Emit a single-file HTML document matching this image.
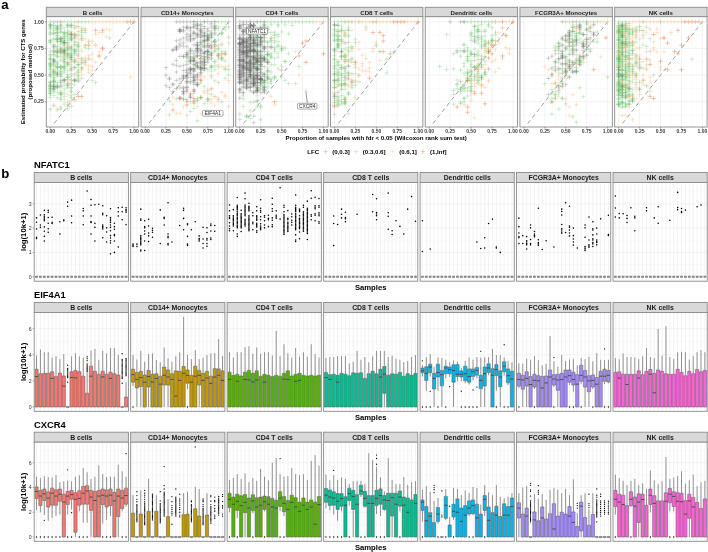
<!DOCTYPE html>
<html><head><meta charset="utf-8"><title>Figure</title>
<style>html,body{margin:0;padding:0;background:#fff}svg{display:block}text{font-family:"Liberation Sans", Arial, Helvetica, sans-serif}</style>
</head><body>
<svg width="708" height="552" viewBox="0 0 708 552">
<rect width="708" height="552" fill="#fff"/>
<rect x="46.30" y="7.3" width="92.4" height="9.40" fill="#d9d9d9" stroke="#8a8a8a" stroke-width="0.9"/>
<rect x="46.30" y="16.7" width="92.4" height="110.30" fill="#fff"/>
<path d="M60.76 16.7V127.0M46.30 114.99H138.70M81.69 16.7V127.0M46.30 88.36H138.70M102.61 16.7V127.0M46.30 61.74H138.70M123.54 16.7V127.0M46.30 35.11H138.70" stroke="#f4f4f4" stroke-width="0.4" fill="none"/>
<path d="M50.30 16.7V127.0M71.22 16.7V127.0M46.30 101.68H138.70M92.15 16.7V127.0M46.30 75.05H138.70M113.08 16.7V127.0M46.30 48.43H138.70M134.00 16.7V127.0M46.30 21.80H138.70" stroke="#ebebeb" stroke-width="0.6" fill="none"/>
<clipPath id="ca0"><rect x="46.30" y="16.7" width="92.4" height="110.30"/></clipPath>
<g clip-path="url(#ca0)">
<path d="M54.07 123.51L134.00 21.80" stroke="#8c8c8c" stroke-width="0.85" stroke-dasharray="4.2 3.2" fill="none"/>
<path d="M48.0 21.8h4.6M50.3 19.5v4.6M62.0 21.8h4.6M64.2 19.5v4.6M65.4 21.8h4.6M67.7 19.5v4.6M68.9 21.8h4.6M71.2 19.5v4.6M72.4 21.8h4.6M74.7 19.5v4.6M75.9 21.8h4.6M78.2 19.5v4.6M79.4 21.8h4.6M81.7 19.5v4.6M82.9 21.8h4.6M85.2 19.5v4.6M86.4 21.8h4.6M88.7 19.5v4.6M48.0 65.0h4.6M50.3 62.7v4.6M48.0 85.5h4.6M50.3 83.2v4.6M48.0 88.6h4.6M50.3 86.3v4.6M48.0 59.7h4.6M50.3 57.4v4.6M48.0 40.6h4.6M50.3 38.3v4.6M48.0 74.3h4.6M50.3 72.0v4.6M48.0 55.9h4.6M50.3 53.6v4.6M48.0 75.8h4.6M50.3 73.5v4.6M48.0 90.6h4.6M50.3 88.3v4.6M48.0 51.1h4.6M50.3 48.8v4.6M48.0 68.6h4.6M50.3 66.3v4.6M48.0 42.1h4.6M50.3 39.8v4.6M48.0 92.8h4.6M50.3 90.5v4.6M48.0 27.7h4.6M50.3 25.4v4.6M48.0 63.8h4.6M50.3 61.5v4.6M48.0 76.1h4.6M50.3 73.8v4.6M48.0 32.1h4.6M50.3 29.8v4.6M48.0 33.2h4.6M50.3 30.9v4.6M48.0 66.3h4.6M50.3 64.0v4.6M48.0 85.3h4.6M50.3 83.0v4.6M48.0 63.1h4.6M50.3 60.8v4.6M48.0 42.0h4.6M50.3 39.7v4.6M48.0 66.8h4.6M50.3 64.5v4.6M48.0 24.7h4.6M50.3 22.4v4.6M48.0 64.7h4.6M50.3 62.4v4.6M48.0 91.6h4.6M50.3 89.3v4.6M48.0 86.9h4.6M50.3 84.6v4.6M48.0 29.0h4.6M50.3 26.7v4.6M48.0 82.8h4.6M50.3 80.5v4.6M48.0 34.4h4.6M50.3 32.1v4.6M48.0 24.9h4.6M50.3 22.6v4.6M48.0 54.5h4.6M50.3 52.2v4.6M48.0 89.1h4.6M50.3 86.8v4.6M48.0 58.9h4.6M50.3 56.6v4.6M48.0 25.0h4.6M50.3 22.7v4.6M48.0 88.9h4.6M50.3 86.6v4.6M48.0 40.1h4.6M50.3 37.8v4.6M48.0 69.7h4.6M50.3 67.4v4.6M48.0 63.6h4.6M50.3 61.3v4.6M48.0 58.5h4.6M50.3 56.2v4.6M48.0 74.5h4.6M50.3 72.2v4.6M48.0 84.3h4.6M50.3 82.0v4.6M48.0 72.0h4.6M50.3 69.7v4.6M51.5 73.4h4.6M53.8 71.1v4.6M51.5 46.3h4.6M53.8 44.0v4.6M51.5 81.9h4.6M53.8 79.6v4.6M51.5 38.9h4.6M53.8 36.6v4.6M51.5 81.9h4.6M53.8 79.6v4.6M51.5 33.9h4.6M53.8 31.6v4.6M51.5 55.1h4.6M53.8 52.8v4.6M51.5 51.6h4.6M53.8 49.3v4.6M51.5 70.5h4.6M53.8 68.2v4.6M51.5 77.6h4.6M53.8 75.3v4.6M51.5 52.2h4.6M53.8 49.9v4.6M51.5 65.7h4.6M53.8 63.4v4.6M51.5 81.4h4.6M53.8 79.1v4.6M51.5 47.6h4.6M53.8 45.3v4.6M51.5 91.7h4.6M53.8 89.4v4.6M51.5 59.3h4.6M53.8 57.0v4.6M51.5 69.1h4.6M53.8 66.8v4.6M51.5 71.5h4.6M53.8 69.2v4.6M51.5 87.8h4.6M53.8 85.5v4.6M51.5 64.8h4.6M53.8 62.5v4.6M51.5 81.0h4.6M53.8 78.7v4.6M51.5 89.8h4.6M53.8 87.5v4.6M51.5 80.2h4.6M53.8 77.9v4.6M51.5 39.4h4.6M53.8 37.1v4.6M51.5 86.1h4.6M53.8 83.8v4.6M51.5 89.3h4.6M53.8 87.0v4.6M51.5 75.4h4.6M53.8 73.1v4.6M51.5 78.1h4.6M53.8 75.8v4.6M51.5 81.3h4.6M53.8 79.0v4.6M51.5 28.4h4.6M53.8 26.1v4.6M51.5 54.5h4.6M53.8 52.2v4.6M51.5 71.3h4.6M53.8 69.0v4.6M51.5 25.2h4.6M53.8 22.9v4.6M51.5 44.4h4.6M53.8 42.1v4.6M51.5 25.8h4.6M53.8 23.5v4.6M51.5 30.3h4.6M53.8 28.0v4.6M55.0 67.0h4.6M57.3 64.7v4.6M55.0 87.6h4.6M57.3 85.3v4.6M55.0 35.6h4.6M57.3 33.3v4.6M55.0 52.7h4.6M57.3 50.4v4.6M55.0 66.9h4.6M57.3 64.6v4.6M55.0 73.8h4.6M57.3 71.5v4.6M55.0 29.2h4.6M57.3 26.9v4.6M55.0 40.0h4.6M57.3 37.7v4.6M55.0 76.3h4.6M57.3 74.0v4.6M55.0 52.2h4.6M57.3 49.9v4.6M55.0 92.4h4.6M57.3 90.1v4.6M55.0 49.3h4.6M57.3 47.0v4.6M55.0 61.7h4.6M57.3 59.4v4.6M55.0 39.2h4.6M57.3 36.9v4.6M55.0 46.6h4.6M57.3 44.3v4.6M55.0 30.7h4.6M57.3 28.4v4.6M55.0 33.3h4.6M57.3 31.0v4.6M55.0 32.5h4.6M57.3 30.2v4.6M55.0 27.2h4.6M57.3 24.9v4.6M55.0 87.0h4.6M57.3 84.7v4.6M55.0 66.9h4.6M57.3 64.6v4.6M55.0 25.7h4.6M57.3 23.4v4.6M55.0 32.7h4.6M57.3 30.4v4.6M55.0 74.5h4.6M57.3 72.2v4.6M55.0 36.0h4.6M57.3 33.7v4.6M55.0 85.1h4.6M57.3 82.8v4.6M55.0 50.9h4.6M57.3 48.6v4.6M55.0 56.7h4.6M57.3 54.4v4.6M55.0 38.8h4.6M57.3 36.5v4.6M55.0 38.1h4.6M57.3 35.8v4.6M55.0 67.0h4.6M57.3 64.7v4.6M55.0 69.3h4.6M57.3 67.0v4.6M55.0 28.6h4.6M57.3 26.3v4.6M55.0 55.9h4.6M57.3 53.6v4.6M55.0 28.7h4.6M57.3 26.4v4.6M55.0 39.5h4.6M57.3 37.2v4.6M55.0 63.3h4.6M57.3 61.0v4.6M55.0 46.1h4.6M57.3 43.8v4.6M55.0 64.4h4.6M57.3 62.1v4.6M55.0 86.8h4.6M57.3 84.5v4.6M55.0 56.1h4.6M57.3 53.8v4.6M55.0 82.5h4.6M57.3 80.2v4.6M55.0 51.5h4.6M57.3 49.2v4.6M58.5 56.8h4.6M60.8 54.5v4.6M58.5 71.1h4.6M60.8 68.8v4.6M58.5 86.8h4.6M60.8 84.5v4.6M58.5 93.2h4.6M60.8 90.9v4.6M58.5 44.3h4.6M60.8 42.0v4.6M58.5 82.7h4.6M60.8 80.4v4.6M58.5 41.5h4.6M60.8 39.2v4.6M58.5 51.0h4.6M60.8 48.7v4.6M58.5 74.0h4.6M60.8 71.7v4.6M58.5 66.5h4.6M60.8 64.2v4.6M58.5 26.0h4.6M60.8 23.7v4.6M58.5 81.8h4.6M60.8 79.5v4.6M58.5 41.3h4.6M60.8 39.0v4.6M58.5 92.8h4.6M60.8 90.5v4.6M58.5 94.2h4.6M60.8 91.9v4.6M58.5 24.6h4.6M60.8 22.3v4.6M58.5 38.6h4.6M60.8 36.3v4.6M58.5 94.4h4.6M60.8 92.1v4.6M58.5 52.5h4.6M60.8 50.2v4.6M58.5 25.8h4.6M60.8 23.5v4.6M58.5 67.0h4.6M60.8 64.7v4.6M58.5 50.7h4.6M60.8 48.4v4.6M58.5 73.6h4.6M60.8 71.3v4.6M58.5 31.8h4.6M60.8 29.5v4.6M58.5 40.8h4.6M60.8 38.5v4.6M58.5 67.7h4.6M60.8 65.4v4.6M58.5 49.5h4.6M60.8 47.2v4.6M58.5 76.1h4.6M60.8 73.8v4.6M58.5 38.1h4.6M60.8 35.8v4.6M58.5 67.5h4.6M60.8 65.2v4.6M58.5 39.1h4.6M60.8 36.8v4.6M58.5 32.0h4.6M60.8 29.7v4.6M58.5 60.3h4.6M60.8 58.0v4.6M58.5 71.7h4.6M60.8 69.4v4.6M58.5 53.7h4.6M60.8 51.4v4.6M58.5 41.6h4.6M60.8 39.3v4.6M58.5 94.1h4.6M60.8 91.8v4.6M58.5 76.3h4.6M60.8 74.0v4.6M58.5 38.4h4.6M60.8 36.1v4.6M58.5 52.0h4.6M60.8 49.7v4.6M58.5 50.0h4.6M60.8 47.7v4.6M58.5 67.1h4.6M60.8 64.8v4.6M62.0 43.8h4.6M64.2 41.5v4.6M62.0 42.5h4.6M64.2 40.2v4.6M62.0 50.0h4.6M64.2 47.7v4.6M62.0 56.0h4.6M64.2 53.7v4.6M62.0 42.4h4.6M64.2 40.1v4.6M62.0 36.2h4.6M64.2 33.9v4.6M62.0 68.6h4.6M64.2 66.3v4.6M62.0 47.0h4.6M64.2 44.7v4.6M62.0 62.9h4.6M64.2 60.6v4.6M62.0 33.9h4.6M64.2 31.6v4.6M62.0 67.8h4.6M64.2 65.5v4.6M62.0 33.0h4.6M64.2 30.7v4.6M62.0 66.6h4.6M64.2 64.3v4.6M62.0 59.8h4.6M64.2 57.5v4.6M62.0 59.3h4.6M64.2 57.0v4.6M62.0 89.0h4.6M64.2 86.7v4.6M62.0 42.8h4.6M64.2 40.5v4.6M62.0 53.5h4.6M64.2 51.2v4.6M62.0 38.8h4.6M64.2 36.5v4.6M62.0 38.2h4.6M64.2 35.9v4.6M62.0 66.2h4.6M64.2 63.9v4.6M62.0 32.6h4.6M64.2 30.3v4.6M62.0 84.8h4.6M64.2 82.5v4.6M62.0 72.3h4.6M64.2 70.0v4.6M62.0 70.0h4.6M64.2 67.7v4.6M62.0 80.2h4.6M64.2 77.9v4.6M62.0 45.5h4.6M64.2 43.2v4.6M62.0 42.5h4.6M64.2 40.2v4.6M62.0 36.8h4.6M64.2 34.5v4.6M62.0 32.8h4.6M64.2 30.5v4.6M62.0 57.3h4.6M64.2 55.0v4.6M62.0 27.9h4.6M64.2 25.6v4.6M62.0 50.8h4.6M64.2 48.5v4.6M62.0 93.1h4.6M64.2 90.8v4.6M62.0 54.7h4.6M64.2 52.4v4.6M62.0 79.7h4.6M64.2 77.4v4.6M62.0 49.3h4.6M64.2 47.0v4.6M62.0 66.1h4.6M64.2 63.8v4.6M62.0 52.1h4.6M64.2 49.8v4.6M65.4 48.0h4.6M67.7 45.7v4.6M65.4 64.7h4.6M67.7 62.4v4.6M65.4 49.6h4.6M67.7 47.3v4.6M65.4 42.5h4.6M67.7 40.2v4.6M65.4 54.1h4.6M67.7 51.8v4.6M65.4 38.0h4.6M67.7 35.7v4.6M65.4 54.1h4.6M67.7 51.8v4.6M65.4 63.1h4.6M67.7 60.8v4.6M65.4 25.6h4.6M67.7 23.3v4.6M65.4 34.6h4.6M67.7 32.3v4.6M65.4 64.8h4.6M67.7 62.5v4.6M65.4 87.9h4.6M67.7 85.6v4.6M65.4 58.7h4.6M67.7 56.4v4.6M65.4 45.0h4.6M67.7 42.7v4.6M65.4 53.5h4.6M67.7 51.2v4.6M65.4 33.6h4.6M67.7 31.3v4.6M65.4 40.1h4.6M67.7 37.8v4.6M65.4 24.9h4.6M67.7 22.6v4.6M65.4 48.2h4.6M67.7 45.9v4.6M65.4 56.7h4.6M67.7 54.4v4.6M65.4 27.0h4.6M67.7 24.7v4.6M65.4 55.8h4.6M67.7 53.5v4.6M65.4 77.5h4.6M67.7 75.2v4.6M65.4 85.4h4.6M67.7 83.1v4.6M65.4 47.7h4.6M67.7 45.4v4.6M65.4 86.0h4.6M67.7 83.7v4.6M65.4 35.9h4.6M67.7 33.6v4.6M65.4 84.8h4.6M67.7 82.5v4.6M65.4 32.3h4.6M67.7 30.0v4.6M65.4 25.2h4.6M67.7 22.9v4.6M65.4 77.0h4.6M67.7 74.7v4.6M65.4 30.9h4.6M67.7 28.6v4.6M65.4 50.0h4.6M67.7 47.7v4.6M65.4 74.6h4.6M67.7 72.3v4.6M65.4 77.5h4.6M67.7 75.2v4.6M65.4 79.5h4.6M67.7 77.2v4.6M65.4 43.0h4.6M67.7 40.7v4.6M65.4 70.3h4.6M67.7 68.0v4.6M65.4 55.0h4.6M67.7 52.7v4.6M68.9 31.8h4.6M71.2 29.5v4.6M68.9 74.2h4.6M71.2 71.9v4.6M68.9 50.3h4.6M71.2 48.0v4.6M68.9 68.5h4.6M71.2 66.2v4.6M68.9 34.1h4.6M71.2 31.8v4.6M68.9 36.9h4.6M71.2 34.6v4.6M68.9 47.8h4.6M71.2 45.5v4.6M68.9 40.6h4.6M71.2 38.3v4.6M68.9 34.3h4.6M71.2 32.0v4.6M68.9 53.0h4.6M71.2 50.7v4.6M68.9 25.5h4.6M71.2 23.2v4.6M68.9 57.3h4.6M71.2 55.0v4.6M68.9 49.0h4.6M71.2 46.7v4.6M68.9 61.9h4.6M71.2 59.6v4.6M68.9 91.8h4.6M71.2 89.5v4.6M68.9 87.5h4.6M71.2 85.2v4.6M68.9 53.6h4.6M71.2 51.3v4.6M68.9 57.1h4.6M71.2 54.8v4.6M68.9 59.5h4.6M71.2 57.2v4.6M68.9 38.1h4.6M71.2 35.8v4.6M68.9 55.3h4.6M71.2 53.0v4.6M68.9 91.2h4.6M71.2 88.9v4.6M68.9 59.3h4.6M71.2 57.0v4.6M68.9 38.7h4.6M71.2 36.4v4.6M68.9 26.8h4.6M71.2 24.5v4.6M68.9 66.3h4.6M71.2 64.0v4.6M68.9 54.9h4.6M71.2 52.6v4.6M68.9 76.4h4.6M71.2 74.1v4.6M68.9 88.1h4.6M71.2 85.8v4.6M72.4 84.8h4.6M74.7 82.5v4.6M72.4 73.9h4.6M74.7 71.6v4.6M72.4 25.6h4.6M74.7 23.3v4.6M72.4 50.0h4.6M74.7 47.7v4.6M72.4 44.8h4.6M74.7 42.5v4.6M72.4 42.1h4.6M74.7 39.8v4.6M72.4 35.9h4.6M74.7 33.6v4.6M72.4 34.8h4.6M74.7 32.5v4.6M72.4 67.6h4.6M74.7 65.3v4.6M72.4 59.8h4.6M74.7 57.5v4.6M72.4 80.9h4.6M74.7 78.6v4.6M72.4 36.1h4.6M74.7 33.8v4.6M72.4 55.2h4.6M74.7 52.9v4.6M72.4 34.5h4.6M74.7 32.2v4.6M72.4 80.6h4.6M74.7 78.3v4.6M72.4 53.4h4.6M74.7 51.1v4.6M72.4 60.7h4.6M74.7 58.4v4.6M72.4 51.7h4.6M74.7 49.4v4.6M72.4 51.8h4.6M74.7 49.5v4.6M72.4 79.8h4.6M74.7 77.5v4.6M72.4 44.8h4.6M74.7 42.5v4.6M72.4 49.8h4.6M74.7 47.5v4.6M72.4 62.0h4.6M74.7 59.7v4.6M72.4 49.8h4.6M74.7 47.5v4.6M72.4 80.6h4.6M74.7 78.3v4.6M72.4 27.9h4.6M74.7 25.6v4.6M72.4 62.0h4.6M74.7 59.7v4.6M75.9 50.1h4.6M78.2 47.8v4.6M75.9 44.2h4.6M78.2 41.9v4.6M75.9 64.7h4.6M78.2 62.4v4.6M75.9 26.5h4.6M78.2 24.2v4.6M75.9 76.3h4.6M78.2 74.0v4.6M75.9 31.5h4.6M78.2 29.2v4.6M75.9 65.0h4.6M78.2 62.7v4.6M75.9 80.1h4.6M78.2 77.8v4.6M75.9 35.7h4.6M78.2 33.4v4.6M75.9 51.8h4.6M78.2 49.5v4.6M75.9 72.0h4.6M78.2 69.7v4.6M75.9 47.0h4.6M78.2 44.7v4.6M75.9 45.8h4.6M78.2 43.5v4.6M75.9 46.2h4.6M78.2 43.9v4.6M75.9 69.4h4.6M78.2 67.1v4.6M75.9 78.3h4.6M78.2 76.0v4.6M75.9 42.5h4.6M78.2 40.2v4.6M75.9 64.5h4.6M78.2 62.2v4.6M75.9 72.4h4.6M78.2 70.1v4.6M75.9 75.4h4.6M78.2 73.1v4.6M79.4 35.9h4.6M81.7 33.6v4.6M79.4 59.2h4.6M81.7 56.9v4.6M79.4 58.3h4.6M81.7 56.0v4.6M79.4 38.9h4.6M81.7 36.6v4.6M79.4 32.4h4.6M81.7 30.1v4.6M79.4 38.5h4.6M81.7 36.2v4.6M79.4 30.0h4.6M81.7 27.7v4.6M79.4 78.5h4.6M81.7 76.2v4.6M79.4 28.1h4.6M81.7 25.8v4.6M79.4 63.3h4.6M81.7 61.0v4.6M79.4 62.5h4.6M81.7 60.2v4.6M79.4 67.9h4.6M81.7 65.6v4.6M79.4 68.2h4.6M81.7 65.9v4.6M82.9 32.6h4.6M85.2 30.3v4.6M82.9 60.2h4.6M85.2 57.9v4.6M82.9 30.5h4.6M85.2 28.2v4.6M82.9 45.0h4.6M85.2 42.7v4.6M82.9 47.3h4.6M85.2 45.0v4.6M86.4 59.3h4.6M88.7 57.0v4.6M86.4 48.6h4.6M88.7 46.3v4.6M86.4 41.4h4.6M88.7 39.1v4.6M48.0 97.3h4.6M50.3 95.0v4.6M48.0 93.7h4.6M50.3 91.4v4.6M48.0 93.7h4.6M50.3 91.4v4.6M51.5 95.5h4.6M53.8 93.2v4.6M51.5 105.7h4.6M53.8 103.4v4.6M55.0 110.1h4.6M57.3 107.8v4.6M55.0 97.9h4.6M57.3 95.6v4.6M58.5 107.0h4.6M60.8 104.7v4.6M58.5 98.1h4.6M60.8 95.8v4.6M58.5 99.7h4.6M60.8 97.4v4.6M62.0 96.4h4.6M64.2 94.1v4.6M62.0 104.2h4.6M64.2 101.9v4.6M65.4 108.8h4.6M67.7 106.5v4.6M65.4 102.3h4.6M67.7 100.0v4.6M65.4 106.2h4.6M67.7 103.9v4.6M68.9 106.3h4.6M71.2 104.0v4.6M68.9 97.5h4.6M71.2 95.2v4.6M68.9 95.7h4.6M71.2 93.4v4.6M72.4 94.5h4.6M74.7 92.2v4.6M72.4 99.8h4.6M74.7 97.5v4.6M89.9 80.4h4.6M92.2 78.1v4.6M93.3 82.5h4.6M95.6 80.2v4.6M48.0 109.1h4.6M50.3 106.8v4.6M58.5 109.1h4.6M60.8 106.8v4.6M107.3 37.8h4.6M109.6 35.5v4.6" stroke="#68c468" stroke-opacity="0.5" stroke-width="0.55" fill="none"/>
<path d="M51.5 21.8h4.6M53.8 19.5v4.6M55.0 21.8h4.6M57.3 19.5v4.6M58.5 21.8h4.6M60.8 19.5v4.6M48.0 26.1h4.6M50.3 23.8v4.6M48.0 82.1h4.6M50.3 79.8v4.6M48.0 86.7h4.6M50.3 84.4v4.6M51.5 86.6h4.6M53.8 84.3v4.6M51.5 72.8h4.6M53.8 70.5v4.6M51.5 88.8h4.6M53.8 86.5v4.6M51.5 86.7h4.6M53.8 84.4v4.6M51.5 62.7h4.6M53.8 60.4v4.6M51.5 46.1h4.6M53.8 43.8v4.6M51.5 60.2h4.6M53.8 57.9v4.6M51.5 84.9h4.6M53.8 82.6v4.6M51.5 33.0h4.6M53.8 30.7v4.6M51.5 61.4h4.6M53.8 59.1v4.6M51.5 50.7h4.6M53.8 48.4v4.6M51.5 60.3h4.6M53.8 58.0v4.6M55.0 74.2h4.6M57.3 71.9v4.6M55.0 51.8h4.6M57.3 49.5v4.6M55.0 72.3h4.6M57.3 70.0v4.6M55.0 41.8h4.6M57.3 39.5v4.6M55.0 27.0h4.6M57.3 24.7v4.6M55.0 86.6h4.6M57.3 84.3v4.6M58.5 38.9h4.6M60.8 36.6v4.6M58.5 51.5h4.6M60.8 49.2v4.6M58.5 48.1h4.6M60.8 45.8v4.6M58.5 85.7h4.6M60.8 83.4v4.6M58.5 80.2h4.6M60.8 77.9v4.6M58.5 28.9h4.6M60.8 26.6v4.6M62.0 41.0h4.6M64.2 38.7v4.6M62.0 61.7h4.6M64.2 59.4v4.6M62.0 80.9h4.6M64.2 78.6v4.6M62.0 51.3h4.6M64.2 49.0v4.6M62.0 52.6h4.6M64.2 50.3v4.6M62.0 43.0h4.6M64.2 40.7v4.6M62.0 79.8h4.6M64.2 77.5v4.6M62.0 50.4h4.6M64.2 48.1v4.6M65.4 83.2h4.6M67.7 80.9v4.6M65.4 62.9h4.6M67.7 60.6v4.6M68.9 39.3h4.6M71.2 37.0v4.6M68.9 57.4h4.6M71.2 55.1v4.6M68.9 34.1h4.6M71.2 31.8v4.6M68.9 25.2h4.6M71.2 22.9v4.6M68.9 80.0h4.6M71.2 77.7v4.6M68.9 69.5h4.6M71.2 67.2v4.6M68.9 83.8h4.6M71.2 81.5v4.6M68.9 34.7h4.6M71.2 32.4v4.6M68.9 46.7h4.6M71.2 44.4v4.6M72.4 38.1h4.6M74.7 35.8v4.6M72.4 80.0h4.6M74.7 77.7v4.6M72.4 67.4h4.6M74.7 65.1v4.6M75.9 54.9h4.6M78.2 52.6v4.6M75.9 81.2h4.6M78.2 78.9v4.6M82.9 62.3h4.6M85.2 60.0v4.6" stroke="#6e6e6e" stroke-opacity="0.5" stroke-width="0.55" fill="none"/>
<path d="M89.9 21.8h4.6M92.2 19.5v4.6M93.3 21.8h4.6M95.6 19.5v4.6M96.8 21.8h4.6M99.1 19.5v4.6M100.3 21.8h4.6M102.6 19.5v4.6M103.8 21.8h4.6M106.1 19.5v4.6M107.3 21.8h4.6M109.6 19.5v4.6M110.8 21.8h4.6M113.1 19.5v4.6M114.3 21.8h4.6M116.6 19.5v4.6M117.8 21.8h4.6M120.0 19.5v4.6M121.2 21.8h4.6M123.5 19.5v4.6M58.5 21.8h4.6M60.8 19.5v4.6M75.9 21.8h4.6M78.2 19.5v4.6M51.5 71.7h4.6M53.8 69.4v4.6M51.5 65.5h4.6M53.8 63.2v4.6M55.0 49.6h4.6M57.3 47.3v4.6M58.5 51.2h4.6M60.8 48.9v4.6M58.5 91.2h4.6M60.8 88.9v4.6M62.0 58.0h4.6M64.2 55.7v4.6M65.4 80.9h4.6M67.7 78.6v4.6M65.4 94.5h4.6M67.7 92.2v4.6M65.4 54.8h4.6M67.7 52.5v4.6M65.4 46.1h4.6M67.7 43.8v4.6M65.4 51.1h4.6M67.7 48.8v4.6M68.9 80.1h4.6M71.2 77.8v4.6M68.9 70.9h4.6M71.2 68.6v4.6M72.4 74.6h4.6M74.7 72.3v4.6M72.4 28.1h4.6M74.7 25.8v4.6M72.4 59.6h4.6M74.7 57.3v4.6M72.4 41.6h4.6M74.7 39.3v4.6M75.9 34.5h4.6M78.2 32.2v4.6M75.9 26.8h4.6M78.2 24.5v4.6M79.4 74.3h4.6M81.7 72.0v4.6M82.9 29.0h4.6M85.2 26.7v4.6M68.9 60.8h4.6M71.2 58.5v4.6M68.9 64.2h4.6M71.2 61.9v4.6M72.4 34.3h4.6M74.7 32.0v4.6M72.4 35.2h4.6M74.7 32.9v4.6M72.4 33.8h4.6M74.7 31.5v4.6M75.9 39.1h4.6M78.2 36.8v4.6M75.9 56.2h4.6M78.2 53.9v4.6M75.9 58.5h4.6M78.2 56.2v4.6M75.9 61.8h4.6M78.2 59.5v4.6M75.9 71.0h4.6M78.2 68.7v4.6M79.4 70.3h4.6M81.7 68.0v4.6M79.4 61.1h4.6M81.7 58.8v4.6M79.4 40.5h4.6M81.7 38.2v4.6M79.4 51.0h4.6M81.7 48.7v4.6M79.4 30.7h4.6M81.7 28.4v4.6M79.4 67.9h4.6M81.7 65.6v4.6M82.9 57.6h4.6M85.2 55.3v4.6M82.9 28.5h4.6M85.2 26.2v4.6M82.9 60.7h4.6M85.2 58.4v4.6M82.9 64.8h4.6M85.2 62.5v4.6M82.9 45.3h4.6M85.2 43.0v4.6M82.9 38.9h4.6M85.2 36.6v4.6M86.4 65.6h4.6M88.7 63.3v4.6M86.4 69.1h4.6M88.7 66.8v4.6M86.4 72.4h4.6M88.7 70.1v4.6M86.4 55.4h4.6M88.7 53.1v4.6M86.4 41.5h4.6M88.7 39.2v4.6M86.4 58.5h4.6M88.7 56.2v4.6M89.9 66.4h4.6M92.2 64.1v4.6M89.9 59.6h4.6M92.2 57.3v4.6M89.9 70.2h4.6M92.2 67.9v4.6M89.9 54.1h4.6M92.2 51.8v4.6M89.9 41.6h4.6M92.2 39.3v4.6M93.3 45.6h4.6M95.6 43.3v4.6M93.3 62.3h4.6M95.6 60.0v4.6M93.3 44.5h4.6M95.6 42.2v4.6M93.3 34.3h4.6M95.6 32.0v4.6M96.8 51.6h4.6M99.1 49.3v4.6M96.8 32.6h4.6M99.1 30.3v4.6M96.8 56.2h4.6M99.1 53.9v4.6M100.3 32.7h4.6M102.6 30.4v4.6M100.3 47.6h4.6M102.6 45.3v4.6M100.3 49.7h4.6M102.6 47.4v4.6M103.8 37.0h4.6M106.1 34.7v4.6M103.8 28.7h4.6M106.1 26.4v4.6M107.3 30.0h4.6M109.6 27.7v4.6M51.5 105.3h4.6M53.8 103.0v4.6M55.0 109.1h4.6M57.3 106.8v4.6M62.0 99.8h4.6M64.2 97.5v4.6M72.4 99.8h4.6M74.7 97.5v4.6M128.2 77.2h4.6M130.5 74.9v4.6M65.4 104.9h4.6M67.7 102.6v4.6M68.9 100.6h4.6M71.2 98.3v4.6" stroke="#fdb77a" stroke-opacity="0.6" stroke-width="0.55" fill="none"/>
<path d="M124.7 21.8h4.6M127.0 19.5v4.6M128.2 21.8h4.6M130.5 19.5v4.6M131.7 21.8h4.6M134.0 19.5v4.6M93.3 30.3h4.6M95.6 28.0v4.6M100.3 30.3h4.6M102.6 28.0v4.6M100.3 48.4h4.6M102.6 46.1v4.6M96.8 55.9h4.6M99.1 53.6v4.6M75.9 96.4h4.6M78.2 94.1v4.6M79.4 96.4h4.6M81.7 94.1v4.6M86.4 45.2h4.6M88.7 42.9v4.6" stroke="#e8702a" stroke-opacity="0.7" stroke-width="0.55" fill="none"/>
</g>
<rect x="46.30" y="16.7" width="92.4" height="110.30" fill="none" stroke="#8a8a8a" stroke-width="0.9"/>
<text x="92.50" y="14.5" font-size="6.1" font-weight="bold" text-anchor="middle" fill="#1a1a1a">B cells</text>
<text x="50.30" y="133.1" font-size="5" font-weight="bold" text-anchor="middle" fill="#3a3a3a">0.00</text>
<text x="71.22" y="133.1" font-size="5" font-weight="bold" text-anchor="middle" fill="#3a3a3a">0.25</text>
<text x="92.15" y="133.1" font-size="5" font-weight="bold" text-anchor="middle" fill="#3a3a3a">0.50</text>
<text x="113.08" y="133.1" font-size="5" font-weight="bold" text-anchor="middle" fill="#3a3a3a">0.75</text>
<text x="134.00" y="133.1" font-size="5" font-weight="bold" text-anchor="middle" fill="#3a3a3a">1.00</text>
<path d="M50.30 127.0v1.6M71.22 127.0v1.6M92.15 127.0v1.6M113.08 127.0v1.6M134.00 127.0v1.6" stroke="#555" stroke-width="0.5" fill="none"/>
<rect x="141.03" y="7.3" width="92.4" height="9.40" fill="#d9d9d9" stroke="#8a8a8a" stroke-width="0.9"/>
<rect x="141.03" y="16.7" width="92.4" height="110.30" fill="#fff"/>
<path d="M155.49 16.7V127.0M141.03 114.99H233.43M176.42 16.7V127.0M141.03 88.36H233.43M197.34 16.7V127.0M141.03 61.74H233.43M218.27 16.7V127.0M141.03 35.11H233.43" stroke="#f4f4f4" stroke-width="0.4" fill="none"/>
<path d="M145.03 16.7V127.0M165.96 16.7V127.0M141.03 101.68H233.43M186.88 16.7V127.0M141.03 75.05H233.43M207.81 16.7V127.0M141.03 48.43H233.43M228.73 16.7V127.0M141.03 21.80H233.43" stroke="#ebebeb" stroke-width="0.6" fill="none"/>
<clipPath id="ca1"><rect x="141.03" y="16.7" width="92.4" height="110.30"/></clipPath>
<g clip-path="url(#ca1)">
<path d="M148.80 123.51L228.73 21.80" stroke="#8c8c8c" stroke-width="0.85" stroke-dasharray="4.2 3.2" fill="none"/>
<path d="M212.5 21.8h4.6M214.8 19.5v4.6M216.0 21.8h4.6M218.3 19.5v4.6M219.5 21.8h4.6M221.8 19.5v4.6M222.9 21.8h4.6M225.2 19.5v4.6M226.4 21.8h4.6M228.7 19.5v4.6M191.6 21.8h4.6M193.9 19.5v4.6M202.0 21.8h4.6M204.3 19.5v4.6M184.6 99.5h4.6M186.9 97.2v4.6M184.6 61.2h4.6M186.9 58.9v4.6M188.1 56.6h4.6M190.4 54.3v4.6M188.1 82.7h4.6M190.4 80.4v4.6M188.1 111.4h4.6M190.4 109.1v4.6M188.1 56.6h4.6M190.4 54.3v4.6M191.6 58.5h4.6M193.9 56.2v4.6M191.6 56.8h4.6M193.9 54.5v4.6M191.6 68.6h4.6M193.9 66.3v4.6M191.6 65.0h4.6M193.9 62.7v4.6M191.6 103.5h4.6M193.9 101.2v4.6M191.6 108.5h4.6M193.9 106.2v4.6M195.0 48.3h4.6M197.3 46.0v4.6M195.0 66.4h4.6M197.3 64.1v4.6M195.0 68.1h4.6M197.3 65.8v4.6M195.0 62.9h4.6M197.3 60.6v4.6M195.0 98.5h4.6M197.3 96.2v4.6M195.0 56.2h4.6M197.3 53.9v4.6M195.0 46.1h4.6M197.3 43.8v4.6M195.0 48.3h4.6M197.3 46.0v4.6M198.5 83.2h4.6M200.8 80.9v4.6M198.5 97.4h4.6M200.8 95.1v4.6M198.5 68.0h4.6M200.8 65.7v4.6M198.5 98.0h4.6M200.8 95.7v4.6M198.5 47.1h4.6M200.8 44.8v4.6M198.5 36.2h4.6M200.8 33.9v4.6M198.5 79.8h4.6M200.8 77.5v4.6M198.5 64.7h4.6M200.8 62.4v4.6M198.5 40.0h4.6M200.8 37.7v4.6M202.0 65.1h4.6M204.3 62.8v4.6M202.0 58.4h4.6M204.3 56.1v4.6M202.0 40.4h4.6M204.3 38.1v4.6M202.0 68.4h4.6M204.3 66.1v4.6M202.0 41.0h4.6M204.3 38.7v4.6M202.0 103.6h4.6M204.3 101.3v4.6M202.0 56.5h4.6M204.3 54.2v4.6M202.0 44.1h4.6M204.3 41.8v4.6M202.0 70.4h4.6M204.3 68.1v4.6M202.0 86.3h4.6M204.3 84.0v4.6M205.5 35.8h4.6M207.8 33.5v4.6M205.5 50.1h4.6M207.8 47.8v4.6M205.5 99.8h4.6M207.8 97.5v4.6M205.5 98.6h4.6M207.8 96.3v4.6M205.5 37.8h4.6M207.8 35.5v4.6M205.5 99.8h4.6M207.8 97.5v4.6M205.5 52.1h4.6M207.8 49.8v4.6M205.5 69.3h4.6M207.8 67.0v4.6M205.5 36.0h4.6M207.8 33.7v4.6M205.5 90.4h4.6M207.8 88.1v4.6M209.0 35.4h4.6M211.3 33.1v4.6M209.0 59.0h4.6M211.3 56.7v4.6M209.0 53.0h4.6M211.3 50.7v4.6M209.0 71.2h4.6M211.3 68.9v4.6M209.0 75.8h4.6M211.3 73.5v4.6M209.0 67.0h4.6M211.3 64.7v4.6M209.0 94.3h4.6M211.3 92.0v4.6M209.0 66.7h4.6M211.3 64.4v4.6M209.0 67.5h4.6M211.3 65.2v4.6M212.5 62.0h4.6M214.8 59.7v4.6M212.5 30.1h4.6M214.8 27.8v4.6M212.5 34.6h4.6M214.8 32.3v4.6M212.5 80.9h4.6M214.8 78.6v4.6M212.5 50.6h4.6M214.8 48.3v4.6M212.5 61.4h4.6M214.8 59.1v4.6M212.5 41.5h4.6M214.8 39.2v4.6M212.5 69.6h4.6M214.8 67.3v4.6M216.0 67.1h4.6M218.3 64.8v4.6M216.0 55.2h4.6M218.3 52.9v4.6M216.0 54.9h4.6M218.3 52.6v4.6M216.0 82.5h4.6M218.3 80.2v4.6M216.0 53.6h4.6M218.3 51.3v4.6M216.0 39.9h4.6M218.3 37.6v4.6M216.0 48.2h4.6M218.3 45.9v4.6M219.5 44.1h4.6M221.8 41.8v4.6M219.5 59.9h4.6M221.8 57.6v4.6M219.5 57.2h4.6M221.8 54.9v4.6M219.5 58.7h4.6M221.8 56.4v4.6M219.5 32.6h4.6M221.8 30.3v4.6M222.9 51.9h4.6M225.2 49.6v4.6M222.9 29.3h4.6M225.2 27.0v4.6M222.9 69.3h4.6M225.2 67.0v4.6M222.9 26.6h4.6M225.2 24.3v4.6M226.4 75.0h4.6M228.7 72.7v4.6M226.4 69.7h4.6M228.7 67.4v4.6M202.0 58.0h4.6M204.3 55.7v4.6M202.0 46.5h4.6M204.3 44.2v4.6M205.5 45.9h4.6M207.8 43.6v4.6M205.5 37.0h4.6M207.8 34.7v4.6M205.5 35.1h4.6M207.8 32.8v4.6M209.0 42.0h4.6M211.3 39.7v4.6M209.0 65.6h4.6M211.3 63.3v4.6M209.0 30.9h4.6M211.3 28.6v4.6M209.0 58.0h4.6M211.3 55.7v4.6M212.5 27.8h4.6M214.8 25.5v4.6M212.5 40.8h4.6M214.8 38.5v4.6M212.5 65.8h4.6M214.8 63.5v4.6M212.5 51.4h4.6M214.8 49.1v4.6M212.5 28.2h4.6M214.8 25.9v4.6M216.0 45.4h4.6M218.3 43.1v4.6M216.0 49.1h4.6M218.3 46.8v4.6M216.0 26.9h4.6M218.3 24.6v4.6M216.0 28.8h4.6M218.3 26.5v4.6M216.0 59.0h4.6M218.3 56.7v4.6M219.5 58.0h4.6M221.8 55.7v4.6M219.5 33.4h4.6M221.8 31.1v4.6M219.5 51.4h4.6M221.8 49.1v4.6M219.5 33.7h4.6M221.8 31.4v4.6M222.9 69.0h4.6M225.2 66.7v4.6M222.9 60.8h4.6M225.2 58.5v4.6M222.9 54.1h4.6M225.2 51.8v4.6M226.4 37.3h4.6M228.7 35.0v4.6M226.4 27.2h4.6M228.7 24.9v4.6M167.1 114.7h4.6M169.4 112.4v4.6M167.1 101.1h4.6M169.4 98.8v4.6M174.1 98.9h4.6M176.4 96.6v4.6M181.1 98.8h4.6M183.4 96.5v4.6M188.1 101.7h4.6M190.4 99.4v4.6M191.6 100.9h4.6M193.9 98.6v4.6M195.0 100.2h4.6M197.3 97.9v4.6M195.0 100.3h4.6M197.3 98.0v4.6M195.0 120.8h4.6M197.3 118.5v4.6M216.0 99.5h4.6M218.3 97.2v4.6M219.5 101.7h4.6M221.8 99.4v4.6M222.9 78.2h4.6M225.2 75.9v4.6" stroke="#68c468" stroke-opacity="0.5" stroke-width="0.55" fill="none"/>
<path d="M191.6 93.6h4.6M193.9 91.3v4.6M195.0 106.4h4.6M197.3 104.1v4.6M195.0 56.2h4.6M197.3 53.9v4.6M198.5 77.0h4.6M200.8 74.7v4.6M198.5 63.6h4.6M200.8 61.3v4.6M198.5 75.5h4.6M200.8 73.2v4.6M202.0 91.0h4.6M204.3 88.7v4.6M202.0 76.9h4.6M204.3 74.6v4.6M202.0 92.7h4.6M204.3 90.4v4.6M202.0 59.1h4.6M204.3 56.8v4.6M205.5 93.3h4.6M207.8 91.0v4.6M205.5 101.2h4.6M207.8 98.9v4.6M205.5 47.5h4.6M207.8 45.2v4.6M205.5 46.4h4.6M207.8 44.1v4.6M209.0 103.1h4.6M211.3 100.8v4.6M209.0 58.3h4.6M211.3 56.0v4.6M209.0 77.9h4.6M211.3 75.6v4.6M209.0 99.4h4.6M211.3 97.1v4.6M212.5 49.1h4.6M214.8 46.8v4.6M212.5 105.0h4.6M214.8 102.7v4.6M212.5 96.5h4.6M214.8 94.2v4.6M212.5 96.6h4.6M214.8 94.3v4.6M216.0 97.7h4.6M218.3 95.4v4.6M216.0 101.8h4.6M218.3 99.5v4.6M216.0 64.8h4.6M218.3 62.5v4.6M216.0 73.3h4.6M218.3 71.0v4.6M219.5 66.7h4.6M221.8 64.4v4.6M219.5 92.4h4.6M221.8 90.1v4.6M219.5 44.8h4.6M221.8 42.5v4.6M222.9 95.2h4.6M225.2 92.9v4.6M222.9 66.9h4.6M225.2 64.6v4.6M222.9 96.5h4.6M225.2 94.2v4.6M226.4 106.6h4.6M228.7 104.3v4.6M226.4 65.8h4.6M228.7 63.5v4.6M170.6 97.0h4.6M172.9 94.7v4.6M170.6 104.6h4.6M172.9 102.3v4.6M174.1 113.2h4.6M176.4 110.9v4.6M177.6 113.3h4.6M179.9 111.0v4.6M181.1 106.7h4.6M183.4 104.4v4.6M184.6 115.4h4.6M186.9 113.1v4.6M198.5 113.7h4.6M200.8 111.4v4.6M226.4 80.4h4.6M228.7 78.1v4.6M226.4 43.1h4.6M228.7 40.8v4.6" stroke="#fdb77a" stroke-opacity="0.6" stroke-width="0.55" fill="none"/>
<path d="M174.1 21.8h4.6M176.4 19.5v4.6M177.6 21.8h4.6M179.9 19.5v4.6M181.1 21.8h4.6M183.4 19.5v4.6M184.6 21.8h4.6M186.9 19.5v4.6M188.1 21.8h4.6M190.4 19.5v4.6M191.6 21.8h4.6M193.9 19.5v4.6M195.0 21.8h4.6M197.3 19.5v4.6M198.5 21.8h4.6M200.8 19.5v4.6M202.0 21.8h4.6M204.3 19.5v4.6M205.5 21.8h4.6M207.8 19.5v4.6M209.0 21.8h4.6M211.3 19.5v4.6M212.5 21.8h4.6M214.8 19.5v4.6M163.7 85.7h4.6M166.0 83.4v4.6M163.7 75.1h4.6M166.0 72.8v4.6M167.1 78.0h4.6M169.4 75.7v4.6M167.1 79.2h4.6M169.4 76.9v4.6M167.1 87.6h4.6M169.4 85.3v4.6M170.6 64.3h4.6M172.9 62.0v4.6M170.6 84.1h4.6M172.9 81.8v4.6M170.6 49.8h4.6M172.9 47.5v4.6M170.6 84.7h4.6M172.9 82.4v4.6M170.6 50.3h4.6M172.9 48.0v4.6M170.6 91.8h4.6M172.9 89.5v4.6M174.1 72.0h4.6M176.4 69.7v4.6M174.1 65.4h4.6M176.4 63.1v4.6M174.1 40.8h4.6M176.4 38.5v4.6M174.1 47.4h4.6M176.4 45.1v4.6M174.1 80.4h4.6M176.4 78.1v4.6M174.1 60.4h4.6M176.4 58.1v4.6M174.1 46.6h4.6M176.4 44.3v4.6M174.1 88.7h4.6M176.4 86.4v4.6M174.1 49.0h4.6M176.4 46.7v4.6M174.1 49.4h4.6M176.4 47.1v4.6M177.6 29.7h4.6M179.9 27.4v4.6M177.6 83.6h4.6M179.9 81.3v4.6M177.6 46.1h4.6M179.9 43.8v4.6M177.6 66.4h4.6M179.9 64.1v4.6M177.6 30.3h4.6M179.9 28.0v4.6M177.6 43.8h4.6M179.9 41.5v4.6M177.6 98.3h4.6M179.9 96.0v4.6M177.6 31.3h4.6M179.9 29.0v4.6M177.6 39.9h4.6M179.9 37.6v4.6M177.6 79.0h4.6M179.9 76.7v4.6M177.6 29.7h4.6M179.9 27.4v4.6M177.6 87.7h4.6M179.9 85.4v4.6M177.6 31.4h4.6M179.9 29.1v4.6M177.6 56.4h4.6M179.9 54.1v4.6M177.6 97.8h4.6M179.9 95.5v4.6M181.1 38.2h4.6M183.4 35.9v4.6M181.1 75.6h4.6M183.4 73.3v4.6M181.1 94.1h4.6M183.4 91.8v4.6M181.1 87.1h4.6M183.4 84.8v4.6M181.1 93.0h4.6M183.4 90.7v4.6M181.1 65.4h4.6M183.4 63.1v4.6M181.1 77.8h4.6M183.4 75.5v4.6M181.1 30.1h4.6M183.4 27.8v4.6M181.1 70.5h4.6M183.4 68.2v4.6M181.1 91.5h4.6M183.4 89.2v4.6M181.1 99.3h4.6M183.4 97.0v4.6M181.1 46.1h4.6M183.4 43.8v4.6M181.1 91.4h4.6M183.4 89.1v4.6M181.1 27.1h4.6M183.4 24.8v4.6M181.1 42.8h4.6M183.4 40.5v4.6M181.1 56.6h4.6M183.4 54.3v4.6M181.1 56.3h4.6M183.4 54.0v4.6M181.1 78.4h4.6M183.4 76.1v4.6M181.1 31.2h4.6M183.4 28.9v4.6M181.1 76.1h4.6M183.4 73.8v4.6M181.1 88.6h4.6M183.4 86.3v4.6M184.6 55.8h4.6M186.9 53.5v4.6M184.6 34.1h4.6M186.9 31.8v4.6M184.6 26.2h4.6M186.9 23.9v4.6M184.6 70.9h4.6M186.9 68.6v4.6M184.6 81.5h4.6M186.9 79.2v4.6M184.6 64.5h4.6M186.9 62.2v4.6M184.6 91.4h4.6M186.9 89.1v4.6M184.6 54.2h4.6M186.9 51.9v4.6M184.6 83.0h4.6M186.9 80.7v4.6M184.6 77.1h4.6M186.9 74.8v4.6M184.6 40.0h4.6M186.9 37.7v4.6M184.6 28.1h4.6M186.9 25.8v4.6M184.6 52.6h4.6M186.9 50.3v4.6M184.6 78.2h4.6M186.9 75.9v4.6M184.6 27.9h4.6M186.9 25.6v4.6M184.6 54.5h4.6M186.9 52.2v4.6M184.6 57.7h4.6M186.9 55.4v4.6M184.6 69.0h4.6M186.9 66.7v4.6M184.6 37.1h4.6M186.9 34.8v4.6M184.6 75.1h4.6M186.9 72.8v4.6M184.6 87.4h4.6M186.9 85.1v4.6M184.6 72.5h4.6M186.9 70.2v4.6M184.6 75.6h4.6M186.9 73.3v4.6M184.6 87.1h4.6M186.9 84.8v4.6M184.6 89.9h4.6M186.9 87.6v4.6M184.6 46.9h4.6M186.9 44.6v4.6M184.6 81.2h4.6M186.9 78.9v4.6M188.1 34.2h4.6M190.4 31.9v4.6M188.1 50.4h4.6M190.4 48.1v4.6M188.1 36.0h4.6M190.4 33.7v4.6M188.1 48.9h4.6M190.4 46.6v4.6M188.1 95.1h4.6M190.4 92.8v4.6M188.1 38.6h4.6M190.4 36.3v4.6M188.1 97.5h4.6M190.4 95.2v4.6M188.1 68.2h4.6M190.4 65.9v4.6M188.1 36.2h4.6M190.4 33.9v4.6M188.1 58.0h4.6M190.4 55.7v4.6M188.1 30.8h4.6M190.4 28.5v4.6M188.1 61.0h4.6M190.4 58.7v4.6M188.1 41.1h4.6M190.4 38.8v4.6M188.1 69.5h4.6M190.4 67.2v4.6M188.1 73.7h4.6M190.4 71.4v4.6M188.1 51.3h4.6M190.4 49.0v4.6M188.1 63.2h4.6M190.4 60.9v4.6M188.1 72.9h4.6M190.4 70.6v4.6M188.1 39.8h4.6M190.4 37.5v4.6M188.1 69.8h4.6M190.4 67.5v4.6M188.1 28.3h4.6M190.4 26.0v4.6M188.1 60.7h4.6M190.4 58.4v4.6M188.1 68.2h4.6M190.4 65.9v4.6M188.1 27.4h4.6M190.4 25.1v4.6M188.1 59.2h4.6M190.4 56.9v4.6M188.1 70.2h4.6M190.4 67.9v4.6M188.1 53.4h4.6M190.4 51.1v4.6M188.1 61.4h4.6M190.4 59.1v4.6M188.1 96.8h4.6M190.4 94.5v4.6M188.1 81.8h4.6M190.4 79.5v4.6M188.1 77.4h4.6M190.4 75.1v4.6M191.6 50.9h4.6M193.9 48.6v4.6M191.6 61.6h4.6M193.9 59.3v4.6M191.6 64.6h4.6M193.9 62.3v4.6M191.6 69.6h4.6M193.9 67.3v4.6M191.6 38.8h4.6M193.9 36.5v4.6M191.6 68.7h4.6M193.9 66.4v4.6M191.6 80.5h4.6M193.9 78.2v4.6M191.6 79.3h4.6M193.9 77.0v4.6M191.6 38.6h4.6M193.9 36.3v4.6M191.6 71.5h4.6M193.9 69.2v4.6M191.6 70.2h4.6M193.9 67.9v4.6M191.6 84.2h4.6M193.9 81.9v4.6M191.6 90.8h4.6M193.9 88.5v4.6M191.6 26.9h4.6M193.9 24.6v4.6M191.6 91.5h4.6M193.9 89.2v4.6M191.6 76.1h4.6M193.9 73.8v4.6M191.6 77.2h4.6M193.9 74.9v4.6M191.6 74.9h4.6M193.9 72.6v4.6M191.6 33.7h4.6M193.9 31.4v4.6M191.6 89.5h4.6M193.9 87.2v4.6M191.6 27.1h4.6M193.9 24.8v4.6M191.6 60.2h4.6M193.9 57.9v4.6M191.6 60.3h4.6M193.9 58.0v4.6M191.6 57.7h4.6M193.9 55.4v4.6M191.6 32.1h4.6M193.9 29.8v4.6M191.6 82.1h4.6M193.9 79.8v4.6M191.6 60.3h4.6M193.9 58.0v4.6M191.6 80.4h4.6M193.9 78.1v4.6M191.6 44.8h4.6M193.9 42.5v4.6M191.6 77.8h4.6M193.9 75.5v4.6M191.6 33.0h4.6M193.9 30.7v4.6M191.6 54.0h4.6M193.9 51.7v4.6M191.6 24.7h4.6M193.9 22.4v4.6M195.0 29.0h4.6M197.3 26.7v4.6M195.0 45.2h4.6M197.3 42.9v4.6M195.0 84.9h4.6M197.3 82.6v4.6M195.0 62.8h4.6M197.3 60.5v4.6M195.0 44.2h4.6M197.3 41.9v4.6M195.0 52.6h4.6M197.3 50.3v4.6M195.0 48.5h4.6M197.3 46.2v4.6M195.0 77.0h4.6M197.3 74.7v4.6M195.0 79.1h4.6M197.3 76.8v4.6M195.0 55.9h4.6M197.3 53.6v4.6M195.0 42.4h4.6M197.3 40.1v4.6M195.0 84.5h4.6M197.3 82.2v4.6M195.0 37.0h4.6M197.3 34.7v4.6M195.0 67.1h4.6M197.3 64.8v4.6M195.0 65.7h4.6M197.3 63.4v4.6M195.0 50.5h4.6M197.3 48.2v4.6M195.0 48.5h4.6M197.3 46.2v4.6M195.0 74.8h4.6M197.3 72.5v4.6M195.0 45.4h4.6M197.3 43.1v4.6M195.0 34.2h4.6M197.3 31.9v4.6M195.0 65.9h4.6M197.3 63.6v4.6M195.0 28.4h4.6M197.3 26.1v4.6M195.0 35.7h4.6M197.3 33.4v4.6M195.0 34.0h4.6M197.3 31.7v4.6M195.0 51.6h4.6M197.3 49.3v4.6M195.0 49.4h4.6M197.3 47.1v4.6M195.0 85.0h4.6M197.3 82.7v4.6M195.0 55.8h4.6M197.3 53.5v4.6M195.0 24.0h4.6M197.3 21.7v4.6M195.0 25.7h4.6M197.3 23.4v4.6M195.0 82.8h4.6M197.3 80.5v4.6M195.0 25.3h4.6M197.3 23.0v4.6M195.0 75.1h4.6M197.3 72.8v4.6M198.5 55.3h4.6M200.8 53.0v4.6M198.5 69.1h4.6M200.8 66.8v4.6M198.5 67.1h4.6M200.8 64.8v4.6M198.5 44.7h4.6M200.8 42.4v4.6M198.5 32.8h4.6M200.8 30.5v4.6M198.5 58.6h4.6M200.8 56.3v4.6M198.5 37.5h4.6M200.8 35.2v4.6M198.5 50.5h4.6M200.8 48.2v4.6M198.5 68.8h4.6M200.8 66.5v4.6M198.5 72.8h4.6M200.8 70.5v4.6M198.5 34.3h4.6M200.8 32.0v4.6M198.5 53.6h4.6M200.8 51.3v4.6M198.5 26.0h4.6M200.8 23.7v4.6M198.5 61.9h4.6M200.8 59.6v4.6M198.5 73.0h4.6M200.8 70.7v4.6M198.5 30.3h4.6M200.8 28.0v4.6M198.5 35.9h4.6M200.8 33.6v4.6M198.5 24.6h4.6M200.8 22.3v4.6M198.5 61.1h4.6M200.8 58.8v4.6M198.5 31.0h4.6M200.8 28.7v4.6M198.5 67.7h4.6M200.8 65.4v4.6M198.5 31.2h4.6M200.8 28.9v4.6M198.5 42.9h4.6M200.8 40.6v4.6M198.5 63.2h4.6M200.8 60.9v4.6M198.5 69.8h4.6M200.8 67.5v4.6M198.5 49.2h4.6M200.8 46.9v4.6M198.5 42.1h4.6M200.8 39.8v4.6M198.5 51.2h4.6M200.8 48.9v4.6M198.5 28.7h4.6M200.8 26.4v4.6M198.5 67.3h4.6M200.8 65.0v4.6M202.0 53.2h4.6M204.3 50.9v4.6M202.0 68.0h4.6M204.3 65.7v4.6M202.0 65.1h4.6M204.3 62.8v4.6M202.0 32.5h4.6M204.3 30.2v4.6M202.0 33.6h4.6M204.3 31.3v4.6M202.0 36.1h4.6M204.3 33.8v4.6M202.0 52.0h4.6M204.3 49.7v4.6M202.0 45.8h4.6M204.3 43.5v4.6M202.0 62.3h4.6M204.3 60.0v4.6M202.0 68.2h4.6M204.3 65.9v4.6M202.0 36.3h4.6M204.3 34.0v4.6M202.0 62.9h4.6M204.3 60.6v4.6M202.0 35.6h4.6M204.3 33.3v4.6M202.0 28.6h4.6M204.3 26.3v4.6M202.0 68.5h4.6M204.3 66.2v4.6M202.0 56.7h4.6M204.3 54.4v4.6M202.0 64.9h4.6M204.3 62.6v4.6M202.0 62.2h4.6M204.3 59.9v4.6M202.0 26.5h4.6M204.3 24.2v4.6M202.0 40.1h4.6M204.3 37.8v4.6M202.0 40.8h4.6M204.3 38.5v4.6M202.0 53.0h4.6M204.3 50.7v4.6M202.0 41.6h4.6M204.3 39.3v4.6M202.0 47.2h4.6M204.3 44.9v4.6M202.0 61.1h4.6M204.3 58.8v4.6M202.0 59.7h4.6M204.3 57.4v4.6M205.5 54.5h4.6M207.8 52.2v4.6M205.5 51.3h4.6M207.8 49.0v4.6M205.5 43.6h4.6M207.8 41.3v4.6M205.5 39.6h4.6M207.8 37.3v4.6M205.5 57.4h4.6M207.8 55.1v4.6M205.5 51.8h4.6M207.8 49.5v4.6M205.5 35.0h4.6M207.8 32.7v4.6M205.5 40.3h4.6M207.8 38.0v4.6M205.5 59.8h4.6M207.8 57.5v4.6M205.5 45.9h4.6M207.8 43.6v4.6M205.5 38.7h4.6M207.8 36.4v4.6M205.5 28.9h4.6M207.8 26.6v4.6M205.5 55.0h4.6M207.8 52.7v4.6M205.5 57.3h4.6M207.8 55.0v4.6M205.5 40.0h4.6M207.8 37.7v4.6M205.5 31.2h4.6M207.8 28.9v4.6M205.5 62.1h4.6M207.8 59.8v4.6M205.5 51.5h4.6M207.8 49.2v4.6M205.5 37.8h4.6M207.8 35.5v4.6M209.0 45.1h4.6M211.3 42.8v4.6M209.0 54.3h4.6M211.3 52.0v4.6M209.0 27.2h4.6M211.3 24.9v4.6M209.0 34.1h4.6M211.3 31.8v4.6M209.0 48.3h4.6M211.3 46.0v4.6M209.0 53.1h4.6M211.3 50.8v4.6M209.0 47.2h4.6M211.3 44.9v4.6M209.0 37.1h4.6M211.3 34.8v4.6M209.0 33.1h4.6M211.3 30.8v4.6M209.0 24.0h4.6M211.3 21.7v4.6M209.0 55.4h4.6M211.3 53.1v4.6M209.0 37.2h4.6M211.3 34.9v4.6M212.5 28.5h4.6M214.8 26.2v4.6M212.5 44.9h4.6M214.8 42.6v4.6M212.5 42.1h4.6M214.8 39.8v4.6M212.5 25.8h4.6M214.8 23.5v4.6M212.5 33.0h4.6M214.8 30.7v4.6M212.5 26.3h4.6M214.8 24.0v4.6M163.7 67.6h4.6M166.0 65.3v4.6" stroke="#6e6e6e" stroke-opacity="0.5" stroke-width="0.55" fill="none"/>
<path d="M177.6 98.2h4.6M179.9 95.9v4.6M184.6 101.2h4.6M186.9 98.9v4.6M188.1 93.8h4.6M190.4 91.5v4.6M191.6 102.1h4.6M193.9 99.8v4.6M198.5 97.6h4.6M200.8 95.3v4.6M219.5 53.8h4.6M221.8 51.5v4.6M222.9 53.8h4.6M225.2 51.5v4.6M216.0 55.9h4.6M218.3 53.6v4.6M209.0 88.9h4.6M211.3 86.6v4.6M212.5 46.3h4.6M214.8 44.0v4.6M191.6 98.5h4.6M193.9 96.2v4.6M170.6 110.2h4.6M172.9 107.9v4.6M184.6 104.9h4.6M186.9 102.6v4.6M198.5 80.4h4.6M200.8 78.1v4.6" stroke="#e8702a" stroke-opacity="0.7" stroke-width="0.55" fill="none"/>
</g>
<rect x="141.03" y="16.7" width="92.4" height="110.30" fill="none" stroke="#8a8a8a" stroke-width="0.9"/>
<text x="187.23" y="14.5" font-size="6.1" font-weight="bold" text-anchor="middle" fill="#1a1a1a">CD14+ Monocytes</text>
<text x="145.03" y="133.1" font-size="5" font-weight="bold" text-anchor="middle" fill="#3a3a3a">0.00</text>
<text x="165.96" y="133.1" font-size="5" font-weight="bold" text-anchor="middle" fill="#3a3a3a">0.25</text>
<text x="186.88" y="133.1" font-size="5" font-weight="bold" text-anchor="middle" fill="#3a3a3a">0.50</text>
<text x="207.81" y="133.1" font-size="5" font-weight="bold" text-anchor="middle" fill="#3a3a3a">0.75</text>
<text x="228.73" y="133.1" font-size="5" font-weight="bold" text-anchor="middle" fill="#3a3a3a">1.00</text>
<path d="M145.03 127.0v1.6M165.96 127.0v1.6M186.88 127.0v1.6M207.81 127.0v1.6M228.73 127.0v1.6" stroke="#555" stroke-width="0.5" fill="none"/>
<rect x="235.76" y="7.3" width="92.4" height="9.40" fill="#d9d9d9" stroke="#8a8a8a" stroke-width="0.9"/>
<rect x="235.76" y="16.7" width="92.4" height="110.30" fill="#fff"/>
<path d="M250.22 16.7V127.0M235.76 114.99H328.16M271.15 16.7V127.0M235.76 88.36H328.16M292.07 16.7V127.0M235.76 61.74H328.16M313.00 16.7V127.0M235.76 35.11H328.16" stroke="#f4f4f4" stroke-width="0.4" fill="none"/>
<path d="M239.76 16.7V127.0M260.69 16.7V127.0M235.76 101.68H328.16M281.61 16.7V127.0M235.76 75.05H328.16M302.53 16.7V127.0M235.76 48.43H328.16M323.46 16.7V127.0M235.76 21.80H328.16" stroke="#ebebeb" stroke-width="0.6" fill="none"/>
<clipPath id="ca2"><rect x="235.76" y="16.7" width="92.4" height="110.30"/></clipPath>
<g clip-path="url(#ca2)">
<path d="M243.53 123.51L323.46 21.80" stroke="#8c8c8c" stroke-width="0.85" stroke-dasharray="4.2 3.2" fill="none"/>
<path d="M261.9 21.8h4.6M264.2 19.5v4.6M265.4 21.8h4.6M267.7 19.5v4.6M268.8 21.8h4.6M271.1 19.5v4.6M272.3 21.8h4.6M274.6 19.5v4.6M275.8 21.8h4.6M278.1 19.5v4.6M279.3 21.8h4.6M281.6 19.5v4.6M282.8 21.8h4.6M285.1 19.5v4.6M286.3 21.8h4.6M288.6 19.5v4.6M289.8 21.8h4.6M292.1 19.5v4.6M293.3 21.8h4.6M295.6 19.5v4.6M296.7 21.8h4.6M299.0 19.5v4.6M300.2 21.8h4.6M302.5 19.5v4.6M303.7 21.8h4.6M306.0 19.5v4.6M307.2 21.8h4.6M309.5 19.5v4.6M310.7 21.8h4.6M313.0 19.5v4.6M247.9 21.8h4.6M250.2 19.5v4.6M254.9 21.8h4.6M257.2 19.5v4.6M244.4 84.3h4.6M246.7 82.0v4.6M244.4 86.9h4.6M246.7 84.6v4.6M244.4 41.4h4.6M246.7 39.1v4.6M244.4 39.7h4.6M246.7 37.4v4.6M244.4 87.8h4.6M246.7 85.5v4.6M247.9 74.8h4.6M250.2 72.5v4.6M247.9 46.7h4.6M250.2 44.4v4.6M247.9 61.0h4.6M250.2 58.7v4.6M247.9 44.7h4.6M250.2 42.4v4.6M247.9 39.1h4.6M250.2 36.8v4.6M247.9 68.2h4.6M250.2 65.9v4.6M247.9 38.7h4.6M250.2 36.4v4.6M247.9 30.8h4.6M250.2 28.5v4.6M247.9 56.3h4.6M250.2 54.0v4.6M251.4 66.3h4.6M253.7 64.0v4.6M251.4 63.8h4.6M253.7 61.5v4.6M251.4 47.2h4.6M253.7 44.9v4.6M251.4 26.1h4.6M253.7 23.8v4.6M251.4 75.5h4.6M253.7 73.2v4.6M251.4 64.0h4.6M253.7 61.7v4.6M251.4 40.1h4.6M253.7 37.8v4.6M251.4 77.9h4.6M253.7 75.6v4.6M251.4 80.1h4.6M253.7 77.8v4.6M251.4 49.7h4.6M253.7 47.4v4.6M251.4 42.0h4.6M253.7 39.7v4.6M251.4 91.4h4.6M253.7 89.1v4.6M251.4 30.0h4.6M253.7 27.7v4.6M251.4 31.2h4.6M253.7 28.9v4.6M251.4 66.9h4.6M253.7 64.6v4.6M251.4 40.1h4.6M253.7 37.8v4.6M254.9 74.7h4.6M257.2 72.4v4.6M254.9 47.6h4.6M257.2 45.3v4.6M254.9 37.3h4.6M257.2 35.0v4.6M254.9 95.8h4.6M257.2 93.5v4.6M254.9 40.0h4.6M257.2 37.7v4.6M254.9 65.0h4.6M257.2 62.7v4.6M254.9 36.5h4.6M257.2 34.2v4.6M254.9 85.6h4.6M257.2 83.3v4.6M254.9 59.7h4.6M257.2 57.4v4.6M254.9 62.5h4.6M257.2 60.2v4.6M254.9 70.7h4.6M257.2 68.4v4.6M254.9 63.8h4.6M257.2 61.5v4.6M254.9 91.4h4.6M257.2 89.1v4.6M254.9 33.3h4.6M257.2 31.0v4.6M254.9 49.2h4.6M257.2 46.9v4.6M254.9 52.0h4.6M257.2 49.7v4.6M254.9 67.5h4.6M257.2 65.2v4.6M254.9 45.4h4.6M257.2 43.1v4.6M254.9 44.3h4.6M257.2 42.0v4.6M254.9 27.2h4.6M257.2 24.9v4.6M254.9 69.4h4.6M257.2 67.1v4.6M254.9 53.8h4.6M257.2 51.5v4.6M258.4 40.2h4.6M260.7 37.9v4.6M258.4 64.5h4.6M260.7 62.2v4.6M258.4 57.5h4.6M260.7 55.2v4.6M258.4 43.8h4.6M260.7 41.5v4.6M258.4 31.3h4.6M260.7 29.0v4.6M258.4 52.9h4.6M260.7 50.6v4.6M258.4 32.0h4.6M260.7 29.7v4.6M258.4 86.3h4.6M260.7 84.0v4.6M258.4 30.9h4.6M260.7 28.6v4.6M258.4 82.4h4.6M260.7 80.1v4.6M258.4 47.0h4.6M260.7 44.7v4.6M258.4 39.3h4.6M260.7 37.0v4.6M258.4 60.3h4.6M260.7 58.0v4.6M258.4 85.0h4.6M260.7 82.7v4.6M258.4 38.3h4.6M260.7 36.0v4.6M258.4 71.2h4.6M260.7 68.9v4.6M258.4 64.4h4.6M260.7 62.1v4.6M258.4 55.1h4.6M260.7 52.8v4.6M258.4 29.8h4.6M260.7 27.5v4.6M258.4 38.0h4.6M260.7 35.7v4.6M258.4 51.6h4.6M260.7 49.3v4.6M258.4 63.8h4.6M260.7 61.5v4.6M258.4 62.0h4.6M260.7 59.7v4.6M258.4 83.9h4.6M260.7 81.6v4.6M261.9 25.8h4.6M264.2 23.5v4.6M261.9 80.0h4.6M264.2 77.7v4.6M261.9 82.4h4.6M264.2 80.1v4.6M261.9 83.9h4.6M264.2 81.6v4.6M261.9 82.8h4.6M264.2 80.5v4.6M261.9 34.6h4.6M264.2 32.3v4.6M261.9 73.6h4.6M264.2 71.3v4.6M261.9 91.0h4.6M264.2 88.7v4.6M261.9 46.3h4.6M264.2 44.0v4.6M261.9 24.5h4.6M264.2 22.2v4.6M261.9 90.0h4.6M264.2 87.7v4.6M261.9 56.6h4.6M264.2 54.3v4.6M261.9 38.3h4.6M264.2 36.0v4.6M261.9 55.0h4.6M264.2 52.7v4.6M261.9 34.3h4.6M264.2 32.0v4.6M261.9 85.7h4.6M264.2 83.4v4.6M261.9 28.2h4.6M264.2 25.9v4.6M261.9 76.1h4.6M264.2 73.8v4.6M261.9 81.4h4.6M264.2 79.1v4.6M261.9 73.8h4.6M264.2 71.5v4.6M261.9 87.8h4.6M264.2 85.5v4.6M261.9 34.4h4.6M264.2 32.1v4.6M265.4 62.1h4.6M267.7 59.8v4.6M265.4 86.9h4.6M267.7 84.6v4.6M265.4 74.7h4.6M267.7 72.4v4.6M265.4 67.9h4.6M267.7 65.6v4.6M265.4 29.7h4.6M267.7 27.4v4.6M265.4 55.3h4.6M267.7 53.0v4.6M265.4 54.2h4.6M267.7 51.9v4.6M265.4 41.8h4.6M267.7 39.5v4.6M265.4 51.3h4.6M267.7 49.0v4.6M265.4 77.0h4.6M267.7 74.7v4.6M265.4 32.1h4.6M267.7 29.8v4.6M265.4 42.4h4.6M267.7 40.1v4.6M265.4 79.2h4.6M267.7 76.9v4.6M265.4 82.8h4.6M267.7 80.5v4.6M265.4 59.0h4.6M267.7 56.7v4.6M265.4 26.7h4.6M267.7 24.4v4.6M265.4 54.6h4.6M267.7 52.3v4.6M265.4 61.5h4.6M267.7 59.2v4.6M265.4 60.1h4.6M267.7 57.8v4.6M268.8 81.5h4.6M271.1 79.2v4.6M268.8 56.8h4.6M271.1 54.5v4.6M268.8 24.7h4.6M271.1 22.4v4.6M268.8 72.0h4.6M271.1 69.7v4.6M268.8 79.0h4.6M271.1 76.7v4.6M268.8 40.5h4.6M271.1 38.2v4.6M268.8 32.5h4.6M271.1 30.2v4.6M268.8 80.0h4.6M271.1 77.7v4.6M268.8 53.4h4.6M271.1 51.1v4.6M268.8 83.6h4.6M271.1 81.3v4.6M268.8 41.8h4.6M271.1 39.5v4.6M268.8 38.4h4.6M271.1 36.1v4.6M268.8 55.0h4.6M271.1 52.7v4.6M268.8 64.6h4.6M271.1 62.3v4.6M268.8 38.2h4.6M271.1 35.9v4.6M268.8 57.4h4.6M271.1 55.1v4.6M272.3 49.4h4.6M274.6 47.1v4.6M272.3 35.5h4.6M274.6 33.2v4.6M272.3 40.4h4.6M274.6 38.1v4.6M272.3 58.7h4.6M274.6 56.4v4.6M272.3 77.9h4.6M274.6 75.6v4.6M272.3 34.2h4.6M274.6 31.9v4.6M272.3 42.8h4.6M274.6 40.5v4.6M272.3 64.8h4.6M274.6 62.5v4.6M272.3 32.0h4.6M274.6 29.7v4.6M272.3 76.5h4.6M274.6 74.2v4.6M272.3 51.7h4.6M274.6 49.4v4.6M272.3 47.6h4.6M274.6 45.3v4.6M272.3 78.1h4.6M274.6 75.8v4.6M275.8 34.4h4.6M278.1 32.1v4.6M275.8 41.4h4.6M278.1 39.1v4.6M275.8 36.7h4.6M278.1 34.4v4.6M275.8 26.0h4.6M278.1 23.7v4.6M275.8 24.5h4.6M278.1 22.2v4.6M275.8 46.3h4.6M278.1 44.0v4.6M275.8 57.2h4.6M278.1 54.9v4.6M275.8 45.6h4.6M278.1 43.3v4.6M275.8 53.1h4.6M278.1 50.8v4.6M275.8 68.8h4.6M278.1 66.5v4.6M279.3 49.3h4.6M281.6 47.0v4.6M279.3 46.9h4.6M281.6 44.6v4.6M279.3 31.8h4.6M281.6 29.5v4.6M279.3 48.6h4.6M281.6 46.3v4.6M279.3 66.2h4.6M281.6 63.9v4.6M279.3 50.6h4.6M281.6 48.3v4.6M279.3 70.4h4.6M281.6 68.1v4.6M282.8 47.9h4.6M285.1 45.6v4.6M282.8 61.4h4.6M285.1 59.1v4.6M282.8 61.5h4.6M285.1 59.2v4.6M282.8 24.8h4.6M285.1 22.5v4.6M286.3 53.6h4.6M288.6 51.3v4.6M286.3 33.6h4.6M288.6 31.3v4.6M289.8 25.5h4.6M292.1 23.2v4.6M237.5 114.1h4.6M239.8 111.8v4.6M237.5 119.5h4.6M239.8 117.2v4.6M240.9 95.9h4.6M243.2 93.6v4.6M240.9 99.1h4.6M243.2 96.8v4.6M240.9 106.4h4.6M243.2 104.1v4.6M244.4 115.8h4.6M246.7 113.5v4.6M244.4 116.6h4.6M246.7 114.3v4.6M244.4 116.4h4.6M246.7 114.1v4.6M247.9 118.4h4.6M250.2 116.1v4.6M247.9 102.3h4.6M250.2 100.0v4.6M247.9 110.8h4.6M250.2 108.5v4.6M251.4 102.1h4.6M253.7 99.8v4.6M254.9 106.7h4.6M257.2 104.4v4.6M254.9 101.9h4.6M257.2 99.6v4.6M258.4 107.3h4.6M260.7 105.0v4.6M258.4 119.8h4.6M260.7 117.5v4.6M258.4 105.9h4.6M260.7 103.6v4.6M303.7 91.0h4.6M306.0 88.7v4.6M282.8 80.4h4.6M285.1 78.1v4.6M286.3 83.6h4.6M288.6 81.3v4.6M296.7 66.5h4.6M299.0 64.2v4.6M279.3 77.2h4.6M281.6 74.9v4.6M293.3 83.6h4.6M295.6 81.3v4.6" stroke="#68c468" stroke-opacity="0.5" stroke-width="0.55" fill="none"/>
<path d="M314.2 21.8h4.6M316.5 19.5v4.6M317.7 21.8h4.6M320.0 19.5v4.6M321.2 21.8h4.6M323.5 19.5v4.6M272.3 37.8h4.6M274.6 35.5v4.6M279.3 69.7h4.6M281.6 67.4v4.6M272.3 104.9h4.6M274.6 102.6v4.6M293.3 51.6h4.6M295.6 49.3v4.6M296.7 75.1h4.6M299.0 72.8v4.6M261.9 32.5h4.6M264.2 30.2v4.6M265.4 62.3h4.6M267.7 60.0v4.6M268.8 96.4h4.6M271.1 94.1v4.6" stroke="#fdb77a" stroke-opacity="0.6" stroke-width="0.55" fill="none"/>
<path d="M237.5 21.8h4.6M239.8 19.5v4.6M240.9 21.8h4.6M243.2 19.5v4.6M244.4 21.8h4.6M246.7 19.5v4.6M247.9 21.8h4.6M250.2 19.5v4.6M251.4 21.8h4.6M253.7 19.5v4.6M254.9 21.8h4.6M257.2 19.5v4.6M258.4 21.8h4.6M260.7 19.5v4.6M261.9 21.8h4.6M264.2 19.5v4.6M237.5 74.7h4.6M239.8 72.4v4.6M237.5 81.8h4.6M239.8 79.5v4.6M237.5 64.9h4.6M239.8 62.6v4.6M237.5 60.0h4.6M239.8 57.7v4.6M237.5 47.2h4.6M239.8 44.9v4.6M237.5 67.7h4.6M239.8 65.4v4.6M237.5 38.1h4.6M239.8 35.8v4.6M237.5 78.3h4.6M239.8 76.0v4.6M237.5 52.8h4.6M239.8 50.5v4.6M237.5 82.2h4.6M239.8 79.9v4.6M237.5 73.3h4.6M239.8 71.0v4.6M237.5 77.6h4.6M239.8 75.3v4.6M237.5 37.7h4.6M239.8 35.4v4.6M237.5 51.8h4.6M239.8 49.5v4.6M237.5 57.6h4.6M239.8 55.3v4.6M237.5 43.2h4.6M239.8 40.9v4.6M237.5 38.9h4.6M239.8 36.6v4.6M237.5 65.9h4.6M239.8 63.6v4.6M237.5 43.2h4.6M239.8 40.9v4.6M237.5 70.0h4.6M239.8 67.7v4.6M237.5 50.6h4.6M239.8 48.3v4.6M237.5 44.8h4.6M239.8 42.5v4.6M237.5 65.9h4.6M239.8 63.6v4.6M237.5 52.8h4.6M239.8 50.5v4.6M237.5 49.4h4.6M239.8 47.1v4.6M237.5 79.4h4.6M239.8 77.1v4.6M237.5 47.9h4.6M239.8 45.6v4.6M237.5 74.4h4.6M239.8 72.1v4.6M237.5 70.0h4.6M239.8 67.7v4.6M237.5 72.3h4.6M239.8 70.0v4.6M237.5 70.2h4.6M239.8 67.9v4.6M237.5 39.4h4.6M239.8 37.1v4.6M237.5 63.3h4.6M239.8 61.0v4.6M237.5 43.4h4.6M239.8 41.1v4.6M237.5 77.2h4.6M239.8 74.9v4.6M237.5 71.9h4.6M239.8 69.6v4.6M237.5 92.3h4.6M239.8 90.0v4.6M237.5 60.1h4.6M239.8 57.8v4.6M237.5 26.9h4.6M239.8 24.6v4.6M237.5 56.9h4.6M239.8 54.6v4.6M237.5 43.0h4.6M239.8 40.7v4.6M237.5 81.7h4.6M239.8 79.4v4.6M237.5 89.0h4.6M239.8 86.7v4.6M237.5 77.6h4.6M239.8 75.3v4.6M237.5 26.7h4.6M239.8 24.4v4.6M237.5 44.5h4.6M239.8 42.2v4.6M237.5 28.3h4.6M239.8 26.0v4.6M237.5 39.1h4.6M239.8 36.8v4.6M237.5 75.0h4.6M239.8 72.7v4.6M237.5 79.8h4.6M239.8 77.5v4.6M237.5 50.4h4.6M239.8 48.1v4.6M237.5 83.3h4.6M239.8 81.0v4.6M237.5 59.4h4.6M239.8 57.1v4.6M237.5 55.6h4.6M239.8 53.3v4.6M237.5 75.5h4.6M239.8 73.2v4.6M237.5 25.4h4.6M239.8 23.1v4.6M237.5 89.1h4.6M239.8 86.8v4.6M237.5 28.7h4.6M239.8 26.4v4.6M237.5 90.3h4.6M239.8 88.0v4.6M237.5 25.6h4.6M239.8 23.3v4.6M237.5 64.5h4.6M239.8 62.2v4.6M237.5 82.6h4.6M239.8 80.3v4.6M237.5 49.6h4.6M239.8 47.3v4.6M237.5 43.8h4.6M239.8 41.5v4.6M237.5 65.5h4.6M239.8 63.2v4.6M237.5 59.9h4.6M239.8 57.6v4.6M237.5 46.6h4.6M239.8 44.3v4.6M237.5 74.1h4.6M239.8 71.8v4.6M237.5 71.4h4.6M239.8 69.1v4.6M237.5 44.4h4.6M239.8 42.1v4.6M237.5 61.4h4.6M239.8 59.1v4.6M237.5 34.9h4.6M239.8 32.6v4.6M237.5 62.1h4.6M239.8 59.8v4.6M237.5 42.5h4.6M239.8 40.2v4.6M237.5 55.1h4.6M239.8 52.8v4.6M237.5 76.5h4.6M239.8 74.2v4.6M237.5 67.7h4.6M239.8 65.4v4.6M237.5 54.2h4.6M239.8 51.9v4.6M237.5 60.2h4.6M239.8 57.9v4.6M237.5 44.0h4.6M239.8 41.7v4.6M240.9 52.0h4.6M243.2 49.7v4.6M240.9 51.0h4.6M243.2 48.7v4.6M240.9 72.1h4.6M243.2 69.8v4.6M240.9 42.9h4.6M243.2 40.6v4.6M240.9 40.7h4.6M243.2 38.4v4.6M240.9 66.8h4.6M243.2 64.5v4.6M240.9 41.3h4.6M243.2 39.0v4.6M240.9 61.2h4.6M243.2 58.9v4.6M240.9 70.8h4.6M243.2 68.5v4.6M240.9 80.6h4.6M243.2 78.3v4.6M240.9 51.4h4.6M243.2 49.1v4.6M240.9 51.3h4.6M243.2 49.0v4.6M240.9 52.7h4.6M243.2 50.4v4.6M240.9 63.7h4.6M243.2 61.4v4.6M240.9 79.1h4.6M243.2 76.8v4.6M240.9 83.4h4.6M243.2 81.1v4.6M240.9 54.6h4.6M243.2 52.3v4.6M240.9 52.9h4.6M243.2 50.6v4.6M240.9 38.9h4.6M243.2 36.6v4.6M240.9 45.8h4.6M243.2 43.5v4.6M240.9 57.9h4.6M243.2 55.6v4.6M240.9 37.7h4.6M243.2 35.4v4.6M240.9 82.9h4.6M243.2 80.6v4.6M240.9 39.7h4.6M243.2 37.4v4.6M240.9 59.5h4.6M243.2 57.2v4.6M240.9 61.7h4.6M243.2 59.4v4.6M240.9 54.7h4.6M243.2 52.4v4.6M240.9 67.0h4.6M243.2 64.7v4.6M240.9 60.0h4.6M243.2 57.7v4.6M240.9 42.3h4.6M243.2 40.0v4.6M240.9 51.2h4.6M243.2 48.9v4.6M240.9 40.8h4.6M243.2 38.5v4.6M240.9 60.5h4.6M243.2 58.2v4.6M240.9 74.9h4.6M243.2 72.6v4.6M240.9 60.7h4.6M243.2 58.4v4.6M240.9 48.4h4.6M243.2 46.1v4.6M240.9 68.9h4.6M243.2 66.6v4.6M240.9 54.4h4.6M243.2 52.1v4.6M240.9 52.1h4.6M243.2 49.8v4.6M240.9 67.8h4.6M243.2 65.5v4.6M240.9 93.1h4.6M243.2 90.8v4.6M240.9 43.7h4.6M243.2 41.4v4.6M240.9 72.2h4.6M243.2 69.9v4.6M240.9 24.3h4.6M243.2 22.0v4.6M240.9 92.3h4.6M243.2 90.0v4.6M240.9 44.1h4.6M243.2 41.8v4.6M240.9 52.3h4.6M243.2 50.0v4.6M240.9 31.4h4.6M243.2 29.1v4.6M240.9 34.3h4.6M243.2 32.0v4.6M240.9 32.1h4.6M243.2 29.8v4.6M240.9 42.5h4.6M243.2 40.2v4.6M240.9 47.3h4.6M243.2 45.0v4.6M240.9 42.0h4.6M243.2 39.7v4.6M240.9 42.0h4.6M243.2 39.7v4.6M240.9 59.6h4.6M243.2 57.3v4.6M240.9 67.0h4.6M243.2 64.7v4.6M240.9 81.3h4.6M243.2 79.0v4.6M240.9 65.7h4.6M243.2 63.4v4.6M240.9 56.8h4.6M243.2 54.5v4.6M240.9 30.3h4.6M243.2 28.0v4.6M240.9 76.4h4.6M243.2 74.1v4.6M240.9 31.2h4.6M243.2 28.9v4.6M240.9 38.7h4.6M243.2 36.4v4.6M240.9 68.6h4.6M243.2 66.3v4.6M240.9 46.2h4.6M243.2 43.9v4.6M240.9 24.9h4.6M243.2 22.6v4.6M240.9 31.4h4.6M243.2 29.1v4.6M240.9 40.3h4.6M243.2 38.0v4.6M240.9 69.7h4.6M243.2 67.4v4.6M240.9 66.4h4.6M243.2 64.1v4.6M240.9 65.8h4.6M243.2 63.5v4.6M240.9 73.6h4.6M243.2 71.3v4.6M240.9 61.5h4.6M243.2 59.2v4.6M240.9 35.0h4.6M243.2 32.7v4.6M240.9 41.9h4.6M243.2 39.6v4.6M240.9 73.5h4.6M243.2 71.2v4.6M240.9 47.2h4.6M243.2 44.9v4.6M240.9 52.5h4.6M243.2 50.2v4.6M240.9 86.3h4.6M243.2 84.0v4.6M240.9 76.8h4.6M243.2 74.5v4.6M240.9 75.3h4.6M243.2 73.0v4.6M240.9 87.6h4.6M243.2 85.3v4.6M240.9 45.2h4.6M243.2 42.9v4.6M240.9 48.8h4.6M243.2 46.5v4.6M240.9 67.7h4.6M243.2 65.4v4.6M240.9 28.0h4.6M243.2 25.7v4.6M240.9 64.7h4.6M243.2 62.4v4.6M244.4 74.6h4.6M246.7 72.3v4.6M244.4 63.5h4.6M246.7 61.2v4.6M244.4 64.0h4.6M246.7 61.7v4.6M244.4 75.2h4.6M246.7 72.9v4.6M244.4 67.1h4.6M246.7 64.8v4.6M244.4 50.6h4.6M246.7 48.3v4.6M244.4 54.2h4.6M246.7 51.9v4.6M244.4 79.2h4.6M246.7 76.9v4.6M244.4 52.6h4.6M246.7 50.3v4.6M244.4 55.7h4.6M246.7 53.4v4.6M244.4 79.0h4.6M246.7 76.7v4.6M244.4 70.2h4.6M246.7 67.9v4.6M244.4 50.2h4.6M246.7 47.9v4.6M244.4 46.5h4.6M246.7 44.2v4.6M244.4 46.8h4.6M246.7 44.5v4.6M244.4 67.9h4.6M246.7 65.6v4.6M244.4 42.2h4.6M246.7 39.9v4.6M244.4 58.5h4.6M246.7 56.2v4.6M244.4 52.9h4.6M246.7 50.6v4.6M244.4 69.9h4.6M246.7 67.6v4.6M244.4 68.5h4.6M246.7 66.2v4.6M244.4 77.0h4.6M246.7 74.7v4.6M244.4 77.5h4.6M246.7 75.2v4.6M244.4 50.5h4.6M246.7 48.2v4.6M244.4 79.4h4.6M246.7 77.1v4.6M244.4 52.6h4.6M246.7 50.3v4.6M244.4 63.9h4.6M246.7 61.6v4.6M244.4 68.6h4.6M246.7 66.3v4.6M244.4 62.4h4.6M246.7 60.1v4.6M244.4 43.7h4.6M246.7 41.4v4.6M244.4 55.2h4.6M246.7 52.9v4.6M244.4 63.0h4.6M246.7 60.7v4.6M244.4 56.2h4.6M246.7 53.9v4.6M244.4 56.6h4.6M246.7 54.3v4.6M244.4 82.1h4.6M246.7 79.8v4.6M244.4 73.0h4.6M246.7 70.7v4.6M244.4 42.1h4.6M246.7 39.8v4.6M244.4 45.7h4.6M246.7 43.4v4.6M244.4 51.1h4.6M246.7 48.8v4.6M244.4 38.5h4.6M246.7 36.2v4.6M244.4 45.0h4.6M246.7 42.7v4.6M244.4 47.9h4.6M246.7 45.6v4.6M244.4 32.5h4.6M246.7 30.2v4.6M244.4 81.1h4.6M246.7 78.8v4.6M244.4 62.4h4.6M246.7 60.1v4.6M244.4 39.5h4.6M246.7 37.2v4.6M244.4 81.0h4.6M246.7 78.7v4.6M244.4 47.6h4.6M246.7 45.3v4.6M244.4 88.0h4.6M246.7 85.7v4.6M244.4 88.2h4.6M246.7 85.9v4.6M244.4 69.1h4.6M246.7 66.8v4.6M244.4 43.7h4.6M246.7 41.4v4.6M244.4 38.1h4.6M246.7 35.8v4.6M244.4 61.9h4.6M246.7 59.6v4.6M244.4 46.3h4.6M246.7 44.0v4.6M244.4 66.0h4.6M246.7 63.7v4.6M244.4 70.0h4.6M246.7 67.7v4.6M244.4 80.2h4.6M246.7 77.9v4.6M244.4 65.5h4.6M246.7 63.2v4.6M244.4 27.4h4.6M246.7 25.1v4.6M244.4 49.6h4.6M246.7 47.3v4.6M244.4 62.1h4.6M246.7 59.8v4.6M244.4 53.6h4.6M246.7 51.3v4.6M244.4 50.8h4.6M246.7 48.5v4.6M244.4 41.6h4.6M246.7 39.3v4.6M244.4 57.1h4.6M246.7 54.8v4.6M244.4 55.4h4.6M246.7 53.1v4.6M244.4 72.6h4.6M246.7 70.3v4.6M244.4 41.0h4.6M246.7 38.7v4.6M244.4 29.1h4.6M246.7 26.8v4.6M244.4 51.7h4.6M246.7 49.4v4.6M244.4 86.3h4.6M246.7 84.0v4.6M244.4 67.4h4.6M246.7 65.1v4.6M244.4 47.5h4.6M246.7 45.2v4.6M244.4 80.4h4.6M246.7 78.1v4.6M244.4 31.9h4.6M246.7 29.6v4.6M244.4 84.1h4.6M246.7 81.8v4.6M244.4 29.5h4.6M246.7 27.2v4.6M244.4 41.3h4.6M246.7 39.0v4.6M244.4 52.6h4.6M246.7 50.3v4.6M244.4 53.5h4.6M246.7 51.2v4.6M244.4 30.7h4.6M246.7 28.4v4.6M244.4 59.1h4.6M246.7 56.8v4.6M244.4 29.6h4.6M246.7 27.3v4.6M244.4 24.5h4.6M246.7 22.2v4.6M244.4 85.1h4.6M246.7 82.8v4.6M244.4 29.2h4.6M246.7 26.9v4.6M244.4 57.1h4.6M246.7 54.8v4.6M244.4 34.0h4.6M246.7 31.7v4.6M247.9 76.6h4.6M250.2 74.3v4.6M247.9 45.2h4.6M250.2 42.9v4.6M247.9 60.9h4.6M250.2 58.6v4.6M247.9 50.8h4.6M250.2 48.5v4.6M247.9 65.3h4.6M250.2 63.0v4.6M247.9 78.8h4.6M250.2 76.5v4.6M247.9 56.9h4.6M250.2 54.6v4.6M247.9 40.4h4.6M250.2 38.1v4.6M247.9 66.2h4.6M250.2 63.9v4.6M247.9 67.9h4.6M250.2 65.6v4.6M247.9 50.1h4.6M250.2 47.8v4.6M247.9 62.5h4.6M250.2 60.2v4.6M247.9 82.9h4.6M250.2 80.6v4.6M247.9 64.8h4.6M250.2 62.5v4.6M247.9 74.1h4.6M250.2 71.8v4.6M247.9 43.5h4.6M250.2 41.2v4.6M247.9 51.5h4.6M250.2 49.2v4.6M247.9 54.2h4.6M250.2 51.9v4.6M247.9 61.8h4.6M250.2 59.5v4.6M247.9 70.6h4.6M250.2 68.3v4.6M247.9 63.4h4.6M250.2 61.1v4.6M247.9 47.3h4.6M250.2 45.0v4.6M247.9 67.8h4.6M250.2 65.5v4.6M247.9 51.6h4.6M250.2 49.3v4.6M247.9 72.8h4.6M250.2 70.5v4.6M247.9 69.1h4.6M250.2 66.8v4.6M247.9 37.5h4.6M250.2 35.2v4.6M247.9 70.2h4.6M250.2 67.9v4.6M247.9 69.6h4.6M250.2 67.3v4.6M247.9 59.8h4.6M250.2 57.5v4.6M247.9 46.4h4.6M250.2 44.1v4.6M247.9 39.8h4.6M250.2 37.5v4.6M247.9 71.0h4.6M250.2 68.7v4.6M247.9 37.7h4.6M250.2 35.4v4.6M247.9 60.2h4.6M250.2 57.9v4.6M247.9 74.5h4.6M250.2 72.2v4.6M247.9 81.4h4.6M250.2 79.1v4.6M247.9 76.4h4.6M250.2 74.1v4.6M247.9 67.3h4.6M250.2 65.0v4.6M247.9 65.7h4.6M250.2 63.4v4.6M247.9 49.7h4.6M250.2 47.4v4.6M247.9 34.7h4.6M250.2 32.4v4.6M247.9 25.3h4.6M250.2 23.0v4.6M247.9 24.8h4.6M250.2 22.5v4.6M247.9 43.1h4.6M250.2 40.8v4.6M247.9 48.4h4.6M250.2 46.1v4.6M247.9 37.3h4.6M250.2 35.0v4.6M247.9 28.7h4.6M250.2 26.4v4.6M247.9 70.8h4.6M250.2 68.5v4.6M247.9 56.1h4.6M250.2 53.8v4.6M247.9 87.2h4.6M250.2 84.9v4.6M247.9 43.1h4.6M250.2 40.8v4.6M247.9 25.6h4.6M250.2 23.3v4.6M247.9 26.5h4.6M250.2 24.2v4.6M247.9 56.4h4.6M250.2 54.1v4.6M247.9 52.0h4.6M250.2 49.7v4.6M247.9 37.1h4.6M250.2 34.8v4.6M247.9 75.1h4.6M250.2 72.8v4.6M247.9 31.6h4.6M250.2 29.3v4.6M247.9 69.3h4.6M250.2 67.0v4.6M247.9 35.7h4.6M250.2 33.4v4.6M247.9 63.5h4.6M250.2 61.2v4.6M247.9 51.2h4.6M250.2 48.9v4.6M247.9 29.2h4.6M250.2 26.9v4.6M247.9 87.3h4.6M250.2 85.0v4.6M247.9 40.3h4.6M250.2 38.0v4.6M247.9 76.2h4.6M250.2 73.9v4.6M247.9 50.7h4.6M250.2 48.4v4.6M247.9 70.1h4.6M250.2 67.8v4.6M247.9 57.9h4.6M250.2 55.6v4.6M247.9 83.6h4.6M250.2 81.3v4.6M247.9 44.4h4.6M250.2 42.1v4.6M247.9 37.9h4.6M250.2 35.6v4.6M247.9 77.7h4.6M250.2 75.4v4.6M247.9 49.7h4.6M250.2 47.4v4.6M247.9 27.8h4.6M250.2 25.5v4.6M247.9 62.7h4.6M250.2 60.4v4.6M247.9 74.7h4.6M250.2 72.4v4.6M247.9 87.2h4.6M250.2 84.9v4.6M247.9 61.1h4.6M250.2 58.8v4.6M247.9 30.3h4.6M250.2 28.0v4.6M247.9 26.7h4.6M250.2 24.4v4.6M247.9 64.7h4.6M250.2 62.4v4.6M247.9 45.0h4.6M250.2 42.7v4.6M247.9 90.8h4.6M250.2 88.5v4.6M247.9 71.8h4.6M250.2 69.5v4.6M247.9 35.4h4.6M250.2 33.1v4.6M247.9 31.2h4.6M250.2 28.9v4.6M247.9 47.7h4.6M250.2 45.4v4.6M251.4 71.2h4.6M253.7 68.9v4.6M251.4 62.6h4.6M253.7 60.3v4.6M251.4 74.0h4.6M253.7 71.7v4.6M251.4 81.1h4.6M253.7 78.8v4.6M251.4 57.6h4.6M253.7 55.3v4.6M251.4 50.3h4.6M253.7 48.0v4.6M251.4 63.7h4.6M253.7 61.4v4.6M251.4 78.4h4.6M253.7 76.1v4.6M251.4 43.7h4.6M253.7 41.4v4.6M251.4 43.3h4.6M253.7 41.0v4.6M251.4 64.3h4.6M253.7 62.0v4.6M251.4 81.1h4.6M253.7 78.8v4.6M251.4 68.3h4.6M253.7 66.0v4.6M251.4 59.8h4.6M253.7 57.5v4.6M251.4 79.1h4.6M253.7 76.8v4.6M251.4 45.8h4.6M253.7 43.5v4.6M251.4 83.5h4.6M253.7 81.2v4.6M251.4 38.8h4.6M253.7 36.5v4.6M251.4 50.9h4.6M253.7 48.6v4.6M251.4 79.0h4.6M253.7 76.7v4.6M251.4 40.7h4.6M253.7 38.4v4.6M251.4 66.6h4.6M253.7 64.3v4.6M251.4 72.4h4.6M253.7 70.1v4.6M251.4 38.7h4.6M253.7 36.4v4.6M251.4 79.7h4.6M253.7 77.4v4.6M251.4 57.5h4.6M253.7 55.2v4.6M251.4 64.9h4.6M253.7 62.6v4.6M251.4 62.5h4.6M253.7 60.2v4.6M251.4 59.4h4.6M253.7 57.1v4.6M251.4 68.3h4.6M253.7 66.0v4.6M251.4 67.1h4.6M253.7 64.8v4.6M251.4 46.4h4.6M253.7 44.1v4.6M251.4 75.1h4.6M253.7 72.8v4.6M251.4 45.7h4.6M253.7 43.4v4.6M251.4 63.8h4.6M253.7 61.5v4.6M251.4 42.6h4.6M253.7 40.3v4.6M251.4 43.5h4.6M253.7 41.2v4.6M251.4 76.6h4.6M253.7 74.3v4.6M251.4 43.2h4.6M253.7 40.9v4.6M251.4 83.3h4.6M253.7 81.0v4.6M251.4 42.8h4.6M253.7 40.5v4.6M251.4 49.3h4.6M253.7 47.0v4.6M251.4 41.1h4.6M253.7 38.8v4.6M251.4 92.1h4.6M253.7 89.8v4.6M251.4 82.4h4.6M253.7 80.1v4.6M251.4 36.2h4.6M253.7 33.9v4.6M251.4 85.1h4.6M253.7 82.8v4.6M251.4 55.7h4.6M253.7 53.4v4.6M251.4 85.9h4.6M253.7 83.6v4.6M251.4 83.8h4.6M253.7 81.5v4.6M251.4 25.4h4.6M253.7 23.1v4.6M251.4 51.9h4.6M253.7 49.6v4.6M251.4 57.8h4.6M253.7 55.5v4.6M251.4 39.8h4.6M253.7 37.5v4.6M251.4 83.4h4.6M253.7 81.1v4.6M251.4 77.4h4.6M253.7 75.1v4.6M251.4 51.2h4.6M253.7 48.9v4.6M251.4 29.3h4.6M253.7 27.0v4.6M251.4 56.2h4.6M253.7 53.9v4.6M251.4 25.5h4.6M253.7 23.2v4.6M251.4 84.7h4.6M253.7 82.4v4.6M251.4 50.3h4.6M253.7 48.0v4.6M251.4 53.1h4.6M253.7 50.8v4.6M251.4 56.6h4.6M253.7 54.3v4.6M251.4 37.2h4.6M253.7 34.9v4.6M251.4 58.2h4.6M253.7 55.9v4.6M251.4 24.7h4.6M253.7 22.4v4.6M251.4 86.3h4.6M253.7 84.0v4.6M251.4 92.8h4.6M253.7 90.5v4.6M251.4 83.1h4.6M253.7 80.8v4.6M251.4 60.2h4.6M253.7 57.9v4.6M251.4 50.7h4.6M253.7 48.4v4.6M251.4 83.2h4.6M253.7 80.9v4.6M251.4 50.5h4.6M253.7 48.2v4.6M251.4 75.1h4.6M253.7 72.8v4.6M251.4 84.1h4.6M253.7 81.8v4.6M251.4 51.5h4.6M253.7 49.2v4.6M251.4 50.8h4.6M253.7 48.5v4.6M251.4 58.3h4.6M253.7 56.0v4.6M251.4 78.4h4.6M253.7 76.1v4.6M251.4 80.9h4.6M253.7 78.6v4.6M251.4 41.8h4.6M253.7 39.5v4.6M251.4 33.6h4.6M253.7 31.3v4.6M251.4 48.9h4.6M253.7 46.6v4.6M251.4 25.7h4.6M253.7 23.4v4.6M254.9 77.2h4.6M257.2 74.9v4.6M254.9 50.9h4.6M257.2 48.6v4.6M254.9 43.7h4.6M257.2 41.4v4.6M254.9 68.9h4.6M257.2 66.6v4.6M254.9 82.2h4.6M257.2 79.9v4.6M254.9 74.1h4.6M257.2 71.8v4.6M254.9 58.5h4.6M257.2 56.2v4.6M254.9 82.8h4.6M257.2 80.5v4.6M254.9 37.6h4.6M257.2 35.3v4.6M254.9 42.6h4.6M257.2 40.3v4.6M254.9 70.6h4.6M257.2 68.3v4.6M254.9 44.7h4.6M257.2 42.4v4.6M254.9 59.8h4.6M257.2 57.5v4.6M254.9 68.7h4.6M257.2 66.4v4.6M254.9 62.2h4.6M257.2 59.9v4.6M254.9 68.7h4.6M257.2 66.4v4.6M254.9 61.6h4.6M257.2 59.3v4.6M254.9 55.3h4.6M257.2 53.0v4.6M254.9 61.8h4.6M257.2 59.5v4.6M254.9 81.9h4.6M257.2 79.6v4.6M254.9 75.4h4.6M257.2 73.1v4.6M254.9 37.3h4.6M257.2 35.0v4.6M254.9 57.8h4.6M257.2 55.5v4.6M254.9 62.2h4.6M257.2 59.9v4.6M254.9 75.8h4.6M257.2 73.5v4.6M254.9 75.4h4.6M257.2 73.1v4.6M254.9 40.6h4.6M257.2 38.3v4.6M254.9 53.9h4.6M257.2 51.6v4.6M254.9 58.6h4.6M257.2 56.3v4.6M254.9 79.7h4.6M257.2 77.4v4.6M254.9 61.3h4.6M257.2 59.0v4.6M254.9 67.8h4.6M257.2 65.5v4.6M254.9 68.7h4.6M257.2 66.4v4.6M254.9 92.0h4.6M257.2 89.7v4.6M254.9 55.2h4.6M257.2 52.9v4.6M254.9 87.7h4.6M257.2 85.4v4.6M254.9 64.8h4.6M257.2 62.5v4.6M254.9 51.8h4.6M257.2 49.5v4.6M254.9 58.4h4.6M257.2 56.1v4.6M254.9 60.3h4.6M257.2 58.0v4.6M254.9 88.0h4.6M257.2 85.7v4.6M254.9 45.2h4.6M257.2 42.9v4.6M254.9 89.9h4.6M257.2 87.6v4.6M254.9 69.2h4.6M257.2 66.9v4.6M254.9 78.5h4.6M257.2 76.2v4.6M254.9 90.4h4.6M257.2 88.1v4.6M254.9 88.9h4.6M257.2 86.6v4.6M254.9 56.5h4.6M257.2 54.2v4.6M254.9 78.6h4.6M257.2 76.3v4.6M254.9 60.6h4.6M257.2 58.3v4.6M254.9 52.2h4.6M257.2 49.9v4.6M254.9 46.3h4.6M257.2 44.0v4.6M254.9 72.6h4.6M257.2 70.3v4.6M254.9 85.4h4.6M257.2 83.1v4.6M254.9 82.8h4.6M257.2 80.5v4.6M254.9 66.8h4.6M257.2 64.5v4.6M254.9 75.8h4.6M257.2 73.5v4.6M254.9 51.3h4.6M257.2 49.0v4.6M254.9 87.4h4.6M257.2 85.1v4.6M254.9 31.7h4.6M257.2 29.4v4.6M254.9 78.3h4.6M257.2 76.0v4.6M254.9 76.3h4.6M257.2 74.0v4.6M254.9 90.4h4.6M257.2 88.1v4.6M254.9 35.5h4.6M257.2 33.2v4.6M254.9 90.7h4.6M257.2 88.4v4.6M254.9 60.5h4.6M257.2 58.2v4.6M254.9 79.7h4.6M257.2 77.4v4.6M254.9 60.0h4.6M257.2 57.7v4.6M254.9 44.8h4.6M257.2 42.5v4.6M254.9 40.0h4.6M257.2 37.7v4.6M254.9 69.1h4.6M257.2 66.8v4.6M258.4 58.4h4.6M260.7 56.1v4.6M258.4 79.2h4.6M260.7 76.9v4.6M258.4 44.9h4.6M260.7 42.6v4.6M258.4 66.5h4.6M260.7 64.2v4.6M258.4 55.1h4.6M260.7 52.8v4.6M258.4 79.2h4.6M260.7 76.9v4.6M258.4 45.8h4.6M260.7 43.5v4.6M258.4 37.8h4.6M260.7 35.5v4.6M258.4 37.7h4.6M260.7 35.4v4.6M258.4 72.6h4.6M260.7 70.3v4.6M258.4 79.7h4.6M260.7 77.4v4.6M258.4 58.1h4.6M260.7 55.8v4.6M258.4 73.0h4.6M260.7 70.7v4.6M258.4 79.7h4.6M260.7 77.4v4.6M258.4 79.5h4.6M260.7 77.2v4.6M258.4 44.1h4.6M260.7 41.8v4.6M258.4 36.8h4.6M260.7 34.5v4.6M258.4 41.8h4.6M260.7 39.5v4.6M258.4 82.8h4.6M260.7 80.5v4.6M258.4 50.5h4.6M260.7 48.2v4.6M258.4 61.1h4.6M260.7 58.8v4.6M258.4 78.4h4.6M260.7 76.1v4.6M258.4 76.2h4.6M260.7 73.9v4.6M258.4 64.9h4.6M260.7 62.6v4.6M258.4 56.2h4.6M260.7 53.9v4.6M258.4 29.9h4.6M260.7 27.6v4.6M258.4 61.3h4.6M260.7 59.0v4.6M258.4 89.0h4.6M260.7 86.7v4.6M258.4 65.2h4.6M260.7 62.9v4.6M258.4 78.8h4.6M260.7 76.5v4.6M258.4 92.7h4.6M260.7 90.4v4.6M258.4 28.4h4.6M260.7 26.1v4.6M258.4 80.2h4.6M260.7 77.9v4.6M258.4 78.5h4.6M260.7 76.2v4.6M258.4 62.3h4.6M260.7 60.0v4.6M258.4 41.1h4.6M260.7 38.8v4.6M258.4 69.2h4.6M260.7 66.9v4.6M258.4 27.3h4.6M260.7 25.0v4.6M258.4 37.5h4.6M260.7 35.2v4.6M258.4 79.5h4.6M260.7 77.2v4.6M258.4 57.9h4.6M260.7 55.6v4.6M258.4 51.6h4.6M260.7 49.3v4.6M258.4 82.9h4.6M260.7 80.6v4.6M258.4 42.0h4.6M260.7 39.7v4.6M258.4 42.1h4.6M260.7 39.8v4.6M258.4 28.8h4.6M260.7 26.5v4.6M258.4 69.1h4.6M260.7 66.8v4.6M258.4 75.0h4.6M260.7 72.7v4.6M258.4 31.4h4.6M260.7 29.1v4.6M258.4 78.9h4.6M260.7 76.6v4.6M258.4 58.6h4.6M260.7 56.3v4.6M261.9 66.7h4.6M264.2 64.4v4.6M261.9 80.4h4.6M264.2 78.1v4.6M261.9 60.8h4.6M264.2 58.5v4.6M261.9 58.7h4.6M264.2 56.4v4.6M261.9 47.0h4.6M264.2 44.7v4.6M261.9 59.1h4.6M264.2 56.8v4.6M261.9 37.5h4.6M264.2 35.2v4.6M261.9 58.8h4.6M264.2 56.5v4.6M261.9 48.2h4.6M264.2 45.9v4.6M261.9 80.8h4.6M264.2 78.5v4.6M261.9 74.5h4.6M264.2 72.2v4.6M261.9 47.8h4.6M264.2 45.5v4.6M261.9 51.5h4.6M264.2 49.2v4.6M261.9 92.6h4.6M264.2 90.3v4.6M261.9 89.3h4.6M264.2 87.0v4.6M261.9 57.6h4.6M264.2 55.3v4.6M261.9 27.3h4.6M264.2 25.0v4.6M261.9 86.9h4.6M264.2 84.6v4.6M261.9 40.7h4.6M264.2 38.4v4.6M261.9 31.1h4.6M264.2 28.8v4.6M261.9 59.4h4.6M264.2 57.1v4.6M261.9 61.2h4.6M264.2 58.9v4.6M261.9 87.8h4.6M264.2 85.5v4.6M261.9 49.0h4.6M264.2 46.7v4.6M261.9 34.7h4.6M264.2 32.4v4.6M261.9 76.6h4.6M264.2 74.3v4.6M261.9 42.1h4.6M264.2 39.8v4.6M261.9 91.1h4.6M264.2 88.8v4.6M261.9 25.0h4.6M264.2 22.7v4.6M265.4 78.8h4.6M267.7 76.5v4.6M265.4 77.4h4.6M267.7 75.1v4.6M265.4 62.5h4.6M267.7 60.2v4.6M265.4 62.7h4.6M267.7 60.4v4.6M265.4 46.8h4.6M267.7 44.5v4.6M265.4 71.8h4.6M267.7 69.5v4.6M265.4 54.3h4.6M267.7 52.0v4.6M265.4 70.5h4.6M267.7 68.2v4.6M265.4 28.8h4.6M267.7 26.5v4.6M268.8 46.5h4.6M271.1 44.2v4.6M268.8 47.5h4.6M271.1 45.2v4.6M237.5 98.1h4.6M239.8 95.8v4.6M251.4 116.1h4.6M253.7 113.8v4.6M251.4 122.6h4.6M253.7 120.3v4.6M254.9 100.6h4.6M257.2 98.3v4.6" stroke="#6e6e6e" stroke-opacity="0.5" stroke-width="0.55" fill="none"/>
<path d="M303.7 41.0h4.6M306.0 38.7v4.6M303.7 62.3h4.6M306.0 60.0v4.6M321.2 53.8h4.6M323.5 51.5v4.6M296.7 55.9h4.6M299.0 53.6v4.6M272.3 101.7h4.6M274.6 99.4v4.6M300.2 43.1h4.6M302.5 40.8v4.6" stroke="#e8702a" stroke-opacity="0.7" stroke-width="0.55" fill="none"/>
</g>
<rect x="235.76" y="16.7" width="92.4" height="110.30" fill="none" stroke="#8a8a8a" stroke-width="0.9"/>
<text x="281.96" y="14.5" font-size="6.1" font-weight="bold" text-anchor="middle" fill="#1a1a1a">CD4 T cells</text>
<text x="239.76" y="133.1" font-size="5" font-weight="bold" text-anchor="middle" fill="#3a3a3a">0.00</text>
<text x="260.69" y="133.1" font-size="5" font-weight="bold" text-anchor="middle" fill="#3a3a3a">0.25</text>
<text x="281.61" y="133.1" font-size="5" font-weight="bold" text-anchor="middle" fill="#3a3a3a">0.50</text>
<text x="302.53" y="133.1" font-size="5" font-weight="bold" text-anchor="middle" fill="#3a3a3a">0.75</text>
<text x="323.46" y="133.1" font-size="5" font-weight="bold" text-anchor="middle" fill="#3a3a3a">1.00</text>
<path d="M239.76 127.0v1.6M260.69 127.0v1.6M281.61 127.0v1.6M302.53 127.0v1.6M323.46 127.0v1.6" stroke="#555" stroke-width="0.5" fill="none"/>
<rect x="330.49" y="7.3" width="92.4" height="9.40" fill="#d9d9d9" stroke="#8a8a8a" stroke-width="0.9"/>
<rect x="330.49" y="16.7" width="92.4" height="110.30" fill="#fff"/>
<path d="M344.95 16.7V127.0M330.49 114.99H422.89M365.88 16.7V127.0M330.49 88.36H422.89M386.80 16.7V127.0M330.49 61.74H422.89M407.73 16.7V127.0M330.49 35.11H422.89" stroke="#f4f4f4" stroke-width="0.4" fill="none"/>
<path d="M334.49 16.7V127.0M355.42 16.7V127.0M330.49 101.68H422.89M376.34 16.7V127.0M330.49 75.05H422.89M397.26 16.7V127.0M330.49 48.43H422.89M418.19 16.7V127.0M330.49 21.80H422.89" stroke="#ebebeb" stroke-width="0.6" fill="none"/>
<clipPath id="ca3"><rect x="330.49" y="16.7" width="92.4" height="110.30"/></clipPath>
<g clip-path="url(#ca3)">
<path d="M338.26 123.51L418.19 21.80" stroke="#8c8c8c" stroke-width="0.85" stroke-dasharray="4.2 3.2" fill="none"/>
<path d="M332.2 21.8h4.6M334.5 19.5v4.6M335.7 21.8h4.6M338.0 19.5v4.6M339.2 21.8h4.6M341.5 19.5v4.6M342.7 21.8h4.6M345.0 19.5v4.6M346.1 21.8h4.6M348.4 19.5v4.6M349.6 21.8h4.6M351.9 19.5v4.6M356.6 21.8h4.6M358.9 19.5v4.6M370.6 21.8h4.6M372.9 19.5v4.6M374.0 21.8h4.6M376.3 19.5v4.6M332.2 29.0h4.6M334.5 26.7v4.6M332.2 65.4h4.6M334.5 63.1v4.6M332.2 74.4h4.6M334.5 72.1v4.6M332.2 39.0h4.6M334.5 36.7v4.6M332.2 63.1h4.6M334.5 60.8v4.6M332.2 58.8h4.6M334.5 56.5v4.6M332.2 76.0h4.6M334.5 73.7v4.6M332.2 30.9h4.6M334.5 28.6v4.6M332.2 52.0h4.6M334.5 49.7v4.6M332.2 29.6h4.6M334.5 27.3v4.6M332.2 80.5h4.6M334.5 78.2v4.6M332.2 59.3h4.6M334.5 57.0v4.6M332.2 49.7h4.6M334.5 47.4v4.6M332.2 49.7h4.6M334.5 47.4v4.6M332.2 25.3h4.6M334.5 23.0v4.6M332.2 34.9h4.6M334.5 32.6v4.6M332.2 40.4h4.6M334.5 38.1v4.6M332.2 98.3h4.6M334.5 96.0v4.6M332.2 79.3h4.6M334.5 77.0v4.6M332.2 33.0h4.6M334.5 30.7v4.6M332.2 86.2h4.6M334.5 83.9v4.6M332.2 35.0h4.6M334.5 32.7v4.6M332.2 41.0h4.6M334.5 38.7v4.6M332.2 55.0h4.6M334.5 52.7v4.6M332.2 95.1h4.6M334.5 92.8v4.6M332.2 103.0h4.6M334.5 100.7v4.6M332.2 100.1h4.6M334.5 97.8v4.6M332.2 87.8h4.6M334.5 85.5v4.6M332.2 106.8h4.6M334.5 104.5v4.6M332.2 55.8h4.6M334.5 53.5v4.6M332.2 48.6h4.6M334.5 46.3v4.6M332.2 87.7h4.6M334.5 85.4v4.6M332.2 36.8h4.6M334.5 34.5v4.6M332.2 96.1h4.6M334.5 93.8v4.6M332.2 60.2h4.6M334.5 57.9v4.6M332.2 74.3h4.6M334.5 72.0v4.6M332.2 71.0h4.6M334.5 68.7v4.6M332.2 73.5h4.6M334.5 71.2v4.6M332.2 68.5h4.6M334.5 66.2v4.6M332.2 73.5h4.6M334.5 71.2v4.6M332.2 84.0h4.6M334.5 81.7v4.6M332.2 102.5h4.6M334.5 100.2v4.6M332.2 66.4h4.6M334.5 64.1v4.6M332.2 82.3h4.6M334.5 80.0v4.6M332.2 68.0h4.6M334.5 65.7v4.6M332.2 87.5h4.6M334.5 85.2v4.6M332.2 80.3h4.6M334.5 78.0v4.6M335.7 25.2h4.6M338.0 22.9v4.6M335.7 40.7h4.6M338.0 38.4v4.6M335.7 39.9h4.6M338.0 37.6v4.6M335.7 79.4h4.6M338.0 77.1v4.6M335.7 65.0h4.6M338.0 62.7v4.6M335.7 80.6h4.6M338.0 78.3v4.6M335.7 31.1h4.6M338.0 28.8v4.6M335.7 105.3h4.6M338.0 103.0v4.6M335.7 100.2h4.6M338.0 97.9v4.6M335.7 84.6h4.6M338.0 82.3v4.6M335.7 36.0h4.6M338.0 33.7v4.6M335.7 36.1h4.6M338.0 33.8v4.6M335.7 80.8h4.6M338.0 78.5v4.6M335.7 46.1h4.6M338.0 43.8v4.6M335.7 47.0h4.6M338.0 44.7v4.6M335.7 72.0h4.6M338.0 69.7v4.6M335.7 61.7h4.6M338.0 59.4v4.6M335.7 31.5h4.6M338.0 29.2v4.6M335.7 103.1h4.6M338.0 100.8v4.6M335.7 30.9h4.6M338.0 28.6v4.6M335.7 75.9h4.6M338.0 73.6v4.6M335.7 61.8h4.6M338.0 59.5v4.6M335.7 39.4h4.6M338.0 37.1v4.6M335.7 43.8h4.6M338.0 41.5v4.6M335.7 45.1h4.6M338.0 42.8v4.6M335.7 65.1h4.6M338.0 62.8v4.6M335.7 35.2h4.6M338.0 32.9v4.6M335.7 44.0h4.6M338.0 41.7v4.6M335.7 45.2h4.6M338.0 42.9v4.6M335.7 69.5h4.6M338.0 67.2v4.6M335.7 72.4h4.6M338.0 70.1v4.6M335.7 100.8h4.6M338.0 98.5v4.6M335.7 96.5h4.6M338.0 94.2v4.6M335.7 74.7h4.6M338.0 72.4v4.6M335.7 104.5h4.6M338.0 102.2v4.6M335.7 86.4h4.6M338.0 84.1v4.6M335.7 78.8h4.6M338.0 76.5v4.6M335.7 47.5h4.6M338.0 45.2v4.6M335.7 39.6h4.6M338.0 37.3v4.6M335.7 97.6h4.6M338.0 95.3v4.6M339.2 89.2h4.6M341.5 86.9v4.6M339.2 30.7h4.6M341.5 28.4v4.6M339.2 55.5h4.6M341.5 53.2v4.6M339.2 26.0h4.6M341.5 23.7v4.6M339.2 40.0h4.6M341.5 37.7v4.6M339.2 41.4h4.6M341.5 39.1v4.6M339.2 44.0h4.6M341.5 41.7v4.6M339.2 95.6h4.6M341.5 93.3v4.6M339.2 56.4h4.6M341.5 54.1v4.6M339.2 80.3h4.6M341.5 78.0v4.6M339.2 69.1h4.6M341.5 66.8v4.6M339.2 29.3h4.6M341.5 27.0v4.6M339.2 35.9h4.6M341.5 33.6v4.6M339.2 104.0h4.6M341.5 101.7v4.6M339.2 84.8h4.6M341.5 82.5v4.6M339.2 74.1h4.6M341.5 71.8v4.6M339.2 52.9h4.6M341.5 50.6v4.6M339.2 39.8h4.6M341.5 37.5v4.6M339.2 65.1h4.6M341.5 62.8v4.6M339.2 89.9h4.6M341.5 87.6v4.6M339.2 48.7h4.6M341.5 46.4v4.6M339.2 99.6h4.6M341.5 97.3v4.6M339.2 30.8h4.6M341.5 28.5v4.6M339.2 78.0h4.6M341.5 75.7v4.6M339.2 73.5h4.6M341.5 71.2v4.6M339.2 67.3h4.6M341.5 65.0v4.6M339.2 83.4h4.6M341.5 81.1v4.6M339.2 59.5h4.6M341.5 57.2v4.6M339.2 102.0h4.6M341.5 99.7v4.6M339.2 75.5h4.6M341.5 73.2v4.6M339.2 84.3h4.6M341.5 82.0v4.6M342.7 59.6h4.6M345.0 57.3v4.6M342.7 36.3h4.6M345.0 34.0v4.6M342.7 101.4h4.6M345.0 99.1v4.6M342.7 102.9h4.6M345.0 100.6v4.6M342.7 98.3h4.6M345.0 96.0v4.6M342.7 33.9h4.6M345.0 31.6v4.6M342.7 84.3h4.6M345.0 82.0v4.6M342.7 101.9h4.6M345.0 99.6v4.6M342.7 73.4h4.6M345.0 71.1v4.6M342.7 56.6h4.6M345.0 54.3v4.6M342.7 84.8h4.6M345.0 82.5v4.6M342.7 76.1h4.6M345.0 73.8v4.6M342.7 70.8h4.6M345.0 68.5v4.6M342.7 55.6h4.6M345.0 53.3v4.6M342.7 102.9h4.6M345.0 100.6v4.6M342.7 66.9h4.6M345.0 64.6v4.6M342.7 80.2h4.6M345.0 77.9v4.6M342.7 83.8h4.6M345.0 81.5v4.6M342.7 104.0h4.6M345.0 101.7v4.6M342.7 97.2h4.6M345.0 94.9v4.6M342.7 57.2h4.6M345.0 54.9v4.6M342.7 49.3h4.6M345.0 47.0v4.6M342.7 30.5h4.6M345.0 28.2v4.6M342.7 83.2h4.6M345.0 80.9v4.6M342.7 54.2h4.6M345.0 51.9v4.6M342.7 89.2h4.6M345.0 86.9v4.6M346.1 60.9h4.6M348.4 58.6v4.6M346.1 73.2h4.6M348.4 70.9v4.6M346.1 50.3h4.6M348.4 48.0v4.6M346.1 92.8h4.6M348.4 90.5v4.6M346.1 36.6h4.6M348.4 34.3v4.6M346.1 72.3h4.6M348.4 70.0v4.6M346.1 94.5h4.6M348.4 92.2v4.6M346.1 59.9h4.6M348.4 57.6v4.6M346.1 42.2h4.6M348.4 39.9v4.6M346.1 51.9h4.6M348.4 49.6v4.6M346.1 93.2h4.6M348.4 90.9v4.6M346.1 29.9h4.6M348.4 27.6v4.6M346.1 30.6h4.6M348.4 28.3v4.6M346.1 65.7h4.6M348.4 63.4v4.6M346.1 47.4h4.6M348.4 45.1v4.6M346.1 27.2h4.6M348.4 24.9v4.6M346.1 35.2h4.6M348.4 32.9v4.6M349.6 62.4h4.6M351.9 60.1v4.6M349.6 48.1h4.6M351.9 45.8v4.6M349.6 59.4h4.6M351.9 57.1v4.6M349.6 73.8h4.6M351.9 71.5v4.6M349.6 46.5h4.6M351.9 44.2v4.6M349.6 85.6h4.6M351.9 83.3v4.6M349.6 58.2h4.6M351.9 55.9v4.6M349.6 87.7h4.6M351.9 85.4v4.6M353.1 42.7h4.6M355.4 40.4v4.6M353.1 85.2h4.6M355.4 82.9v4.6M353.1 39.2h4.6M355.4 36.9v4.6M353.1 80.7h4.6M355.4 78.4v4.6M353.1 67.1h4.6M355.4 64.8v4.6M356.6 82.0h4.6M358.9 79.7v4.6M356.6 75.1h4.6M358.9 72.8v4.6M384.5 59.1h4.6M386.8 56.8v4.6M384.5 72.9h4.6M386.8 70.6v4.6M391.5 51.6h4.6M393.8 49.3v4.6M374.0 45.2h4.6M376.3 42.9v4.6M332.2 114.5h4.6M334.5 112.2v4.6M346.1 113.4h4.6M348.4 111.1v4.6M363.6 27.1h4.6M365.9 24.8v4.6" stroke="#68c468" stroke-opacity="0.5" stroke-width="0.55" fill="none"/>
<path d="M332.2 24.7h4.6M334.5 22.4v4.6M332.2 25.0h4.6M334.5 22.7v4.6M332.2 93.7h4.6M334.5 91.4v4.6M332.2 105.9h4.6M334.5 103.6v4.6M332.2 96.5h4.6M334.5 94.2v4.6M332.2 80.7h4.6M334.5 78.4v4.6M332.2 50.4h4.6M334.5 48.1v4.6M335.7 25.4h4.6M338.0 23.1v4.6M335.7 92.3h4.6M338.0 90.0v4.6M339.2 51.3h4.6M341.5 49.0v4.6M339.2 67.7h4.6M341.5 65.4v4.6M339.2 51.5h4.6M341.5 49.2v4.6M339.2 57.0h4.6M341.5 54.7v4.6M339.2 85.6h4.6M341.5 83.3v4.6M342.7 68.4h4.6M345.0 66.1v4.6M342.7 77.6h4.6M345.0 75.3v4.6M342.7 42.9h4.6M345.0 40.6v4.6M342.7 61.6h4.6M345.0 59.3v4.6M346.1 66.3h4.6M348.4 64.0v4.6M346.1 78.6h4.6M348.4 76.3v4.6M349.6 82.3h4.6M351.9 80.0v4.6M349.6 81.1h4.6M351.9 78.8v4.6" stroke="#6e6e6e" stroke-opacity="0.5" stroke-width="0.55" fill="none"/>
<path d="M342.7 21.8h4.6M345.0 19.5v4.6M346.1 21.8h4.6M348.4 19.5v4.6M349.6 21.8h4.6M351.9 19.5v4.6M353.1 21.8h4.6M355.4 19.5v4.6M356.6 21.8h4.6M358.9 19.5v4.6M360.1 21.8h4.6M362.4 19.5v4.6M363.6 21.8h4.6M365.9 19.5v4.6M367.1 21.8h4.6M369.4 19.5v4.6M370.6 21.8h4.6M372.9 19.5v4.6M374.0 21.8h4.6M376.3 19.5v4.6M377.5 21.8h4.6M379.8 19.5v4.6M381.0 21.8h4.6M383.3 19.5v4.6M384.5 21.8h4.6M386.8 19.5v4.6M388.0 21.8h4.6M390.3 19.5v4.6M405.4 21.8h4.6M407.7 19.5v4.6M408.9 21.8h4.6M411.2 19.5v4.6M412.4 21.8h4.6M414.7 19.5v4.6M332.2 106.4h4.6M334.5 104.1v4.6M332.2 92.6h4.6M334.5 90.3v4.6M332.2 87.8h4.6M334.5 85.5v4.6M332.2 105.8h4.6M334.5 103.5v4.6M335.7 74.8h4.6M338.0 72.5v4.6M335.7 84.2h4.6M338.0 81.9v4.6M335.7 106.1h4.6M338.0 103.8v4.6M335.7 51.5h4.6M338.0 49.2v4.6M339.2 41.6h4.6M341.5 39.3v4.6M339.2 84.4h4.6M341.5 82.1v4.6M346.1 79.6h4.6M348.4 77.3v4.6M339.2 41.4h4.6M341.5 39.1v4.6M339.2 31.7h4.6M341.5 29.4v4.6M339.2 67.9h4.6M341.5 65.6v4.6M342.7 61.2h4.6M345.0 58.9v4.6M342.7 34.2h4.6M345.0 31.9v4.6M342.7 32.9h4.6M345.0 30.6v4.6M342.7 55.7h4.6M345.0 53.4v4.6M346.1 84.6h4.6M348.4 82.3v4.6M346.1 61.8h4.6M348.4 59.5v4.6M346.1 54.9h4.6M348.4 52.6v4.6M346.1 42.5h4.6M348.4 40.2v4.6M346.1 86.4h4.6M348.4 84.1v4.6M349.6 48.1h4.6M351.9 45.8v4.6M349.6 51.1h4.6M351.9 48.8v4.6M349.6 79.7h4.6M351.9 77.4v4.6M349.6 83.0h4.6M351.9 80.7v4.6M349.6 30.1h4.6M351.9 27.8v4.6M353.1 73.6h4.6M355.4 71.3v4.6M353.1 64.6h4.6M355.4 62.3v4.6M353.1 81.8h4.6M355.4 79.5v4.6M353.1 97.4h4.6M355.4 95.1v4.6M353.1 61.9h4.6M355.4 59.6v4.6M356.6 49.6h4.6M358.9 47.3v4.6M356.6 75.7h4.6M358.9 73.4v4.6M356.6 69.0h4.6M358.9 66.7v4.6M356.6 42.3h4.6M358.9 40.0v4.6M360.1 63.5h4.6M362.4 61.2v4.6M360.1 66.1h4.6M362.4 63.8v4.6M360.1 70.8h4.6M362.4 68.5v4.6M360.1 55.2h4.6M362.4 52.9v4.6M363.6 29.6h4.6M365.9 27.3v4.6M363.6 71.0h4.6M365.9 68.7v4.6M363.6 58.5h4.6M365.9 56.2v4.6M367.1 68.1h4.6M369.4 65.8v4.6M367.1 71.8h4.6M369.4 69.5v4.6M367.1 62.5h4.6M369.4 60.2v4.6M370.6 51.4h4.6M372.9 49.1v4.6M370.6 48.5h4.6M372.9 46.2v4.6M374.0 46.0h4.6M376.3 43.7v4.6M374.0 42.6h4.6M376.3 40.3v4.6M377.5 60.4h4.6M379.8 58.1v4.6" stroke="#fdb77a" stroke-opacity="0.6" stroke-width="0.55" fill="none"/>
<path d="M391.5 21.8h4.6M393.8 19.5v4.6M395.0 21.8h4.6M397.3 19.5v4.6M398.5 21.8h4.6M400.8 19.5v4.6M401.9 21.8h4.6M404.2 19.5v4.6M415.9 21.8h4.6M418.2 19.5v4.6M370.6 32.5h4.6M372.9 30.2v4.6M377.5 32.5h4.6M379.8 30.2v4.6M381.0 35.6h4.6M383.3 33.3v4.6M381.0 41.0h4.6M383.3 38.7v4.6M377.5 51.6h4.6M379.8 49.3v4.6M381.0 51.6h4.6M383.3 49.3v4.6M388.0 53.8h4.6M390.3 51.5v4.6M353.1 62.3h4.6M355.4 60.0v4.6M346.1 75.1h4.6M348.4 72.8v4.6M367.1 78.2h4.6M369.4 75.9v4.6M342.7 99.5h4.6M345.0 97.2v4.6" stroke="#e8702a" stroke-opacity="0.7" stroke-width="0.55" fill="none"/>
</g>
<rect x="330.49" y="16.7" width="92.4" height="110.30" fill="none" stroke="#8a8a8a" stroke-width="0.9"/>
<text x="376.69" y="14.5" font-size="6.1" font-weight="bold" text-anchor="middle" fill="#1a1a1a">CD8 T cells</text>
<text x="334.49" y="133.1" font-size="5" font-weight="bold" text-anchor="middle" fill="#3a3a3a">0.00</text>
<text x="355.42" y="133.1" font-size="5" font-weight="bold" text-anchor="middle" fill="#3a3a3a">0.25</text>
<text x="376.34" y="133.1" font-size="5" font-weight="bold" text-anchor="middle" fill="#3a3a3a">0.50</text>
<text x="397.26" y="133.1" font-size="5" font-weight="bold" text-anchor="middle" fill="#3a3a3a">0.75</text>
<text x="418.19" y="133.1" font-size="5" font-weight="bold" text-anchor="middle" fill="#3a3a3a">1.00</text>
<path d="M334.49 127.0v1.6M355.42 127.0v1.6M376.34 127.0v1.6M397.26 127.0v1.6M418.19 127.0v1.6" stroke="#555" stroke-width="0.5" fill="none"/>
<rect x="425.22" y="7.3" width="92.4" height="9.40" fill="#d9d9d9" stroke="#8a8a8a" stroke-width="0.9"/>
<rect x="425.22" y="16.7" width="92.4" height="110.30" fill="#fff"/>
<path d="M439.68 16.7V127.0M425.22 114.99H517.62M460.61 16.7V127.0M425.22 88.36H517.62M481.53 16.7V127.0M425.22 61.74H517.62M502.46 16.7V127.0M425.22 35.11H517.62" stroke="#f4f4f4" stroke-width="0.4" fill="none"/>
<path d="M429.22 16.7V127.0M450.15 16.7V127.0M425.22 101.68H517.62M471.07 16.7V127.0M425.22 75.05H517.62M492.00 16.7V127.0M425.22 48.43H517.62M512.92 16.7V127.0M425.22 21.80H517.62" stroke="#ebebeb" stroke-width="0.6" fill="none"/>
<clipPath id="ca4"><rect x="425.22" y="16.7" width="92.4" height="110.30"/></clipPath>
<g clip-path="url(#ca4)">
<path d="M432.99 123.51L512.92 21.80" stroke="#8c8c8c" stroke-width="0.85" stroke-dasharray="4.2 3.2" fill="none"/>
<path d="M461.8 21.8h4.6M464.1 19.5v4.6M465.3 21.8h4.6M467.6 19.5v4.6M468.8 21.8h4.6M471.1 19.5v4.6M472.3 21.8h4.6M474.6 19.5v4.6M475.7 21.8h4.6M478.0 19.5v4.6M479.2 21.8h4.6M481.5 19.5v4.6M482.7 21.8h4.6M485.0 19.5v4.6M486.2 21.8h4.6M488.5 19.5v4.6M489.7 21.8h4.6M492.0 19.5v4.6M493.2 21.8h4.6M495.5 19.5v4.6M451.3 90.3h4.6M453.6 88.0v4.6M451.3 94.5h4.6M453.6 92.2v4.6M451.3 104.2h4.6M453.6 101.9v4.6M454.8 52.2h4.6M457.1 49.9v4.6M454.8 84.0h4.6M457.1 81.7v4.6M454.8 84.5h4.6M457.1 82.2v4.6M454.8 88.8h4.6M457.1 86.5v4.6M454.8 80.0h4.6M457.1 77.7v4.6M458.3 89.6h4.6M460.6 87.3v4.6M458.3 56.2h4.6M460.6 53.9v4.6M458.3 70.0h4.6M460.6 67.7v4.6M458.3 90.1h4.6M460.6 87.8v4.6M458.3 102.2h4.6M460.6 99.9v4.6M458.3 50.7h4.6M460.6 48.4v4.6M458.3 88.0h4.6M460.6 85.7v4.6M458.3 103.5h4.6M460.6 101.2v4.6M458.3 91.7h4.6M460.6 89.4v4.6M461.8 51.1h4.6M464.1 48.8v4.6M461.8 84.7h4.6M464.1 82.4v4.6M461.8 45.2h4.6M464.1 42.9v4.6M461.8 88.5h4.6M464.1 86.2v4.6M461.8 50.3h4.6M464.1 48.0v4.6M461.8 90.9h4.6M464.1 88.6v4.6M461.8 73.2h4.6M464.1 70.9v4.6M461.8 101.9h4.6M464.1 99.6v4.6M461.8 66.6h4.6M464.1 64.3v4.6M461.8 44.3h4.6M464.1 42.0v4.6M461.8 97.9h4.6M464.1 95.6v4.6M461.8 63.5h4.6M464.1 61.2v4.6M461.8 87.8h4.6M464.1 85.5v4.6M461.8 98.6h4.6M464.1 96.3v4.6M461.8 84.7h4.6M464.1 82.4v4.6M465.3 80.7h4.6M467.6 78.4v4.6M465.3 71.9h4.6M467.6 69.6v4.6M465.3 50.0h4.6M467.6 47.7v4.6M465.3 87.7h4.6M467.6 85.4v4.6M465.3 73.7h4.6M467.6 71.4v4.6M465.3 58.7h4.6M467.6 56.4v4.6M465.3 60.8h4.6M467.6 58.5v4.6M465.3 78.9h4.6M467.6 76.6v4.6M465.3 81.0h4.6M467.6 78.7v4.6M465.3 72.6h4.6M467.6 70.3v4.6M465.3 47.5h4.6M467.6 45.2v4.6M465.3 90.8h4.6M467.6 88.5v4.6M465.3 75.4h4.6M467.6 73.1v4.6M465.3 56.4h4.6M467.6 54.1v4.6M465.3 60.7h4.6M467.6 58.4v4.6M465.3 78.5h4.6M467.6 76.2v4.6M465.3 52.0h4.6M467.6 49.7v4.6M465.3 56.3h4.6M467.6 54.0v4.6M465.3 96.1h4.6M467.6 93.8v4.6M465.3 77.8h4.6M467.6 75.5v4.6M468.8 40.3h4.6M471.1 38.0v4.6M468.8 76.6h4.6M471.1 74.3v4.6M468.8 80.7h4.6M471.1 78.4v4.6M468.8 91.1h4.6M471.1 88.8v4.6M468.8 32.8h4.6M471.1 30.5v4.6M468.8 51.6h4.6M471.1 49.3v4.6M468.8 86.4h4.6M471.1 84.1v4.6M468.8 89.0h4.6M471.1 86.7v4.6M468.8 64.4h4.6M471.1 62.1v4.6M468.8 36.1h4.6M471.1 33.8v4.6M468.8 91.1h4.6M471.1 88.8v4.6M468.8 83.5h4.6M471.1 81.2v4.6M468.8 72.8h4.6M471.1 70.5v4.6M468.8 61.0h4.6M471.1 58.7v4.6M468.8 86.5h4.6M471.1 84.2v4.6M468.8 70.8h4.6M471.1 68.5v4.6M468.8 66.6h4.6M471.1 64.3v4.6M468.8 71.3h4.6M471.1 69.0v4.6M468.8 54.3h4.6M471.1 52.0v4.6M468.8 53.8h4.6M471.1 51.5v4.6M468.8 79.7h4.6M471.1 77.4v4.6M468.8 54.0h4.6M471.1 51.7v4.6M468.8 34.0h4.6M471.1 31.7v4.6M472.3 56.7h4.6M474.6 54.4v4.6M472.3 54.3h4.6M474.6 52.0v4.6M472.3 80.0h4.6M474.6 77.7v4.6M472.3 74.6h4.6M474.6 72.3v4.6M472.3 33.1h4.6M474.6 30.8v4.6M472.3 67.0h4.6M474.6 64.7v4.6M472.3 66.7h4.6M474.6 64.4v4.6M472.3 60.6h4.6M474.6 58.3v4.6M472.3 49.2h4.6M474.6 46.9v4.6M472.3 78.1h4.6M474.6 75.8v4.6M472.3 67.6h4.6M474.6 65.3v4.6M472.3 36.5h4.6M474.6 34.2v4.6M472.3 67.9h4.6M474.6 65.6v4.6M472.3 41.8h4.6M474.6 39.5v4.6M472.3 30.1h4.6M474.6 27.8v4.6M472.3 67.3h4.6M474.6 65.0v4.6M472.3 39.0h4.6M474.6 36.7v4.6M472.3 36.7h4.6M474.6 34.4v4.6M472.3 76.4h4.6M474.6 74.1v4.6M472.3 26.5h4.6M474.6 24.2v4.6M472.3 26.4h4.6M474.6 24.1v4.6M472.3 26.2h4.6M474.6 23.9v4.6M475.7 30.9h4.6M478.0 28.6v4.6M475.7 59.2h4.6M478.0 56.9v4.6M475.7 35.9h4.6M478.0 33.6v4.6M475.7 77.7h4.6M478.0 75.4v4.6M475.7 29.1h4.6M478.0 26.8v4.6M475.7 43.2h4.6M478.0 40.9v4.6M475.7 51.2h4.6M478.0 48.9v4.6M475.7 82.7h4.6M478.0 80.4v4.6M475.7 67.0h4.6M478.0 64.7v4.6M475.7 73.6h4.6M478.0 71.3v4.6M475.7 65.9h4.6M478.0 63.6v4.6M475.7 71.8h4.6M478.0 69.5v4.6M475.7 54.1h4.6M478.0 51.8v4.6M475.7 29.6h4.6M478.0 27.3v4.6M475.7 80.3h4.6M478.0 78.0v4.6M475.7 40.1h4.6M478.0 37.8v4.6M475.7 65.3h4.6M478.0 63.0v4.6M475.7 55.6h4.6M478.0 53.3v4.6M475.7 80.3h4.6M478.0 78.0v4.6M475.7 75.3h4.6M478.0 73.0v4.6M475.7 31.3h4.6M478.0 29.0v4.6M475.7 31.9h4.6M478.0 29.6v4.6M475.7 25.7h4.6M478.0 23.4v4.6M479.2 61.0h4.6M481.5 58.7v4.6M479.2 46.3h4.6M481.5 44.0v4.6M479.2 78.0h4.6M481.5 75.7v4.6M479.2 56.7h4.6M481.5 54.4v4.6M479.2 41.9h4.6M481.5 39.6v4.6M479.2 65.1h4.6M481.5 62.8v4.6M479.2 44.8h4.6M481.5 42.5v4.6M479.2 37.9h4.6M481.5 35.6v4.6M479.2 31.6h4.6M481.5 29.3v4.6M479.2 75.8h4.6M481.5 73.5v4.6M479.2 64.3h4.6M481.5 62.0v4.6M479.2 79.7h4.6M481.5 77.4v4.6M479.2 39.2h4.6M481.5 36.9v4.6M479.2 75.9h4.6M481.5 73.6v4.6M479.2 24.7h4.6M481.5 22.4v4.6M479.2 48.0h4.6M481.5 45.7v4.6M479.2 36.0h4.6M481.5 33.7v4.6M482.7 74.1h4.6M485.0 71.8v4.6M482.7 43.9h4.6M485.0 41.6v4.6M482.7 44.5h4.6M485.0 42.2v4.6M482.7 74.4h4.6M485.0 72.1v4.6M482.7 40.4h4.6M485.0 38.1v4.6M482.7 41.8h4.6M485.0 39.5v4.6M482.7 50.9h4.6M485.0 48.6v4.6M482.7 56.3h4.6M485.0 54.0v4.6M482.7 72.9h4.6M485.0 70.6v4.6M482.7 31.4h4.6M485.0 29.1v4.6M482.7 71.9h4.6M485.0 69.6v4.6M482.7 30.1h4.6M485.0 27.8v4.6M482.7 61.0h4.6M485.0 58.7v4.6M482.7 36.1h4.6M485.0 33.8v4.6M486.2 24.6h4.6M488.5 22.3v4.6M486.2 42.1h4.6M488.5 39.8v4.6M486.2 52.9h4.6M488.5 50.6v4.6M486.2 42.9h4.6M488.5 40.6v4.6M486.2 43.1h4.6M488.5 40.8v4.6M486.2 51.6h4.6M488.5 49.3v4.6M486.2 26.0h4.6M488.5 23.7v4.6M486.2 50.0h4.6M488.5 47.7v4.6M486.2 49.4h4.6M488.5 47.1v4.6M489.7 40.6h4.6M492.0 38.3v4.6M489.7 39.4h4.6M492.0 37.1v4.6M489.7 40.5h4.6M492.0 38.2v4.6M489.7 40.7h4.6M492.0 38.4v4.6M489.7 27.6h4.6M492.0 25.3v4.6M489.7 35.8h4.6M492.0 33.5v4.6M493.2 34.6h4.6M495.5 32.3v4.6M493.2 32.2h4.6M495.5 29.9v4.6M493.2 40.7h4.6M495.5 38.4v4.6M493.2 44.5h4.6M495.5 42.2v4.6M444.4 34.6h4.6M446.7 32.3v4.6M451.3 53.8h4.6M453.6 51.5v4.6M437.4 66.5h4.6M439.7 64.2v4.6M444.4 69.7h4.6M446.7 67.4v4.6M451.3 68.7h4.6M453.6 66.4v4.6" stroke="#68c468" stroke-opacity="0.5" stroke-width="0.55" fill="none"/>
<path d="M447.8 21.8h4.6M450.1 19.5v4.6M458.3 21.8h4.6M460.6 19.5v4.6M461.8 21.8h4.6M464.1 19.5v4.6M454.8 50.8h4.6M457.1 48.5v4.6M458.3 81.5h4.6M460.6 79.2v4.6M472.3 41.0h4.6M474.6 38.7v4.6M472.3 54.3h4.6M474.6 52.0v4.6M479.2 77.6h4.6M481.5 75.3v4.6M479.2 59.6h4.6M481.5 57.3v4.6M479.2 67.3h4.6M481.5 65.0v4.6M482.7 46.0h4.6M485.0 43.7v4.6M486.2 69.0h4.6M488.5 66.7v4.6M461.8 51.6h4.6M464.1 49.3v4.6M475.7 37.8h4.6M478.0 35.5v4.6" stroke="#6e6e6e" stroke-opacity="0.5" stroke-width="0.55" fill="none"/>
<path d="M493.2 21.8h4.6M495.5 19.5v4.6M496.7 21.8h4.6M499.0 19.5v4.6M503.6 21.8h4.6M505.9 19.5v4.6M507.1 21.8h4.6M509.4 19.5v4.6M461.8 104.7h4.6M464.1 102.4v4.6M465.3 78.3h4.6M467.6 76.0v4.6M465.3 69.2h4.6M467.6 66.9v4.6M468.8 94.8h4.6M471.1 92.5v4.6M468.8 100.5h4.6M471.1 98.2v4.6M468.8 80.7h4.6M471.1 78.4v4.6M472.3 86.2h4.6M474.6 83.9v4.6M472.3 91.4h4.6M474.6 89.1v4.6M472.3 69.5h4.6M474.6 67.2v4.6M472.3 83.2h4.6M474.6 80.9v4.6M475.7 83.6h4.6M478.0 81.3v4.6M475.7 62.9h4.6M478.0 60.6v4.6M475.7 66.9h4.6M478.0 64.6v4.6M475.7 76.7h4.6M478.0 74.4v4.6M479.2 84.7h4.6M481.5 82.4v4.6M479.2 84.5h4.6M481.5 82.2v4.6M479.2 86.7h4.6M481.5 84.4v4.6M479.2 55.3h4.6M481.5 53.0v4.6M479.2 85.5h4.6M481.5 83.2v4.6M482.7 64.4h4.6M485.0 62.1v4.6M482.7 52.9h4.6M485.0 50.6v4.6M482.7 48.4h4.6M485.0 46.1v4.6M482.7 69.3h4.6M485.0 67.0v4.6M482.7 87.4h4.6M485.0 85.1v4.6M486.2 47.9h4.6M488.5 45.6v4.6M486.2 80.2h4.6M488.5 77.9v4.6M486.2 49.3h4.6M488.5 47.0v4.6M486.2 81.7h4.6M488.5 79.4v4.6M486.2 43.1h4.6M488.5 40.8v4.6M489.7 42.6h4.6M492.0 40.3v4.6M489.7 61.5h4.6M492.0 59.2v4.6M489.7 44.8h4.6M492.0 42.5v4.6M489.7 47.7h4.6M492.0 45.4v4.6M493.2 71.8h4.6M495.5 69.5v4.6M493.2 41.3h4.6M495.5 39.0v4.6M493.2 49.9h4.6M495.5 47.6v4.6M493.2 59.8h4.6M495.5 57.5v4.6M496.7 32.7h4.6M499.0 30.4v4.6M496.7 38.4h4.6M499.0 36.1v4.6M496.7 68.4h4.6M499.0 66.1v4.6M500.2 28.3h4.6M502.5 26.0v4.6M500.2 58.7h4.6M502.5 56.4v4.6M500.2 27.6h4.6M502.5 25.3v4.6M503.6 47.7h4.6M505.9 45.4v4.6M503.6 35.0h4.6M505.9 32.7v4.6M507.1 49.1h4.6M509.4 46.8v4.6M507.1 53.6h4.6M509.4 51.3v4.6M472.3 117.7h4.6M474.6 115.4v4.6M496.7 43.1h4.6M499.0 40.8v4.6" stroke="#fdb77a" stroke-opacity="0.6" stroke-width="0.55" fill="none"/>
<path d="M500.2 21.8h4.6M502.5 19.5v4.6M510.6 21.8h4.6M512.9 19.5v4.6M486.2 51.6h4.6M488.5 49.3v4.6M489.7 53.8h4.6M492.0 51.5v4.6M486.2 58.0h4.6M488.5 55.7v4.6M500.2 55.9h4.6M502.5 53.6v4.6M503.6 35.6h4.6M505.9 33.3v4.6M472.3 93.2h4.6M474.6 90.9v4.6M479.2 93.2h4.6M481.5 90.9v4.6M454.8 107.0h4.6M457.1 104.7v4.6M465.3 107.0h4.6M467.6 104.7v4.6M465.3 112.3h4.6M467.6 110.0v4.6M482.7 103.8h4.6M485.0 101.5v4.6M465.3 80.4h4.6M467.6 78.1v4.6M489.7 45.2h4.6M492.0 42.9v4.6M475.7 69.7h4.6M478.0 67.4v4.6" stroke="#e8702a" stroke-opacity="0.7" stroke-width="0.55" fill="none"/>
</g>
<rect x="425.22" y="16.7" width="92.4" height="110.30" fill="none" stroke="#8a8a8a" stroke-width="0.9"/>
<text x="471.42" y="14.5" font-size="6.1" font-weight="bold" text-anchor="middle" fill="#1a1a1a">Dendritic cells</text>
<text x="429.22" y="133.1" font-size="5" font-weight="bold" text-anchor="middle" fill="#3a3a3a">0.00</text>
<text x="450.15" y="133.1" font-size="5" font-weight="bold" text-anchor="middle" fill="#3a3a3a">0.25</text>
<text x="471.07" y="133.1" font-size="5" font-weight="bold" text-anchor="middle" fill="#3a3a3a">0.50</text>
<text x="492.00" y="133.1" font-size="5" font-weight="bold" text-anchor="middle" fill="#3a3a3a">0.75</text>
<text x="512.92" y="133.1" font-size="5" font-weight="bold" text-anchor="middle" fill="#3a3a3a">1.00</text>
<path d="M429.22 127.0v1.6M450.15 127.0v1.6M471.07 127.0v1.6M492.00 127.0v1.6M512.92 127.0v1.6" stroke="#555" stroke-width="0.5" fill="none"/>
<rect x="519.95" y="7.3" width="92.4" height="9.40" fill="#d9d9d9" stroke="#8a8a8a" stroke-width="0.9"/>
<rect x="519.95" y="16.7" width="92.4" height="110.30" fill="#fff"/>
<path d="M534.41 16.7V127.0M519.95 114.99H612.35M555.34 16.7V127.0M519.95 88.36H612.35M576.26 16.7V127.0M519.95 61.74H612.35M597.19 16.7V127.0M519.95 35.11H612.35" stroke="#f4f4f4" stroke-width="0.4" fill="none"/>
<path d="M523.95 16.7V127.0M544.88 16.7V127.0M519.95 101.68H612.35M565.80 16.7V127.0M519.95 75.05H612.35M586.73 16.7V127.0M519.95 48.43H612.35M607.65 16.7V127.0M519.95 21.80H612.35" stroke="#ebebeb" stroke-width="0.6" fill="none"/>
<clipPath id="ca5"><rect x="519.95" y="16.7" width="92.4" height="110.30"/></clipPath>
<g clip-path="url(#ca5)">
<path d="M527.72 123.51L607.65 21.80" stroke="#8c8c8c" stroke-width="0.85" stroke-dasharray="4.2 3.2" fill="none"/>
<path d="M563.5 21.8h4.6M565.8 19.5v4.6M567.0 21.8h4.6M569.3 19.5v4.6M577.5 21.8h4.6M579.8 19.5v4.6M580.9 21.8h4.6M583.2 19.5v4.6M587.9 21.8h4.6M590.2 19.5v4.6M591.4 21.8h4.6M593.7 19.5v4.6M594.9 21.8h4.6M597.2 19.5v4.6M549.6 76.1h4.6M551.9 73.8v4.6M549.6 68.0h4.6M551.9 65.7v4.6M549.6 98.3h4.6M551.9 96.0v4.6M549.6 93.2h4.6M551.9 90.9v4.6M549.6 68.7h4.6M551.9 66.4v4.6M549.6 89.5h4.6M551.9 87.2v4.6M553.0 94.9h4.6M555.3 92.6v4.6M553.0 63.2h4.6M555.3 60.9v4.6M553.0 83.1h4.6M555.3 80.8v4.6M553.0 98.6h4.6M555.3 96.3v4.6M553.0 53.9h4.6M555.3 51.6v4.6M553.0 47.7h4.6M555.3 45.4v4.6M553.0 62.1h4.6M555.3 59.8v4.6M556.5 46.8h4.6M558.8 44.5v4.6M556.5 53.7h4.6M558.8 51.4v4.6M556.5 69.0h4.6M558.8 66.7v4.6M556.5 42.6h4.6M558.8 40.3v4.6M556.5 85.4h4.6M558.8 83.1v4.6M556.5 43.3h4.6M558.8 41.0v4.6M556.5 73.2h4.6M558.8 70.9v4.6M556.5 62.6h4.6M558.8 60.3v4.6M556.5 93.0h4.6M558.8 90.7v4.6M556.5 49.1h4.6M558.8 46.8v4.6M556.5 43.8h4.6M558.8 41.5v4.6M556.5 87.8h4.6M558.8 85.5v4.6M556.5 50.5h4.6M558.8 48.2v4.6M560.0 81.3h4.6M562.3 79.0v4.6M560.0 69.9h4.6M562.3 67.6v4.6M560.0 51.2h4.6M562.3 48.9v4.6M560.0 39.0h4.6M562.3 36.7v4.6M560.0 44.6h4.6M562.3 42.3v4.6M560.0 37.2h4.6M562.3 34.9v4.6M560.0 68.2h4.6M562.3 65.9v4.6M560.0 56.4h4.6M562.3 54.1v4.6M560.0 53.4h4.6M562.3 51.1v4.6M560.0 86.5h4.6M562.3 84.2v4.6M560.0 86.4h4.6M562.3 84.1v4.6M563.5 70.3h4.6M565.8 68.0v4.6M563.5 72.6h4.6M565.8 70.3v4.6M563.5 47.8h4.6M565.8 45.5v4.6M563.5 64.8h4.6M565.8 62.5v4.6M563.5 48.0h4.6M565.8 45.7v4.6M563.5 60.0h4.6M565.8 57.7v4.6M563.5 57.8h4.6M565.8 55.5v4.6M563.5 75.3h4.6M565.8 73.0v4.6M563.5 71.9h4.6M565.8 69.6v4.6M563.5 40.5h4.6M565.8 38.2v4.6M563.5 39.6h4.6M565.8 37.3v4.6M563.5 63.6h4.6M565.8 61.3v4.6M567.0 54.3h4.6M569.3 52.0v4.6M567.0 38.8h4.6M569.3 36.5v4.6M567.0 46.5h4.6M569.3 44.2v4.6M567.0 32.5h4.6M569.3 30.2v4.6M567.0 77.5h4.6M569.3 75.2v4.6M567.0 42.5h4.6M569.3 40.2v4.6M567.0 50.4h4.6M569.3 48.1v4.6M567.0 36.0h4.6M569.3 33.7v4.6M567.0 62.4h4.6M569.3 60.1v4.6M567.0 36.1h4.6M569.3 33.8v4.6M567.0 54.3h4.6M569.3 52.0v4.6M567.0 59.9h4.6M569.3 57.6v4.6M567.0 42.5h4.6M569.3 40.2v4.6M570.5 46.2h4.6M572.8 43.9v4.6M570.5 48.6h4.6M572.8 46.3v4.6M570.5 41.7h4.6M572.8 39.4v4.6M570.5 62.9h4.6M572.8 60.6v4.6M570.5 31.4h4.6M572.8 29.1v4.6M570.5 50.3h4.6M572.8 48.0v4.6M570.5 44.5h4.6M572.8 42.2v4.6M570.5 66.8h4.6M572.8 64.5v4.6M570.5 46.3h4.6M572.8 44.0v4.6M570.5 27.7h4.6M572.8 25.4v4.6M570.5 27.4h4.6M572.8 25.1v4.6M570.5 71.7h4.6M572.8 69.4v4.6M570.5 31.0h4.6M572.8 28.7v4.6M570.5 26.6h4.6M572.8 24.3v4.6M570.5 41.0h4.6M572.8 38.7v4.6M570.5 35.3h4.6M572.8 33.0v4.6M574.0 37.1h4.6M576.3 34.8v4.6M574.0 72.2h4.6M576.3 69.9v4.6M574.0 40.8h4.6M576.3 38.5v4.6M574.0 71.3h4.6M576.3 69.0v4.6M574.0 39.4h4.6M576.3 37.1v4.6M574.0 71.5h4.6M576.3 69.2v4.6M574.0 33.4h4.6M576.3 31.1v4.6M574.0 58.7h4.6M576.3 56.4v4.6M574.0 63.5h4.6M576.3 61.2v4.6M574.0 71.3h4.6M576.3 69.0v4.6M574.0 54.7h4.6M576.3 52.4v4.6M574.0 36.8h4.6M576.3 34.5v4.6M574.0 50.7h4.6M576.3 48.4v4.6M574.0 33.3h4.6M576.3 31.0v4.6M574.0 35.7h4.6M576.3 33.4v4.6M577.5 62.2h4.6M579.8 59.9v4.6M577.5 24.7h4.6M579.8 22.4v4.6M577.5 25.9h4.6M579.8 23.6v4.6M577.5 62.4h4.6M579.8 60.1v4.6M577.5 64.7h4.6M579.8 62.4v4.6M577.5 42.8h4.6M579.8 40.5v4.6M577.5 33.3h4.6M579.8 31.0v4.6M577.5 32.6h4.6M579.8 30.3v4.6M577.5 38.8h4.6M579.8 36.5v4.6M577.5 26.8h4.6M579.8 24.5v4.6M577.5 28.1h4.6M579.8 25.8v4.6M577.5 57.7h4.6M579.8 55.4v4.6M577.5 61.0h4.6M579.8 58.7v4.6M577.5 60.6h4.6M579.8 58.3v4.6M577.5 60.9h4.6M579.8 58.6v4.6M577.5 33.2h4.6M579.8 30.9v4.6M577.5 63.7h4.6M579.8 61.4v4.6M580.9 56.2h4.6M583.2 53.9v4.6M580.9 47.0h4.6M583.2 44.7v4.6M580.9 46.5h4.6M583.2 44.2v4.6M580.9 57.0h4.6M583.2 54.7v4.6M580.9 41.7h4.6M583.2 39.4v4.6M580.9 57.9h4.6M583.2 55.6v4.6M580.9 62.4h4.6M583.2 60.1v4.6M584.4 38.2h4.6M586.7 35.9v4.6M584.4 55.4h4.6M586.7 53.1v4.6M584.4 39.5h4.6M586.7 37.2v4.6M584.4 28.7h4.6M586.7 26.4v4.6M584.4 29.3h4.6M586.7 27.0v4.6M584.4 48.8h4.6M586.7 46.5v4.6M584.4 34.8h4.6M586.7 32.5v4.6M587.9 49.1h4.6M590.2 46.8v4.6M587.9 27.4h4.6M590.2 25.1v4.6M587.9 28.1h4.6M590.2 25.8v4.6M587.9 42.7h4.6M590.2 40.4v4.6M591.4 41.2h4.6M593.7 38.9v4.6M594.9 32.0h4.6M597.2 29.7v4.6M594.9 42.3h4.6M597.2 40.0v4.6M549.6 102.3h4.6M551.9 100.0v4.6M549.6 114.0h4.6M551.9 111.7v4.6M553.0 94.7h4.6M555.3 92.4v4.6M553.0 98.1h4.6M555.3 95.8v4.6M556.5 109.1h4.6M558.8 106.8v4.6M560.0 98.3h4.6M562.3 96.0v4.6M560.0 98.6h4.6M562.3 96.3v4.6M563.5 103.9h4.6M565.8 101.6v4.6M570.5 116.7h4.6M572.8 114.4v4.6M574.0 122.2h4.6M576.3 119.9v4.6M605.4 77.2h4.6M607.7 74.9v4.6M542.6 83.6h4.6M544.9 81.3v4.6M553.0 50.6h4.6M555.3 48.3v4.6M580.9 96.4h4.6M583.2 94.1v4.6M577.5 87.8h4.6M579.8 85.5v4.6" stroke="#68c468" stroke-opacity="0.5" stroke-width="0.55" fill="none"/>
<path d="M598.4 21.8h4.6M600.7 19.5v4.6M601.9 21.8h4.6M604.2 19.5v4.6M605.4 21.8h4.6M607.7 19.5v4.6M542.6 66.6h4.6M544.9 64.3v4.6M546.1 69.6h4.6M548.4 67.3v4.6M549.6 73.9h4.6M551.9 71.6v4.6M549.6 83.5h4.6M551.9 81.2v4.6M553.0 91.4h4.6M555.3 89.1v4.6M553.0 84.4h4.6M555.3 82.1v4.6M553.0 70.8h4.6M555.3 68.5v4.6M553.0 45.8h4.6M555.3 43.5v4.6M553.0 82.6h4.6M555.3 80.3v4.6M553.0 50.8h4.6M555.3 48.5v4.6M556.5 75.9h4.6M558.8 73.6v4.6M556.5 79.7h4.6M558.8 77.4v4.6M560.0 85.2h4.6M562.3 82.9v4.6M563.5 72.9h4.6M565.8 70.6v4.6M563.5 78.5h4.6M565.8 76.2v4.6M563.5 40.1h4.6M565.8 37.8v4.6M563.5 71.8h4.6M565.8 69.5v4.6M563.5 61.6h4.6M565.8 59.3v4.6M563.5 46.7h4.6M565.8 44.4v4.6M567.0 65.1h4.6M569.3 62.8v4.6M567.0 40.0h4.6M569.3 37.7v4.6M567.0 67.1h4.6M569.3 64.8v4.6M570.5 24.7h4.6M572.8 22.4v4.6M570.5 62.1h4.6M572.8 59.8v4.6M570.5 46.4h4.6M572.8 44.1v4.6M570.5 53.2h4.6M572.8 50.9v4.6M574.0 30.6h4.6M576.3 28.3v4.6M574.0 64.4h4.6M576.3 62.1v4.6M574.0 28.4h4.6M576.3 26.1v4.6M574.0 28.5h4.6M576.3 26.2v4.6M577.5 55.1h4.6M579.8 52.8v4.6M577.5 27.5h4.6M579.8 25.2v4.6M580.9 40.8h4.6M583.2 38.5v4.6M580.9 58.6h4.6M583.2 56.3v4.6M580.9 34.1h4.6M583.2 31.8v4.6M580.9 58.2h4.6M583.2 55.9v4.6M580.9 44.4h4.6M583.2 42.1v4.6M587.9 28.1h4.6M590.2 25.8v4.6M587.9 39.6h4.6M590.2 37.3v4.6M587.9 26.4h4.6M590.2 24.1v4.6M591.4 24.3h4.6M593.7 22.0v4.6M594.9 38.9h4.6M597.2 36.6v4.6M556.5 96.4h4.6M558.8 94.1v4.6M563.5 99.0h4.6M565.8 96.7v4.6M567.0 115.8h4.6M569.3 113.5v4.6M567.0 106.9h4.6M569.3 104.6v4.6M570.5 94.9h4.6M572.8 92.6v4.6M574.0 104.6h4.6M576.3 102.3v4.6M598.4 56.9h4.6M600.7 54.6v4.6" stroke="#fdb77a" stroke-opacity="0.6" stroke-width="0.55" fill="none"/>
<path d="M560.0 21.8h4.6M562.3 19.5v4.6M570.5 21.8h4.6M572.8 19.5v4.6M574.0 21.8h4.6M576.3 19.5v4.6M584.4 21.8h4.6M586.7 19.5v4.6M546.1 78.5h4.6M548.4 76.2v4.6M546.1 58.2h4.6M548.4 55.9v4.6M546.1 94.7h4.6M548.4 92.4v4.6M549.6 56.2h4.6M551.9 53.9v4.6M549.6 74.4h4.6M551.9 72.1v4.6M553.0 70.2h4.6M555.3 67.9v4.6M553.0 61.3h4.6M555.3 59.0v4.6M553.0 66.8h4.6M555.3 64.5v4.6M556.5 58.9h4.6M558.8 56.6v4.6M556.5 86.0h4.6M558.8 83.7v4.6M556.5 68.7h4.6M558.8 66.4v4.6M556.5 58.7h4.6M558.8 56.4v4.6M556.5 46.4h4.6M558.8 44.1v4.6M556.5 90.3h4.6M558.8 88.0v4.6M560.0 83.4h4.6M562.3 81.1v4.6M560.0 63.6h4.6M562.3 61.3v4.6M560.0 54.9h4.6M562.3 52.6v4.6M560.0 58.5h4.6M562.3 56.2v4.6M560.0 45.4h4.6M562.3 43.1v4.6M560.0 55.6h4.6M562.3 53.3v4.6M560.0 38.8h4.6M562.3 36.5v4.6M560.0 64.3h4.6M562.3 62.0v4.6M560.0 51.1h4.6M562.3 48.8v4.6M560.0 73.3h4.6M562.3 71.0v4.6M560.0 57.0h4.6M562.3 54.7v4.6M560.0 57.6h4.6M562.3 55.3v4.6M560.0 78.0h4.6M562.3 75.7v4.6M563.5 56.6h4.6M565.8 54.3v4.6M563.5 84.5h4.6M565.8 82.2v4.6M563.5 35.5h4.6M565.8 33.2v4.6M563.5 71.8h4.6M565.8 69.5v4.6M563.5 68.4h4.6M565.8 66.1v4.6M563.5 36.3h4.6M565.8 34.0v4.6M563.5 63.7h4.6M565.8 61.4v4.6M563.5 49.0h4.6M565.8 46.7v4.6M563.5 70.9h4.6M565.8 68.6v4.6M563.5 40.8h4.6M565.8 38.5v4.6M567.0 64.9h4.6M569.3 62.6v4.6M567.0 30.7h4.6M569.3 28.4v4.6M567.0 66.9h4.6M569.3 64.6v4.6M567.0 45.7h4.6M569.3 43.4v4.6M567.0 32.2h4.6M569.3 29.9v4.6M567.0 36.7h4.6M569.3 34.4v4.6M567.0 68.6h4.6M569.3 66.3v4.6M567.0 34.8h4.6M569.3 32.5v4.6M567.0 66.3h4.6M569.3 64.0v4.6M567.0 38.9h4.6M569.3 36.6v4.6M567.0 33.8h4.6M569.3 31.5v4.6M567.0 76.8h4.6M569.3 74.5v4.6M567.0 60.9h4.6M569.3 58.6v4.6M567.0 42.1h4.6M569.3 39.8v4.6M570.5 52.0h4.6M572.8 49.7v4.6M570.5 70.8h4.6M572.8 68.5v4.6M570.5 54.7h4.6M572.8 52.4v4.6M570.5 42.2h4.6M572.8 39.9v4.6M570.5 62.2h4.6M572.8 59.9v4.6M570.5 31.5h4.6M572.8 29.2v4.6M570.5 39.0h4.6M572.8 36.7v4.6M570.5 49.6h4.6M572.8 47.3v4.6M570.5 72.3h4.6M572.8 70.0v4.6M570.5 64.6h4.6M572.8 62.3v4.6M574.0 40.8h4.6M576.3 38.5v4.6M574.0 71.1h4.6M576.3 68.8v4.6M574.0 45.2h4.6M576.3 42.9v4.6M574.0 43.0h4.6M576.3 40.7v4.6M574.0 39.9h4.6M576.3 37.6v4.6M574.0 26.3h4.6M576.3 24.0v4.6M574.0 49.8h4.6M576.3 47.5v4.6M574.0 60.7h4.6M576.3 58.4v4.6M574.0 67.6h4.6M576.3 65.3v4.6M577.5 64.6h4.6M579.8 62.3v4.6M577.5 29.7h4.6M579.8 27.4v4.6M577.5 25.0h4.6M579.8 22.7v4.6M577.5 56.1h4.6M579.8 53.8v4.6M577.5 60.2h4.6M579.8 57.9v4.6M577.5 27.1h4.6M579.8 24.8v4.6M580.9 44.2h4.6M583.2 41.9v4.6M580.9 46.0h4.6M583.2 43.7v4.6M580.9 50.7h4.6M583.2 48.4v4.6M580.9 46.3h4.6M583.2 44.0v4.6M580.9 34.5h4.6M583.2 32.2v4.6M580.9 34.6h4.6M583.2 32.3v4.6M580.9 56.3h4.6M583.2 54.0v4.6M580.9 43.5h4.6M583.2 41.2v4.6M584.4 49.4h4.6M586.7 47.1v4.6M584.4 39.4h4.6M586.7 37.1v4.6M584.4 55.0h4.6M586.7 52.7v4.6M584.4 43.9h4.6M586.7 41.6v4.6M584.4 24.0h4.6M586.7 21.7v4.6M584.4 41.7h4.6M586.7 39.4v4.6M584.4 46.0h4.6M586.7 43.7v4.6M584.4 30.2h4.6M586.7 27.9v4.6M587.9 37.9h4.6M590.2 35.6v4.6M587.9 51.5h4.6M590.2 49.2v4.6M587.9 31.6h4.6M590.2 29.3v4.6M591.4 35.1h4.6M593.7 32.8v4.6M591.4 24.8h4.6M593.7 22.5v4.6M591.4 32.9h4.6M593.7 30.6v4.6M591.4 34.3h4.6M593.7 32.0v4.6" stroke="#6e6e6e" stroke-opacity="0.5" stroke-width="0.55" fill="none"/>
<path d="M603.6 37.8h4.6M605.9 35.5v4.6M591.4 69.7h4.6M593.7 67.4v4.6M549.6 101.7h4.6M551.9 99.4v4.6" stroke="#e8702a" stroke-opacity="0.7" stroke-width="0.55" fill="none"/>
</g>
<rect x="519.95" y="16.7" width="92.4" height="110.30" fill="none" stroke="#8a8a8a" stroke-width="0.9"/>
<text x="566.15" y="14.5" font-size="6.1" font-weight="bold" text-anchor="middle" fill="#1a1a1a">FCGR3A+ Monocytes</text>
<text x="523.95" y="133.1" font-size="5" font-weight="bold" text-anchor="middle" fill="#3a3a3a">0.00</text>
<text x="544.88" y="133.1" font-size="5" font-weight="bold" text-anchor="middle" fill="#3a3a3a">0.25</text>
<text x="565.80" y="133.1" font-size="5" font-weight="bold" text-anchor="middle" fill="#3a3a3a">0.50</text>
<text x="586.73" y="133.1" font-size="5" font-weight="bold" text-anchor="middle" fill="#3a3a3a">0.75</text>
<text x="607.65" y="133.1" font-size="5" font-weight="bold" text-anchor="middle" fill="#3a3a3a">1.00</text>
<path d="M523.95 127.0v1.6M544.88 127.0v1.6M565.80 127.0v1.6M586.73 127.0v1.6M607.65 127.0v1.6" stroke="#555" stroke-width="0.5" fill="none"/>
<rect x="614.68" y="7.3" width="92.4" height="9.40" fill="#d9d9d9" stroke="#8a8a8a" stroke-width="0.9"/>
<rect x="614.68" y="16.7" width="92.4" height="110.30" fill="#fff"/>
<path d="M629.14 16.7V127.0M614.68 114.99H707.08M650.07 16.7V127.0M614.68 88.36H707.08M670.99 16.7V127.0M614.68 61.74H707.08M691.92 16.7V127.0M614.68 35.11H707.08" stroke="#f4f4f4" stroke-width="0.4" fill="none"/>
<path d="M618.68 16.7V127.0M639.60 16.7V127.0M614.68 101.68H707.08M660.53 16.7V127.0M614.68 75.05H707.08M681.45 16.7V127.0M614.68 48.43H707.08M702.38 16.7V127.0M614.68 21.80H707.08" stroke="#ebebeb" stroke-width="0.6" fill="none"/>
<clipPath id="ca6"><rect x="614.68" y="16.7" width="92.4" height="110.30"/></clipPath>
<g clip-path="url(#ca6)">
<path d="M622.45 123.51L702.38 21.80" stroke="#8c8c8c" stroke-width="0.85" stroke-dasharray="4.2 3.2" fill="none"/>
<path d="M616.4 21.8h4.6M618.7 19.5v4.6M619.9 21.8h4.6M622.2 19.5v4.6M623.4 21.8h4.6M625.7 19.5v4.6M640.8 21.8h4.6M643.1 19.5v4.6M658.2 21.8h4.6M660.5 19.5v4.6M616.4 71.7h4.6M618.7 69.4v4.6M616.4 92.0h4.6M618.7 89.7v4.6M616.4 90.4h4.6M618.7 88.1v4.6M616.4 76.0h4.6M618.7 73.7v4.6M616.4 42.0h4.6M618.7 39.7v4.6M616.4 28.2h4.6M618.7 25.9v4.6M616.4 31.8h4.6M618.7 29.5v4.6M616.4 34.8h4.6M618.7 32.5v4.6M616.4 57.4h4.6M618.7 55.1v4.6M616.4 25.5h4.6M618.7 23.2v4.6M616.4 29.9h4.6M618.7 27.6v4.6M616.4 85.6h4.6M618.7 83.3v4.6M616.4 56.3h4.6M618.7 54.0v4.6M616.4 44.1h4.6M618.7 41.8v4.6M616.4 80.1h4.6M618.7 77.8v4.6M616.4 89.1h4.6M618.7 86.8v4.6M616.4 33.5h4.6M618.7 31.2v4.6M616.4 63.5h4.6M618.7 61.2v4.6M616.4 37.2h4.6M618.7 34.9v4.6M616.4 91.4h4.6M618.7 89.1v4.6M616.4 61.7h4.6M618.7 59.4v4.6M616.4 65.4h4.6M618.7 63.1v4.6M616.4 104.6h4.6M618.7 102.3v4.6M616.4 59.2h4.6M618.7 56.9v4.6M616.4 94.2h4.6M618.7 91.9v4.6M616.4 46.8h4.6M618.7 44.5v4.6M616.4 31.2h4.6M618.7 28.9v4.6M616.4 51.5h4.6M618.7 49.2v4.6M616.4 63.1h4.6M618.7 60.8v4.6M616.4 95.7h4.6M618.7 93.4v4.6M616.4 39.2h4.6M618.7 36.9v4.6M616.4 53.7h4.6M618.7 51.4v4.6M616.4 58.0h4.6M618.7 55.7v4.6M616.4 58.2h4.6M618.7 55.9v4.6M616.4 90.2h4.6M618.7 87.9v4.6M616.4 52.1h4.6M618.7 49.8v4.6M616.4 40.3h4.6M618.7 38.0v4.6M616.4 25.8h4.6M618.7 23.5v4.6M616.4 74.0h4.6M618.7 71.7v4.6M616.4 84.7h4.6M618.7 82.4v4.6M616.4 86.5h4.6M618.7 84.2v4.6M616.4 60.0h4.6M618.7 57.7v4.6M616.4 50.6h4.6M618.7 48.3v4.6M616.4 30.2h4.6M618.7 27.9v4.6M616.4 26.0h4.6M618.7 23.7v4.6M616.4 84.6h4.6M618.7 82.3v4.6M616.4 30.9h4.6M618.7 28.6v4.6M616.4 67.3h4.6M618.7 65.0v4.6M616.4 76.8h4.6M618.7 74.5v4.6M616.4 69.9h4.6M618.7 67.6v4.6M616.4 69.5h4.6M618.7 67.2v4.6M616.4 54.2h4.6M618.7 51.9v4.6M616.4 86.1h4.6M618.7 83.8v4.6M616.4 97.9h4.6M618.7 95.6v4.6M616.4 82.9h4.6M618.7 80.6v4.6M616.4 58.8h4.6M618.7 56.5v4.6M616.4 66.0h4.6M618.7 63.7v4.6M616.4 104.5h4.6M618.7 102.2v4.6M616.4 64.6h4.6M618.7 62.3v4.6M616.4 55.5h4.6M618.7 53.2v4.6M616.4 55.1h4.6M618.7 52.8v4.6M616.4 67.2h4.6M618.7 64.9v4.6M616.4 39.1h4.6M618.7 36.8v4.6M616.4 35.9h4.6M618.7 33.6v4.6M616.4 50.5h4.6M618.7 48.2v4.6M616.4 46.3h4.6M618.7 44.0v4.6M616.4 70.3h4.6M618.7 68.0v4.6M616.4 75.3h4.6M618.7 73.0v4.6M616.4 47.8h4.6M618.7 45.5v4.6M616.4 88.1h4.6M618.7 85.8v4.6M616.4 85.4h4.6M618.7 83.1v4.6M616.4 104.4h4.6M618.7 102.1v4.6M616.4 56.6h4.6M618.7 54.3v4.6M616.4 82.2h4.6M618.7 79.9v4.6M616.4 79.1h4.6M618.7 76.8v4.6M616.4 61.0h4.6M618.7 58.7v4.6M616.4 102.9h4.6M618.7 100.6v4.6M616.4 98.7h4.6M618.7 96.4v4.6M616.4 91.0h4.6M618.7 88.7v4.6M616.4 30.3h4.6M618.7 28.0v4.6M616.4 84.7h4.6M618.7 82.4v4.6M616.4 27.2h4.6M618.7 24.9v4.6M616.4 101.4h4.6M618.7 99.1v4.6M616.4 23.7h4.6M618.7 21.4v4.6M616.4 67.3h4.6M618.7 65.0v4.6M616.4 94.1h4.6M618.7 91.8v4.6M616.4 62.1h4.6M618.7 59.8v4.6M616.4 42.7h4.6M618.7 40.4v4.6M616.4 52.5h4.6M618.7 50.2v4.6M616.4 87.0h4.6M618.7 84.7v4.6M616.4 87.6h4.6M618.7 85.3v4.6M616.4 82.1h4.6M618.7 79.8v4.6M616.4 106.2h4.6M618.7 103.9v4.6M616.4 32.6h4.6M618.7 30.3v4.6M616.4 31.7h4.6M618.7 29.4v4.6M616.4 31.1h4.6M618.7 28.8v4.6M616.4 66.1h4.6M618.7 63.8v4.6M616.4 61.9h4.6M618.7 59.6v4.6M616.4 82.2h4.6M618.7 79.9v4.6M616.4 37.5h4.6M618.7 35.2v4.6M616.4 104.3h4.6M618.7 102.0v4.6M616.4 57.9h4.6M618.7 55.6v4.6M616.4 51.9h4.6M618.7 49.6v4.6M616.4 73.0h4.6M618.7 70.7v4.6M616.4 32.9h4.6M618.7 30.6v4.6M616.4 45.4h4.6M618.7 43.1v4.6M616.4 74.1h4.6M618.7 71.8v4.6M616.4 103.8h4.6M618.7 101.5v4.6M616.4 93.9h4.6M618.7 91.6v4.6M616.4 99.3h4.6M618.7 97.0v4.6M616.4 39.6h4.6M618.7 37.3v4.6M616.4 27.6h4.6M618.7 25.3v4.6M616.4 83.3h4.6M618.7 81.0v4.6M616.4 59.3h4.6M618.7 57.0v4.6M616.4 40.2h4.6M618.7 37.9v4.6M616.4 28.6h4.6M618.7 26.3v4.6M616.4 90.2h4.6M618.7 87.9v4.6M616.4 80.9h4.6M618.7 78.6v4.6M616.4 31.8h4.6M618.7 29.5v4.6M616.4 32.7h4.6M618.7 30.4v4.6M616.4 89.3h4.6M618.7 87.0v4.6M616.4 59.3h4.6M618.7 57.0v4.6M616.4 89.4h4.6M618.7 87.1v4.6M616.4 58.4h4.6M618.7 56.1v4.6M616.4 91.9h4.6M618.7 89.6v4.6M616.4 59.8h4.6M618.7 57.5v4.6M616.4 40.3h4.6M618.7 38.0v4.6M616.4 60.1h4.6M618.7 57.8v4.6M616.4 95.5h4.6M618.7 93.2v4.6M616.4 74.7h4.6M618.7 72.4v4.6M616.4 58.0h4.6M618.7 55.7v4.6M616.4 64.9h4.6M618.7 62.6v4.6M616.4 83.7h4.6M618.7 81.4v4.6M616.4 77.4h4.6M618.7 75.1v4.6M616.4 44.2h4.6M618.7 41.9v4.6M616.4 48.9h4.6M618.7 46.6v4.6M616.4 84.3h4.6M618.7 82.0v4.6M616.4 61.0h4.6M618.7 58.7v4.6M616.4 72.9h4.6M618.7 70.6v4.6M619.9 69.8h4.6M622.2 67.5v4.6M619.9 54.9h4.6M622.2 52.6v4.6M619.9 66.7h4.6M622.2 64.4v4.6M619.9 86.2h4.6M622.2 83.9v4.6M619.9 59.9h4.6M622.2 57.6v4.6M619.9 80.0h4.6M622.2 77.7v4.6M619.9 92.7h4.6M622.2 90.4v4.6M619.9 26.8h4.6M622.2 24.5v4.6M619.9 80.9h4.6M622.2 78.6v4.6M619.9 74.6h4.6M622.2 72.3v4.6M619.9 69.8h4.6M622.2 67.5v4.6M619.9 75.0h4.6M622.2 72.7v4.6M619.9 41.7h4.6M622.2 39.4v4.6M619.9 51.8h4.6M622.2 49.5v4.6M619.9 47.6h4.6M622.2 45.3v4.6M619.9 90.0h4.6M622.2 87.7v4.6M619.9 42.0h4.6M622.2 39.7v4.6M619.9 93.1h4.6M622.2 90.8v4.6M619.9 29.1h4.6M622.2 26.8v4.6M619.9 86.1h4.6M622.2 83.8v4.6M619.9 92.5h4.6M622.2 90.2v4.6M619.9 52.5h4.6M622.2 50.2v4.6M619.9 35.4h4.6M622.2 33.1v4.6M619.9 75.3h4.6M622.2 73.0v4.6M619.9 58.9h4.6M622.2 56.6v4.6M619.9 74.1h4.6M622.2 71.8v4.6M619.9 32.1h4.6M622.2 29.8v4.6M619.9 25.6h4.6M622.2 23.3v4.6M619.9 93.6h4.6M622.2 91.3v4.6M619.9 101.5h4.6M622.2 99.2v4.6M619.9 47.6h4.6M622.2 45.3v4.6M619.9 45.3h4.6M622.2 43.0v4.6M619.9 85.4h4.6M622.2 83.1v4.6M619.9 86.4h4.6M622.2 84.1v4.6M619.9 70.1h4.6M622.2 67.8v4.6M619.9 26.9h4.6M622.2 24.6v4.6M619.9 77.7h4.6M622.2 75.4v4.6M619.9 95.2h4.6M622.2 92.9v4.6M619.9 33.1h4.6M622.2 30.8v4.6M619.9 44.8h4.6M622.2 42.5v4.6M619.9 79.1h4.6M622.2 76.8v4.6M619.9 74.5h4.6M622.2 72.2v4.6M619.9 33.9h4.6M622.2 31.6v4.6M619.9 29.6h4.6M622.2 27.3v4.6M619.9 42.7h4.6M622.2 40.4v4.6M619.9 86.9h4.6M622.2 84.6v4.6M619.9 35.3h4.6M622.2 33.0v4.6M619.9 61.5h4.6M622.2 59.2v4.6M619.9 48.5h4.6M622.2 46.2v4.6M619.9 35.8h4.6M622.2 33.5v4.6M619.9 66.4h4.6M622.2 64.1v4.6M619.9 42.8h4.6M622.2 40.5v4.6M619.9 98.1h4.6M622.2 95.8v4.6M619.9 36.2h4.6M622.2 33.9v4.6M619.9 82.7h4.6M622.2 80.4v4.6M619.9 59.4h4.6M622.2 57.1v4.6M619.9 89.2h4.6M622.2 86.9v4.6M619.9 84.2h4.6M622.2 81.9v4.6M619.9 42.4h4.6M622.2 40.1v4.6M619.9 102.8h4.6M622.2 100.5v4.6M619.9 76.0h4.6M622.2 73.7v4.6M619.9 27.1h4.6M622.2 24.8v4.6M619.9 75.5h4.6M622.2 73.2v4.6M619.9 85.2h4.6M622.2 82.9v4.6M619.9 53.0h4.6M622.2 50.7v4.6M619.9 62.9h4.6M622.2 60.6v4.6M619.9 39.3h4.6M622.2 37.0v4.6M619.9 52.2h4.6M622.2 49.9v4.6M619.9 64.0h4.6M622.2 61.7v4.6M619.9 24.2h4.6M622.2 21.9v4.6M619.9 37.9h4.6M622.2 35.6v4.6M619.9 29.4h4.6M622.2 27.1v4.6M619.9 49.7h4.6M622.2 47.4v4.6M619.9 34.9h4.6M622.2 32.6v4.6M619.9 32.4h4.6M622.2 30.1v4.6M619.9 42.9h4.6M622.2 40.6v4.6M619.9 26.7h4.6M622.2 24.4v4.6M619.9 31.4h4.6M622.2 29.1v4.6M619.9 45.7h4.6M622.2 43.4v4.6M619.9 48.1h4.6M622.2 45.8v4.6M619.9 31.4h4.6M622.2 29.1v4.6M619.9 36.7h4.6M622.2 34.4v4.6M619.9 79.4h4.6M622.2 77.1v4.6M619.9 47.7h4.6M622.2 45.4v4.6M619.9 103.1h4.6M622.2 100.8v4.6M619.9 56.7h4.6M622.2 54.4v4.6M619.9 102.9h4.6M622.2 100.6v4.6M619.9 35.7h4.6M622.2 33.4v4.6M619.9 24.4h4.6M622.2 22.1v4.6M619.9 85.7h4.6M622.2 83.4v4.6M619.9 90.2h4.6M622.2 87.9v4.6M619.9 35.2h4.6M622.2 32.9v4.6M619.9 40.6h4.6M622.2 38.3v4.6M619.9 102.6h4.6M622.2 100.3v4.6M619.9 70.5h4.6M622.2 68.2v4.6M619.9 95.5h4.6M622.2 93.2v4.6M619.9 65.3h4.6M622.2 63.0v4.6M619.9 35.0h4.6M622.2 32.7v4.6M619.9 79.6h4.6M622.2 77.3v4.6M619.9 76.0h4.6M622.2 73.7v4.6M619.9 83.9h4.6M622.2 81.6v4.6M619.9 97.3h4.6M622.2 95.0v4.6M619.9 106.5h4.6M622.2 104.2v4.6M619.9 61.9h4.6M622.2 59.6v4.6M619.9 51.1h4.6M622.2 48.8v4.6M619.9 74.9h4.6M622.2 72.6v4.6M619.9 29.6h4.6M622.2 27.3v4.6M619.9 33.7h4.6M622.2 31.4v4.6M619.9 42.9h4.6M622.2 40.6v4.6M619.9 92.4h4.6M622.2 90.1v4.6M619.9 107.5h4.6M622.2 105.2v4.6M619.9 25.2h4.6M622.2 22.9v4.6M619.9 88.1h4.6M622.2 85.8v4.6M619.9 54.9h4.6M622.2 52.6v4.6M619.9 29.5h4.6M622.2 27.2v4.6M619.9 70.0h4.6M622.2 67.7v4.6M623.4 97.8h4.6M625.7 95.5v4.6M623.4 27.7h4.6M625.7 25.4v4.6M623.4 66.8h4.6M625.7 64.5v4.6M623.4 71.1h4.6M625.7 68.8v4.6M623.4 25.2h4.6M625.7 22.9v4.6M623.4 72.5h4.6M625.7 70.2v4.6M623.4 77.8h4.6M625.7 75.5v4.6M623.4 92.6h4.6M625.7 90.3v4.6M623.4 104.0h4.6M625.7 101.7v4.6M623.4 71.1h4.6M625.7 68.8v4.6M623.4 95.2h4.6M625.7 92.9v4.6M623.4 76.5h4.6M625.7 74.2v4.6M623.4 57.5h4.6M625.7 55.2v4.6M623.4 39.5h4.6M625.7 37.2v4.6M623.4 85.7h4.6M625.7 83.4v4.6M623.4 56.7h4.6M625.7 54.4v4.6M623.4 59.4h4.6M625.7 57.1v4.6M623.4 31.3h4.6M625.7 29.0v4.6M623.4 87.5h4.6M625.7 85.2v4.6M623.4 94.8h4.6M625.7 92.5v4.6M623.4 80.7h4.6M625.7 78.4v4.6M623.4 56.0h4.6M625.7 53.7v4.6M623.4 67.7h4.6M625.7 65.4v4.6M623.4 51.0h4.6M625.7 48.7v4.6M623.4 69.9h4.6M625.7 67.6v4.6M623.4 103.3h4.6M625.7 101.0v4.6M623.4 85.3h4.6M625.7 83.0v4.6M623.4 97.4h4.6M625.7 95.1v4.6M623.4 43.6h4.6M625.7 41.3v4.6M623.4 55.3h4.6M625.7 53.0v4.6M623.4 87.7h4.6M625.7 85.4v4.6M623.4 31.3h4.6M625.7 29.0v4.6M623.4 73.4h4.6M625.7 71.1v4.6M623.4 98.0h4.6M625.7 95.7v4.6M623.4 31.6h4.6M625.7 29.3v4.6M623.4 46.7h4.6M625.7 44.4v4.6M623.4 76.3h4.6M625.7 74.0v4.6M623.4 61.7h4.6M625.7 59.4v4.6M623.4 78.1h4.6M625.7 75.8v4.6M623.4 27.3h4.6M625.7 25.0v4.6M623.4 104.8h4.6M625.7 102.5v4.6M623.4 43.7h4.6M625.7 41.4v4.6M623.4 65.0h4.6M625.7 62.7v4.6M623.4 84.1h4.6M625.7 81.8v4.6M623.4 41.2h4.6M625.7 38.9v4.6M623.4 47.6h4.6M625.7 45.3v4.6M623.4 34.1h4.6M625.7 31.8v4.6M623.4 74.9h4.6M625.7 72.6v4.6M623.4 64.6h4.6M625.7 62.3v4.6M623.4 23.8h4.6M625.7 21.5v4.6M623.4 90.1h4.6M625.7 87.8v4.6M623.4 28.6h4.6M625.7 26.3v4.6M623.4 37.3h4.6M625.7 35.0v4.6M623.4 44.3h4.6M625.7 42.0v4.6M623.4 28.5h4.6M625.7 26.2v4.6M623.4 106.3h4.6M625.7 104.0v4.6M623.4 87.8h4.6M625.7 85.5v4.6M623.4 92.3h4.6M625.7 90.0v4.6M623.4 41.6h4.6M625.7 39.3v4.6M623.4 44.2h4.6M625.7 41.9v4.6M623.4 29.8h4.6M625.7 27.5v4.6M623.4 41.6h4.6M625.7 39.3v4.6M623.4 25.3h4.6M625.7 23.0v4.6M623.4 74.1h4.6M625.7 71.8v4.6M623.4 56.7h4.6M625.7 54.4v4.6M623.4 74.4h4.6M625.7 72.1v4.6M623.4 91.2h4.6M625.7 88.9v4.6M623.4 68.5h4.6M625.7 66.2v4.6M623.4 79.3h4.6M625.7 77.0v4.6M623.4 92.6h4.6M625.7 90.3v4.6M623.4 106.9h4.6M625.7 104.6v4.6M623.4 85.0h4.6M625.7 82.7v4.6M623.4 60.0h4.6M625.7 57.7v4.6M623.4 37.9h4.6M625.7 35.6v4.6M626.8 64.3h4.6M629.1 62.0v4.6M626.8 69.1h4.6M629.1 66.8v4.6M626.8 29.9h4.6M629.1 27.6v4.6M626.8 49.8h4.6M629.1 47.5v4.6M626.8 33.2h4.6M629.1 30.9v4.6M626.8 30.2h4.6M629.1 27.9v4.6M626.8 33.2h4.6M629.1 30.9v4.6M626.8 71.8h4.6M629.1 69.5v4.6M626.8 100.5h4.6M629.1 98.2v4.6M626.8 39.3h4.6M629.1 37.0v4.6M626.8 75.3h4.6M629.1 73.0v4.6M626.8 84.0h4.6M629.1 81.7v4.6M626.8 88.4h4.6M629.1 86.1v4.6M626.8 80.5h4.6M629.1 78.2v4.6M626.8 88.2h4.6M629.1 85.9v4.6M626.8 52.0h4.6M629.1 49.7v4.6M626.8 55.4h4.6M629.1 53.1v4.6M626.8 88.4h4.6M629.1 86.1v4.6M626.8 23.5h4.6M629.1 21.2v4.6M626.8 63.3h4.6M629.1 61.0v4.6M626.8 104.3h4.6M629.1 102.0v4.6M626.8 77.5h4.6M629.1 75.2v4.6M626.8 103.5h4.6M629.1 101.2v4.6M626.8 94.4h4.6M629.1 92.1v4.6M626.8 66.4h4.6M629.1 64.1v4.6M626.8 55.5h4.6M629.1 53.2v4.6M626.8 29.3h4.6M629.1 27.0v4.6M626.8 104.6h4.6M629.1 102.3v4.6M626.8 43.5h4.6M629.1 41.2v4.6M626.8 74.6h4.6M629.1 72.3v4.6M626.8 91.4h4.6M629.1 89.1v4.6M626.8 36.4h4.6M629.1 34.1v4.6M626.8 70.6h4.6M629.1 68.3v4.6M626.8 81.4h4.6M629.1 79.1v4.6M626.8 63.1h4.6M629.1 60.8v4.6M626.8 45.5h4.6M629.1 43.2v4.6M626.8 46.7h4.6M629.1 44.4v4.6M626.8 34.4h4.6M629.1 32.1v4.6M626.8 87.0h4.6M629.1 84.7v4.6M626.8 53.4h4.6M629.1 51.1v4.6M626.8 101.0h4.6M629.1 98.7v4.6M626.8 67.0h4.6M629.1 64.7v4.6M626.8 66.4h4.6M629.1 64.1v4.6M626.8 58.1h4.6M629.1 55.8v4.6M626.8 94.8h4.6M629.1 92.5v4.6M626.8 95.7h4.6M629.1 93.4v4.6M630.3 99.2h4.6M632.6 96.9v4.6M630.3 99.1h4.6M632.6 96.8v4.6M630.3 50.4h4.6M632.6 48.1v4.6M630.3 69.6h4.6M632.6 67.3v4.6M630.3 66.5h4.6M632.6 64.2v4.6M630.3 31.4h4.6M632.6 29.1v4.6M630.3 73.1h4.6M632.6 70.8v4.6M630.3 89.3h4.6M632.6 87.0v4.6M630.3 33.1h4.6M632.6 30.8v4.6M630.3 58.9h4.6M632.6 56.6v4.6M630.3 42.3h4.6M632.6 40.0v4.6M630.3 96.9h4.6M632.6 94.6v4.6M630.3 41.9h4.6M632.6 39.6v4.6M630.3 94.1h4.6M632.6 91.8v4.6M630.3 100.9h4.6M632.6 98.6v4.6M630.3 50.6h4.6M632.6 48.3v4.6M630.3 64.8h4.6M632.6 62.5v4.6M630.3 82.2h4.6M632.6 79.9v4.6M630.3 29.6h4.6M632.6 27.3v4.6M630.3 75.4h4.6M632.6 73.1v4.6M630.3 68.5h4.6M632.6 66.2v4.6M630.3 95.1h4.6M632.6 92.8v4.6M630.3 32.1h4.6M632.6 29.8v4.6M630.3 45.7h4.6M632.6 43.4v4.6M630.3 44.8h4.6M632.6 42.5v4.6M630.3 98.8h4.6M632.6 96.5v4.6M630.3 71.4h4.6M632.6 69.1v4.6M630.3 50.2h4.6M632.6 47.9v4.6M630.3 34.8h4.6M632.6 32.5v4.6M633.8 57.0h4.6M636.1 54.7v4.6M633.8 30.0h4.6M636.1 27.7v4.6M633.8 61.3h4.6M636.1 59.0v4.6M633.8 27.8h4.6M636.1 25.5v4.6M633.8 82.7h4.6M636.1 80.4v4.6M633.8 31.2h4.6M636.1 28.9v4.6M633.8 66.0h4.6M636.1 63.7v4.6M633.8 37.6h4.6M636.1 35.3v4.6M633.8 63.5h4.6M636.1 61.2v4.6M633.8 77.1h4.6M636.1 74.8v4.6M633.8 62.5h4.6M636.1 60.2v4.6M633.8 55.1h4.6M636.1 52.8v4.6M633.8 41.9h4.6M636.1 39.6v4.6M633.8 73.4h4.6M636.1 71.1v4.6M637.3 88.2h4.6M639.6 85.9v4.6M637.3 82.3h4.6M639.6 80.0v4.6M637.3 65.0h4.6M639.6 62.7v4.6M637.3 67.1h4.6M639.6 64.8v4.6M637.3 26.6h4.6M639.6 24.3v4.6M637.3 62.4h4.6M639.6 60.1v4.6M637.3 68.8h4.6M639.6 66.5v4.6M637.3 30.6h4.6M639.6 28.3v4.6M640.8 35.2h4.6M643.1 32.9v4.6M640.8 68.1h4.6M643.1 65.8v4.6M640.8 30.6h4.6M643.1 28.3v4.6M640.8 44.9h4.6M643.1 42.6v4.6M644.3 65.0h4.6M646.6 62.7v4.6M644.3 46.5h4.6M646.6 44.2v4.6M644.3 27.1h4.6M646.6 24.8v4.6M647.8 38.8h4.6M650.1 36.5v4.6M647.8 51.3h4.6M650.1 49.0v4.6M689.6 59.1h4.6M691.9 56.8v4.6M640.8 80.4h4.6M643.1 78.1v4.6M644.3 85.7h4.6M646.6 83.4v4.6M647.8 91.0h4.6M650.1 88.7v4.6M651.3 75.1h4.6M653.6 72.8v4.6" stroke="#68c468" stroke-opacity="0.5" stroke-width="0.55" fill="none"/>
<path d="M616.4 76.5h4.6M618.7 74.2v4.6M616.4 70.2h4.6M618.7 67.9v4.6M616.4 74.0h4.6M618.7 71.7v4.6M616.4 67.8h4.6M618.7 65.5v4.6M619.9 95.9h4.6M622.2 93.6v4.6M619.9 89.6h4.6M622.2 87.3v4.6M619.9 54.8h4.6M622.2 52.5v4.6M619.9 86.7h4.6M622.2 84.4v4.6M619.9 43.4h4.6M622.2 41.1v4.6M619.9 75.8h4.6M622.2 73.5v4.6M619.9 37.0h4.6M622.2 34.7v4.6M619.9 25.5h4.6M622.2 23.2v4.6M623.4 52.2h4.6M625.7 49.9v4.6M623.4 45.0h4.6M625.7 42.7v4.6M623.4 96.4h4.6M625.7 94.1v4.6M626.8 42.3h4.6M629.1 40.0v4.6M626.8 89.1h4.6M629.1 86.8v4.6M626.8 58.9h4.6M629.1 56.6v4.6M630.3 53.9h4.6M632.6 51.6v4.6M630.3 101.1h4.6M632.6 98.8v4.6M637.3 89.5h4.6M639.6 87.2v4.6" stroke="#6e6e6e" stroke-opacity="0.5" stroke-width="0.55" fill="none"/>
<path d="M626.8 21.8h4.6M629.1 19.5v4.6M630.3 21.8h4.6M632.6 19.5v4.6M633.8 21.8h4.6M636.1 19.5v4.6M637.3 21.8h4.6M639.6 19.5v4.6M640.8 21.8h4.6M643.1 19.5v4.6M644.3 21.8h4.6M646.6 19.5v4.6M647.8 21.8h4.6M650.1 19.5v4.6M651.3 21.8h4.6M653.6 19.5v4.6M654.7 21.8h4.6M657.0 19.5v4.6M658.2 21.8h4.6M660.5 19.5v4.6M661.7 21.8h4.6M664.0 19.5v4.6M665.2 21.8h4.6M667.5 19.5v4.6M668.7 21.8h4.6M671.0 19.5v4.6M672.2 21.8h4.6M674.5 19.5v4.6M675.7 21.8h4.6M678.0 19.5v4.6M679.2 21.8h4.6M681.5 19.5v4.6M700.1 21.8h4.6M702.4 19.5v4.6M616.4 54.5h4.6M618.7 52.2v4.6M616.4 34.1h4.6M618.7 31.8v4.6M616.4 65.0h4.6M618.7 62.7v4.6M616.4 51.2h4.6M618.7 48.9v4.6M616.4 44.0h4.6M618.7 41.7v4.6M616.4 26.3h4.6M618.7 24.0v4.6M616.4 86.1h4.6M618.7 83.8v4.6M619.9 81.6h4.6M622.2 79.3v4.6M619.9 57.4h4.6M622.2 55.1v4.6M619.9 69.6h4.6M622.2 67.3v4.6M619.9 47.9h4.6M622.2 45.6v4.6M619.9 59.3h4.6M622.2 57.0v4.6M619.9 80.3h4.6M622.2 78.0v4.6M623.4 47.2h4.6M625.7 44.9v4.6M623.4 46.0h4.6M625.7 43.7v4.6M623.4 84.7h4.6M625.7 82.4v4.6M623.4 37.3h4.6M625.7 35.0v4.6M623.4 51.0h4.6M625.7 48.7v4.6M623.4 74.3h4.6M625.7 72.0v4.6M623.4 26.2h4.6M625.7 23.9v4.6M623.4 26.9h4.6M625.7 24.6v4.6M626.8 38.2h4.6M629.1 35.9v4.6M626.8 96.7h4.6M629.1 94.4v4.6M626.8 25.8h4.6M629.1 23.5v4.6M626.8 28.2h4.6M629.1 25.9v4.6M626.8 86.1h4.6M629.1 83.8v4.6M626.8 75.5h4.6M629.1 73.2v4.6M630.3 96.0h4.6M632.6 93.7v4.6M633.8 84.7h4.6M636.1 82.4v4.6M633.8 58.6h4.6M636.1 56.3v4.6M633.8 34.7h4.6M636.1 32.4v4.6M633.8 91.1h4.6M636.1 88.8v4.6M637.3 67.3h4.6M639.6 65.0v4.6M640.8 84.2h4.6M643.1 81.9v4.6M623.4 63.7h4.6M625.7 61.4v4.6M623.4 89.5h4.6M625.7 87.2v4.6M623.4 32.5h4.6M625.7 30.2v4.6M623.4 50.1h4.6M625.7 47.8v4.6M623.4 35.5h4.6M625.7 33.2v4.6M626.8 64.1h4.6M629.1 61.8v4.6M626.8 83.2h4.6M629.1 80.9v4.6M626.8 59.7h4.6M629.1 57.4v4.6M626.8 58.7h4.6M629.1 56.4v4.6M626.8 58.8h4.6M629.1 56.5v4.6M626.8 95.7h4.6M629.1 93.4v4.6M626.8 96.8h4.6M629.1 94.5v4.6M630.3 42.2h4.6M632.6 39.9v4.6M630.3 38.0h4.6M632.6 35.7v4.6M630.3 43.3h4.6M632.6 41.0v4.6M630.3 44.5h4.6M632.6 42.2v4.6M630.3 79.0h4.6M632.6 76.7v4.6M630.3 72.0h4.6M632.6 69.7v4.6M630.3 66.6h4.6M632.6 64.3v4.6M630.3 28.6h4.6M632.6 26.3v4.6M633.8 55.8h4.6M636.1 53.5v4.6M633.8 87.7h4.6M636.1 85.4v4.6M633.8 48.3h4.6M636.1 46.0v4.6M633.8 30.8h4.6M636.1 28.5v4.6M633.8 35.9h4.6M636.1 33.6v4.6M633.8 32.5h4.6M636.1 30.2v4.6M633.8 79.7h4.6M636.1 77.4v4.6M633.8 63.6h4.6M636.1 61.3v4.6M637.3 39.0h4.6M639.6 36.7v4.6M637.3 67.6h4.6M639.6 65.3v4.6M637.3 67.9h4.6M639.6 65.6v4.6M637.3 56.2h4.6M639.6 53.9v4.6M637.3 94.6h4.6M639.6 92.3v4.6M637.3 26.6h4.6M639.6 24.3v4.6M637.3 47.7h4.6M639.6 45.4v4.6M640.8 38.1h4.6M643.1 35.8v4.6M640.8 80.7h4.6M643.1 78.4v4.6M640.8 79.8h4.6M643.1 77.5v4.6M640.8 30.6h4.6M643.1 28.3v4.6M640.8 61.5h4.6M643.1 59.2v4.6M640.8 74.9h4.6M643.1 72.6v4.6M644.3 69.9h4.6M646.6 67.6v4.6M644.3 51.7h4.6M646.6 49.4v4.6M644.3 68.6h4.6M646.6 66.3v4.6M644.3 86.1h4.6M646.6 83.8v4.6M644.3 32.8h4.6M646.6 30.5v4.6M647.8 60.0h4.6M650.1 57.7v4.6M647.8 77.4h4.6M650.1 75.1v4.6M647.8 29.0h4.6M650.1 26.7v4.6M647.8 82.2h4.6M650.1 79.9v4.6M651.3 47.6h4.6M653.6 45.3v4.6M651.3 41.7h4.6M653.6 39.4v4.6M651.3 49.8h4.6M653.6 47.5v4.6M654.7 28.8h4.6M657.0 26.5v4.6M654.7 51.9h4.6M657.0 49.6v4.6M654.7 32.5h4.6M657.0 30.2v4.6M658.2 66.6h4.6M660.5 64.3v4.6M658.2 38.6h4.6M660.5 36.3v4.6M661.7 38.1h4.6M664.0 35.8v4.6M619.9 115.5h4.6M622.2 113.2v4.6M623.4 115.5h4.6M625.7 113.2v4.6M630.3 119.8h4.6M632.6 117.5v4.6M626.8 107.0h4.6M629.1 104.7v4.6M633.8 98.5h4.6M636.1 96.2v4.6M668.7 32.5h4.6M671.0 30.2v4.6M661.7 51.6h4.6M664.0 49.3v4.6M658.2 69.7h4.6M660.5 67.4v4.6" stroke="#fdb77a" stroke-opacity="0.6" stroke-width="0.55" fill="none"/>
<path d="M682.6 21.8h4.6M684.9 19.5v4.6M686.1 21.8h4.6M688.4 19.5v4.6M689.6 21.8h4.6M691.9 19.5v4.6M693.1 21.8h4.6M695.4 19.5v4.6M696.6 21.8h4.6M698.9 19.5v4.6M675.7 30.3h4.6M678.0 28.0v4.6M686.1 37.8h4.6M688.4 35.5v4.6M665.2 43.1h4.6M667.5 40.8v4.6M679.2 45.2h4.6M681.5 42.9v4.6M661.7 37.8h4.6M664.0 35.5v4.6M651.3 34.6h4.6M653.6 32.3v4.6M672.2 51.6h4.6M674.5 49.3v4.6M675.7 53.8h4.6M678.0 51.5v4.6M658.2 61.2h4.6M660.5 58.9v4.6M647.8 64.4h4.6M650.1 62.1v4.6M665.2 69.7h4.6M667.5 67.4v4.6M679.2 69.7h4.6M681.5 67.4v4.6M651.3 98.5h4.6M653.6 96.2v4.6M637.3 59.1h4.6M639.6 56.8v4.6M644.3 59.1h4.6M646.6 56.8v4.6M647.8 96.4h4.6M650.1 94.1v4.6M633.8 75.1h4.6M636.1 72.8v4.6" stroke="#e8702a" stroke-opacity="0.7" stroke-width="0.55" fill="none"/>
</g>
<rect x="614.68" y="16.7" width="92.4" height="110.30" fill="none" stroke="#8a8a8a" stroke-width="0.9"/>
<text x="660.88" y="14.5" font-size="6.1" font-weight="bold" text-anchor="middle" fill="#1a1a1a">NK cells</text>
<text x="618.68" y="133.1" font-size="5" font-weight="bold" text-anchor="middle" fill="#3a3a3a">0.00</text>
<text x="639.60" y="133.1" font-size="5" font-weight="bold" text-anchor="middle" fill="#3a3a3a">0.25</text>
<text x="660.53" y="133.1" font-size="5" font-weight="bold" text-anchor="middle" fill="#3a3a3a">0.50</text>
<text x="681.45" y="133.1" font-size="5" font-weight="bold" text-anchor="middle" fill="#3a3a3a">0.75</text>
<text x="702.38" y="133.1" font-size="5" font-weight="bold" text-anchor="middle" fill="#3a3a3a">1.00</text>
<path d="M618.68 127.0v1.6M639.60 127.0v1.6M660.53 127.0v1.6M681.45 127.0v1.6M702.38 127.0v1.6" stroke="#555" stroke-width="0.5" fill="none"/>
<text x="43.70" y="103.48" font-size="5" font-weight="bold" text-anchor="end" fill="#3a3a3a">0.25</text>
<text x="43.70" y="76.85" font-size="5" font-weight="bold" text-anchor="end" fill="#3a3a3a">0.50</text>
<text x="43.70" y="50.23" font-size="5" font-weight="bold" text-anchor="end" fill="#3a3a3a">0.75</text>
<text x="43.70" y="23.60" font-size="5" font-weight="bold" text-anchor="end" fill="#3a3a3a">1.00</text>
<path d="M44.70 101.68h1.6M44.70 75.05h1.6M44.70 48.43h1.6M44.70 21.80h1.6" stroke="#555" stroke-width="0.5" fill="none"/>
<text x="24.9" y="71.8" font-size="6.1" font-weight="bold" text-anchor="middle" fill="#000" transform="rotate(-90 24.9 71.8)">Estimated probability for CTS genes</text>
<text x="32.0" y="71.8" font-size="6.1" font-weight="bold" text-anchor="middle" fill="#000" transform="rotate(-90 32.0 71.8)">(proposed method)</text>
<text x="376.2" y="139.6" font-size="6.1" font-weight="bold" text-anchor="middle" fill="#000">Proportion of samples with fdr &lt; 0.05 (Wilcoxon rank sum test)</text>
<text x="1.3" y="9.0" font-size="13.2" font-weight="bold" text-anchor="start" fill="#000">a</text>
<text x="307.2" y="153.8" font-size="6.1" font-weight="bold" text-anchor="start" fill="#000">LFC</text>
<path d="M323.1 151.6h4.8M325.5 149.2v4.8" stroke="#6e6e6e" stroke-opacity="0.4" stroke-width="0.6" fill="none"/>
<path d="M353.8 151.6h4.8M356.2 149.2v4.8" stroke="#68c468" stroke-opacity="0.4" stroke-width="0.6" fill="none"/>
<path d="M390.1 151.6h4.8M392.5 149.2v4.8" stroke="#fdb77a" stroke-opacity="0.48" stroke-width="0.6" fill="none"/>
<path d="M420.4 151.6h4.8M422.8 149.2v4.8" stroke="#e8702a" stroke-opacity="0.5599999999999999" stroke-width="0.6" fill="none"/>
<text x="332.2" y="153.8" font-size="6.1" font-weight="bold" text-anchor="start" fill="#000">(0,0.3]</text>
<text x="362.8" y="153.8" font-size="6.1" font-weight="bold" text-anchor="start" fill="#000">(0.3,0.6]</text>
<text x="399.2" y="153.8" font-size="6.1" font-weight="bold" text-anchor="start" fill="#000">(0.6,1]</text>
<text x="430" y="153.8" font-size="6.1" font-weight="bold" text-anchor="start" fill="#000">(1,Inf]</text>
<path d="M250.1 23L253.8 27.8" stroke="#333" stroke-width="0.5" fill="none"/>
<rect x="246.50" y="28.30" width="21" height="5.8" rx="1" fill="#fff" stroke="#555" stroke-width="0.5"/>
<text x="257.00" y="32.90" font-size="4.8" font-weight="normal" text-anchor="middle" fill="#222">NFATC1</text>
<path d="M306 92.2L307.3 103.3" stroke="#333" stroke-width="0.5" fill="none"/>
<rect x="297.45" y="103.30" width="19.5" height="5.8" rx="1" fill="#fff" stroke="#555" stroke-width="0.5"/>
<text x="307.20" y="107.90" font-size="4.8" font-weight="normal" text-anchor="middle" fill="#222">CXCR4</text>
<path d="" stroke="#333" stroke-width="0.5" fill="none"/>
<rect x="202.55" y="110.40" width="20.5" height="5.8" rx="1" fill="#fff" stroke="#555" stroke-width="0.5"/>
<text x="212.80" y="115.00" font-size="4.8" font-weight="normal" text-anchor="middle" fill="#222">EIF4A1</text>
<text x="1.3" y="177.6" font-size="13.2" font-weight="bold" text-anchor="start" fill="#000">b</text>
<text x="34.0" y="167.8" font-size="9.4" font-weight="bold" text-anchor="start" fill="#000">NFATC1</text>
<text x="26.2" y="231.85" font-size="7.7" font-weight="bold" text-anchor="middle" fill="#000" transform="rotate(-90 26.2 231.85)">log(10k+1)</text>
<text x="370.7" y="289.50" font-size="7.7" font-weight="bold" text-anchor="middle" fill="#000">Samples</text>
<text x="31.60" y="278.60" font-size="5.2" font-weight="normal" text-anchor="end" fill="#333">0</text>
<text x="31.60" y="254.30" font-size="5.2" font-weight="normal" text-anchor="end" fill="#333">1</text>
<text x="31.60" y="230.00" font-size="5.2" font-weight="normal" text-anchor="end" fill="#333">2</text>
<text x="31.60" y="205.70" font-size="5.2" font-weight="normal" text-anchor="end" fill="#333">3</text>
<path d="M32.60 276.70h1.6M32.60 252.40h1.6M32.60 228.10h1.6M32.60 203.80h1.6" stroke="#555" stroke-width="0.5" fill="none"/>
<rect x="34.20" y="172.5" width="94.2" height="10.00" fill="#d9d9d9" stroke="#8a8a8a" stroke-width="0.9"/>
<rect x="34.20" y="182.5" width="94.2" height="98.70" fill="#fff"/>
<path d="M34.20 264.55H128.40M34.20 240.25H128.40M34.20 215.95H128.40M34.20 191.65H128.40" stroke="#f4f4f4" stroke-width="0.4" fill="none"/>
<path d="M34.20 276.70H128.40M34.20 252.40H128.40M34.20 228.10H128.40M34.20 203.80H128.40M36.54 182.5V281.2M40.43 182.5V281.2M44.32 182.5V281.2M48.21 182.5V281.2M52.11 182.5V281.2M56.00 182.5V281.2M59.89 182.5V281.2M63.78 182.5V281.2M67.68 182.5V281.2M71.57 182.5V281.2M75.46 182.5V281.2M79.35 182.5V281.2M83.25 182.5V281.2M87.14 182.5V281.2M91.03 182.5V281.2M94.92 182.5V281.2M98.82 182.5V281.2M102.71 182.5V281.2M106.60 182.5V281.2M110.49 182.5V281.2M114.39 182.5V281.2M118.28 182.5V281.2M122.17 182.5V281.2M126.06 182.5V281.2" stroke="#ebebeb" stroke-width="0.6" fill="none"/>
<clipPath id="cb00"><rect x="34.20" y="182.5" width="94.2" height="98.70"/></clipPath>
<g clip-path="url(#cb00)">
<path d="M35.13 276.70h2.80M39.03 276.70h2.80M42.92 276.70h2.80M46.81 276.70h2.80M50.70 276.70h2.80M54.60 276.70h2.80M58.49 276.70h2.80M62.38 276.70h2.80M66.27 276.70h2.80M70.17 276.70h2.80M74.06 276.70h2.80M77.95 276.70h2.80M81.84 276.70h2.80M85.74 276.70h2.80M89.63 276.70h2.80M93.52 276.70h2.80M97.42 276.70h2.80M101.31 276.70h2.80M105.20 276.70h2.80M109.09 276.70h2.80M112.99 276.70h2.80M116.88 276.70h2.80M120.77 276.70h2.80M124.66 276.70h2.80" stroke="#858585" stroke-width="1.9" fill="none"/>
<g fill="#000"><circle cx="36.54" cy="217.89" r="0.78"/><circle cx="36.54" cy="222.27" r="0.78"/><circle cx="36.54" cy="229.07" r="0.78"/><circle cx="36.54" cy="237.33" r="0.78"/><circle cx="36.54" cy="238.55" r="0.78"/><circle cx="40.43" cy="214.98" r="0.78"/><circle cx="40.43" cy="224.94" r="0.78"/><circle cx="40.43" cy="227.37" r="0.78"/><circle cx="44.32" cy="210.36" r="0.78"/><circle cx="44.32" cy="214.73" r="0.78"/><circle cx="44.32" cy="216.19" r="0.78"/><circle cx="44.32" cy="217.89" r="0.78"/><circle cx="44.32" cy="219.35" r="0.78"/><circle cx="44.32" cy="220.81" r="0.78"/><circle cx="44.32" cy="226.88" r="0.78"/><circle cx="44.32" cy="231.26" r="0.78"/><circle cx="44.32" cy="236.36" r="0.78"/><circle cx="44.32" cy="240.98" r="0.78"/><circle cx="48.21" cy="210.36" r="0.78"/><circle cx="48.21" cy="212.31" r="0.78"/><circle cx="48.21" cy="217.41" r="0.78"/><circle cx="48.21" cy="223.24" r="0.78"/><circle cx="48.21" cy="228.83" r="0.78"/><circle cx="48.21" cy="232.23" r="0.78"/><circle cx="52.11" cy="217.16" r="0.78"/><circle cx="52.11" cy="222.27" r="0.78"/><circle cx="52.11" cy="223.48" r="0.78"/><circle cx="59.89" cy="221.78" r="0.78"/><circle cx="59.89" cy="233.93" r="0.78"/><circle cx="63.78" cy="220.08" r="0.78"/><circle cx="63.78" cy="220.81" r="0.78"/><circle cx="67.68" cy="202.10" r="0.78"/><circle cx="67.68" cy="206.23" r="0.78"/><circle cx="71.57" cy="200.15" r="0.78"/><circle cx="71.57" cy="215.95" r="0.78"/><circle cx="71.57" cy="222.75" r="0.78"/><circle cx="83.25" cy="208.42" r="0.78"/><circle cx="83.25" cy="210.85" r="0.78"/><circle cx="83.25" cy="215.95" r="0.78"/><circle cx="83.25" cy="224.70" r="0.78"/><circle cx="87.14" cy="190.92" r="0.78"/><circle cx="91.03" cy="199.43" r="0.78"/><circle cx="91.03" cy="205.26" r="0.78"/><circle cx="91.03" cy="215.95" r="0.78"/><circle cx="91.03" cy="221.54" r="0.78"/><circle cx="91.03" cy="222.51" r="0.78"/><circle cx="91.03" cy="233.93" r="0.78"/><circle cx="94.92" cy="204.77" r="0.78"/><circle cx="94.92" cy="223.24" r="0.78"/><circle cx="94.92" cy="227.37" r="0.78"/><circle cx="94.92" cy="240.98" r="0.78"/><circle cx="98.82" cy="204.29" r="0.78"/><circle cx="102.71" cy="205.74" r="0.78"/><circle cx="102.71" cy="213.28" r="0.78"/><circle cx="102.71" cy="214.73" r="0.78"/><circle cx="102.71" cy="224.94" r="0.78"/><circle cx="102.71" cy="226.40" r="0.78"/><circle cx="102.71" cy="227.86" r="0.78"/><circle cx="102.71" cy="229.07" r="0.78"/><circle cx="102.71" cy="237.82" r="0.78"/><circle cx="106.60" cy="215.71" r="0.78"/><circle cx="106.60" cy="227.86" r="0.78"/><circle cx="106.60" cy="231.99" r="0.78"/><circle cx="106.60" cy="241.95" r="0.78"/><circle cx="110.49" cy="208.66" r="0.78"/><circle cx="110.49" cy="217.41" r="0.78"/><circle cx="110.49" cy="219.11" r="0.78"/><circle cx="110.49" cy="220.81" r="0.78"/><circle cx="110.49" cy="222.51" r="0.78"/><circle cx="110.49" cy="224.94" r="0.78"/><circle cx="110.49" cy="227.37" r="0.78"/><circle cx="110.49" cy="230.77" r="0.78"/><circle cx="110.49" cy="235.63" r="0.78"/><circle cx="110.49" cy="238.06" r="0.78"/><circle cx="110.49" cy="240.74" r="0.78"/><circle cx="110.49" cy="242.92" r="0.78"/><circle cx="110.49" cy="253.86" r="0.78"/><circle cx="114.39" cy="223.24" r="0.78"/><circle cx="114.39" cy="226.64" r="0.78"/><circle cx="114.39" cy="229.31" r="0.78"/><circle cx="114.39" cy="234.42" r="0.78"/><circle cx="114.39" cy="235.63" r="0.78"/><circle cx="114.39" cy="240.98" r="0.78"/><circle cx="114.39" cy="252.40" r="0.78"/><circle cx="118.28" cy="207.69" r="0.78"/><circle cx="118.28" cy="211.82" r="0.78"/><circle cx="118.28" cy="215.95" r="0.78"/><circle cx="118.28" cy="247.05" r="0.78"/><circle cx="122.17" cy="207.20" r="0.78"/><circle cx="122.17" cy="211.82" r="0.78"/><circle cx="122.17" cy="219.84" r="0.78"/><circle cx="126.06" cy="207.69" r="0.78"/><circle cx="126.06" cy="209.63" r="0.78"/><circle cx="126.06" cy="210.85" r="0.78"/><circle cx="126.06" cy="212.31" r="0.78"/><circle cx="126.06" cy="224.70" r="0.78"/></g>
</g>
<rect x="34.20" y="182.5" width="94.2" height="98.70" fill="none" stroke="#8a8a8a" stroke-width="0.9"/>
<text x="81.30" y="179.90" font-size="6.9" font-weight="bold" text-anchor="middle" fill="#1a1a1a">B cells</text>
<rect x="130.67" y="172.5" width="94.2" height="10.00" fill="#d9d9d9" stroke="#8a8a8a" stroke-width="0.9"/>
<rect x="130.67" y="182.5" width="94.2" height="98.70" fill="#fff"/>
<path d="M130.67 264.55H224.87M130.67 240.25H224.87M130.67 215.95H224.87M130.67 191.65H224.87" stroke="#f4f4f4" stroke-width="0.4" fill="none"/>
<path d="M130.67 276.70H224.87M130.67 252.40H224.87M130.67 228.10H224.87M130.67 203.80H224.87M133.01 182.5V281.2M136.90 182.5V281.2M140.79 182.5V281.2M144.68 182.5V281.2M148.58 182.5V281.2M152.47 182.5V281.2M156.36 182.5V281.2M160.25 182.5V281.2M164.15 182.5V281.2M168.04 182.5V281.2M171.93 182.5V281.2M175.82 182.5V281.2M179.72 182.5V281.2M183.61 182.5V281.2M187.50 182.5V281.2M191.39 182.5V281.2M195.29 182.5V281.2M199.18 182.5V281.2M203.07 182.5V281.2M206.96 182.5V281.2M210.86 182.5V281.2M214.75 182.5V281.2M218.64 182.5V281.2M222.53 182.5V281.2" stroke="#ebebeb" stroke-width="0.6" fill="none"/>
<clipPath id="cb01"><rect x="130.67" y="182.5" width="94.2" height="98.70"/></clipPath>
<g clip-path="url(#cb01)">
<path d="M131.60 276.70h2.80M135.50 276.70h2.80M139.39 276.70h2.80M143.28 276.70h2.80M147.17 276.70h2.80M151.07 276.70h2.80M154.96 276.70h2.80M158.85 276.70h2.80M162.74 276.70h2.80M166.64 276.70h2.80M170.53 276.70h2.80M174.42 276.70h2.80M178.31 276.70h2.80M182.21 276.70h2.80M186.10 276.70h2.80M189.99 276.70h2.80M193.89 276.70h2.80M197.78 276.70h2.80M201.67 276.70h2.80M205.56 276.70h2.80M209.46 276.70h2.80M213.35 276.70h2.80M217.24 276.70h2.80M221.13 276.70h2.80" stroke="#858585" stroke-width="1.9" fill="none"/>
<g fill="#000"><circle cx="133.01" cy="244.14" r="0.78"/><circle cx="133.01" cy="245.35" r="0.78"/><circle cx="133.01" cy="246.57" r="0.78"/><circle cx="136.90" cy="244.14" r="0.78"/><circle cx="136.90" cy="246.57" r="0.78"/><circle cx="140.79" cy="209.15" r="0.78"/><circle cx="140.79" cy="219.11" r="0.78"/><circle cx="140.79" cy="220.32" r="0.78"/><circle cx="140.79" cy="235.88" r="0.78"/><circle cx="140.79" cy="237.33" r="0.78"/><circle cx="140.79" cy="238.55" r="0.78"/><circle cx="140.79" cy="239.76" r="0.78"/><circle cx="140.79" cy="240.98" r="0.78"/><circle cx="140.79" cy="242.19" r="0.78"/><circle cx="140.79" cy="243.41" r="0.78"/><circle cx="140.79" cy="244.87" r="0.78"/><circle cx="140.79" cy="249.97" r="0.78"/><circle cx="140.79" cy="250.94" r="0.78"/><circle cx="144.68" cy="220.81" r="0.78"/><circle cx="144.68" cy="226.64" r="0.78"/><circle cx="144.68" cy="227.86" r="0.78"/><circle cx="144.68" cy="231.02" r="0.78"/><circle cx="144.68" cy="233.93" r="0.78"/><circle cx="144.68" cy="240.98" r="0.78"/><circle cx="144.68" cy="250.46" r="0.78"/><circle cx="148.58" cy="219.35" r="0.78"/><circle cx="148.58" cy="225.91" r="0.78"/><circle cx="148.58" cy="232.96" r="0.78"/><circle cx="148.58" cy="235.88" r="0.78"/><circle cx="148.58" cy="241.46" r="0.78"/><circle cx="152.47" cy="228.34" r="0.78"/><circle cx="152.47" cy="230.29" r="0.78"/><circle cx="152.47" cy="232.23" r="0.78"/><circle cx="152.47" cy="237.33" r="0.78"/><circle cx="160.25" cy="209.88" r="0.78"/><circle cx="160.25" cy="243.41" r="0.78"/><circle cx="164.15" cy="217.16" r="0.78"/><circle cx="164.15" cy="218.38" r="0.78"/><circle cx="164.15" cy="224.94" r="0.78"/><circle cx="168.04" cy="202.83" r="0.78"/><circle cx="168.04" cy="233.93" r="0.78"/><circle cx="168.04" cy="236.60" r="0.78"/><circle cx="168.04" cy="237.82" r="0.78"/><circle cx="168.04" cy="243.41" r="0.78"/><circle cx="168.04" cy="244.87" r="0.78"/><circle cx="171.93" cy="241.95" r="0.78"/><circle cx="179.72" cy="225.43" r="0.78"/><circle cx="183.61" cy="208.17" r="0.78"/><circle cx="183.61" cy="210.36" r="0.78"/><circle cx="183.61" cy="218.38" r="0.78"/><circle cx="183.61" cy="229.80" r="0.78"/><circle cx="187.50" cy="223.73" r="0.78"/><circle cx="187.50" cy="224.70" r="0.78"/><circle cx="187.50" cy="236.36" r="0.78"/><circle cx="187.50" cy="244.14" r="0.78"/><circle cx="187.50" cy="245.35" r="0.78"/><circle cx="191.39" cy="229.80" r="0.78"/><circle cx="195.29" cy="221.78" r="0.78"/><circle cx="199.18" cy="235.88" r="0.78"/><circle cx="199.18" cy="238.55" r="0.78"/><circle cx="199.18" cy="239.76" r="0.78"/><circle cx="199.18" cy="240.98" r="0.78"/><circle cx="203.07" cy="227.37" r="0.78"/><circle cx="203.07" cy="239.03" r="0.78"/><circle cx="203.07" cy="243.41" r="0.78"/><circle cx="203.07" cy="248.03" r="0.78"/><circle cx="206.96" cy="227.86" r="0.78"/><circle cx="206.96" cy="232.47" r="0.78"/><circle cx="206.96" cy="238.55" r="0.78"/><circle cx="206.96" cy="240.01" r="0.78"/><circle cx="206.96" cy="243.41" r="0.78"/><circle cx="206.96" cy="246.32" r="0.78"/><circle cx="210.86" cy="223.97" r="0.78"/><circle cx="210.86" cy="225.43" r="0.78"/><circle cx="210.86" cy="231.02" r="0.78"/><circle cx="210.86" cy="238.06" r="0.78"/><circle cx="210.86" cy="239.52" r="0.78"/><circle cx="214.75" cy="225.43" r="0.78"/><circle cx="214.75" cy="231.26" r="0.78"/></g>
</g>
<rect x="130.67" y="182.5" width="94.2" height="98.70" fill="none" stroke="#8a8a8a" stroke-width="0.9"/>
<text x="177.77" y="179.90" font-size="6.9" font-weight="bold" text-anchor="middle" fill="#1a1a1a">CD14+ Monocytes</text>
<rect x="227.14" y="172.5" width="94.2" height="10.00" fill="#d9d9d9" stroke="#8a8a8a" stroke-width="0.9"/>
<rect x="227.14" y="182.5" width="94.2" height="98.70" fill="#fff"/>
<path d="M227.14 264.55H321.34M227.14 240.25H321.34M227.14 215.95H321.34M227.14 191.65H321.34" stroke="#f4f4f4" stroke-width="0.4" fill="none"/>
<path d="M227.14 276.70H321.34M227.14 252.40H321.34M227.14 228.10H321.34M227.14 203.80H321.34M229.48 182.5V281.2M233.37 182.5V281.2M237.26 182.5V281.2M241.15 182.5V281.2M245.05 182.5V281.2M248.94 182.5V281.2M252.83 182.5V281.2M256.72 182.5V281.2M260.62 182.5V281.2M264.51 182.5V281.2M268.40 182.5V281.2M272.29 182.5V281.2M276.19 182.5V281.2M280.08 182.5V281.2M283.97 182.5V281.2M287.86 182.5V281.2M291.76 182.5V281.2M295.65 182.5V281.2M299.54 182.5V281.2M303.43 182.5V281.2M307.33 182.5V281.2M311.22 182.5V281.2M315.11 182.5V281.2M319.00 182.5V281.2" stroke="#ebebeb" stroke-width="0.6" fill="none"/>
<clipPath id="cb02"><rect x="227.14" y="182.5" width="94.2" height="98.70"/></clipPath>
<g clip-path="url(#cb02)">
<path d="M228.07 276.70h2.80M231.97 276.70h2.80M235.86 276.70h2.80M239.75 276.70h2.80M243.64 276.70h2.80M247.54 276.70h2.80M251.43 276.70h2.80M255.32 276.70h2.80M259.21 276.70h2.80M263.11 276.70h2.80M267.00 276.70h2.80M270.89 276.70h2.80M274.78 276.70h2.80M278.68 276.70h2.80M282.57 276.70h2.80M286.46 276.70h2.80M290.36 276.70h2.80M294.25 276.70h2.80M298.14 276.70h2.80M302.03 276.70h2.80M305.93 276.70h2.80M309.82 276.70h2.80M313.71 276.70h2.80M317.60 276.70h2.80" stroke="#858585" stroke-width="1.9" fill="none"/>
<g fill="#000"><circle cx="229.48" cy="205.01" r="0.78"/><circle cx="229.48" cy="210.85" r="0.78"/><circle cx="229.48" cy="215.71" r="0.78"/><circle cx="229.48" cy="217.16" r="0.78"/><circle cx="229.48" cy="218.38" r="0.78"/><circle cx="229.48" cy="222.75" r="0.78"/><circle cx="229.48" cy="225.91" r="0.78"/><circle cx="229.48" cy="228.83" r="0.78"/><circle cx="229.48" cy="230.77" r="0.78"/><circle cx="233.37" cy="209.63" r="0.78"/><circle cx="233.37" cy="225.91" r="0.78"/><circle cx="233.37" cy="224.64" r="0.78"/><circle cx="233.37" cy="223.36" r="0.78"/><circle cx="233.37" cy="222.09" r="0.78"/><circle cx="233.37" cy="220.81" r="0.78"/><circle cx="233.37" cy="219.53" r="0.78"/><circle cx="233.37" cy="218.26" r="0.78"/><circle cx="233.37" cy="216.98" r="0.78"/><circle cx="233.37" cy="215.71" r="0.78"/><circle cx="233.37" cy="230.77" r="0.78"/><circle cx="237.26" cy="197.48" r="0.78"/><circle cx="237.26" cy="209.88" r="0.78"/><circle cx="237.26" cy="208.72" r="0.78"/><circle cx="237.26" cy="207.57" r="0.78"/><circle cx="237.26" cy="206.41" r="0.78"/><circle cx="237.26" cy="205.26" r="0.78"/><circle cx="237.26" cy="227.86" r="0.78"/><circle cx="237.26" cy="226.52" r="0.78"/><circle cx="237.26" cy="225.18" r="0.78"/><circle cx="237.26" cy="223.85" r="0.78"/><circle cx="237.26" cy="222.51" r="0.78"/><circle cx="237.26" cy="221.17" r="0.78"/><circle cx="237.26" cy="219.84" r="0.78"/><circle cx="237.26" cy="218.50" r="0.78"/><circle cx="237.26" cy="217.16" r="0.78"/><circle cx="237.26" cy="215.83" r="0.78"/><circle cx="237.26" cy="214.49" r="0.78"/><circle cx="237.26" cy="213.16" r="0.78"/><circle cx="237.26" cy="211.82" r="0.78"/><circle cx="237.26" cy="233.93" r="0.78"/><circle cx="237.26" cy="236.36" r="0.78"/><circle cx="241.15" cy="210.36" r="0.78"/><circle cx="241.15" cy="227.86" r="0.78"/><circle cx="241.15" cy="226.58" r="0.78"/><circle cx="241.15" cy="225.29" r="0.78"/><circle cx="241.15" cy="224.01" r="0.78"/><circle cx="241.15" cy="222.73" r="0.78"/><circle cx="241.15" cy="221.45" r="0.78"/><circle cx="241.15" cy="220.17" r="0.78"/><circle cx="241.15" cy="218.89" r="0.78"/><circle cx="241.15" cy="217.61" r="0.78"/><circle cx="241.15" cy="216.33" r="0.78"/><circle cx="241.15" cy="215.04" r="0.78"/><circle cx="241.15" cy="213.76" r="0.78"/><circle cx="241.15" cy="231.50" r="0.78"/><circle cx="245.05" cy="193.11" r="0.78"/><circle cx="245.05" cy="198.70" r="0.78"/><circle cx="245.05" cy="215.71" r="0.78"/><circle cx="245.05" cy="214.37" r="0.78"/><circle cx="245.05" cy="213.03" r="0.78"/><circle cx="245.05" cy="211.70" r="0.78"/><circle cx="245.05" cy="210.36" r="0.78"/><circle cx="245.05" cy="209.02" r="0.78"/><circle cx="245.05" cy="207.69" r="0.78"/><circle cx="245.05" cy="206.35" r="0.78"/><circle cx="245.05" cy="205.01" r="0.78"/><circle cx="245.05" cy="225.91" r="0.78"/><circle cx="245.05" cy="224.60" r="0.78"/><circle cx="245.05" cy="223.29" r="0.78"/><circle cx="245.05" cy="221.98" r="0.78"/><circle cx="245.05" cy="220.66" r="0.78"/><circle cx="245.05" cy="219.35" r="0.78"/><circle cx="248.94" cy="203.31" r="0.78"/><circle cx="248.94" cy="210.85" r="0.78"/><circle cx="248.94" cy="209.69" r="0.78"/><circle cx="248.94" cy="208.54" r="0.78"/><circle cx="248.94" cy="207.38" r="0.78"/><circle cx="248.94" cy="206.23" r="0.78"/><circle cx="248.94" cy="230.77" r="0.78"/><circle cx="248.94" cy="229.52" r="0.78"/><circle cx="248.94" cy="228.26" r="0.78"/><circle cx="248.94" cy="227.01" r="0.78"/><circle cx="248.94" cy="225.75" r="0.78"/><circle cx="248.94" cy="224.50" r="0.78"/><circle cx="248.94" cy="223.24" r="0.78"/><circle cx="248.94" cy="221.98" r="0.78"/><circle cx="248.94" cy="220.73" r="0.78"/><circle cx="248.94" cy="219.47" r="0.78"/><circle cx="248.94" cy="218.22" r="0.78"/><circle cx="248.94" cy="216.96" r="0.78"/><circle cx="248.94" cy="215.71" r="0.78"/><circle cx="252.83" cy="212.79" r="0.78"/><circle cx="252.83" cy="215.71" r="0.78"/><circle cx="252.83" cy="222.27" r="0.78"/><circle cx="252.83" cy="223.73" r="0.78"/><circle cx="252.83" cy="229.80" r="0.78"/><circle cx="256.72" cy="206.72" r="0.78"/><circle cx="256.72" cy="210.85" r="0.78"/><circle cx="256.72" cy="220.32" r="0.78"/><circle cx="256.72" cy="219.17" r="0.78"/><circle cx="256.72" cy="218.02" r="0.78"/><circle cx="256.72" cy="216.86" r="0.78"/><circle cx="256.72" cy="215.71" r="0.78"/><circle cx="256.72" cy="226.88" r="0.78"/><circle cx="256.72" cy="225.67" r="0.78"/><circle cx="256.72" cy="224.45" r="0.78"/><circle cx="256.72" cy="223.24" r="0.78"/><circle cx="256.72" cy="230.77" r="0.78"/><circle cx="256.72" cy="232.23" r="0.78"/><circle cx="260.62" cy="199.67" r="0.78"/><circle cx="260.62" cy="208.17" r="0.78"/><circle cx="260.62" cy="210.60" r="0.78"/><circle cx="260.62" cy="212.31" r="0.78"/><circle cx="260.62" cy="216.68" r="0.78"/><circle cx="260.62" cy="219.84" r="0.78"/><circle cx="260.62" cy="223.73" r="0.78"/><circle cx="260.62" cy="229.80" r="0.78"/><circle cx="260.62" cy="228.50" r="0.78"/><circle cx="260.62" cy="227.21" r="0.78"/><circle cx="260.62" cy="225.91" r="0.78"/><circle cx="264.51" cy="215.71" r="0.78"/><circle cx="264.51" cy="217.16" r="0.78"/><circle cx="264.51" cy="220.81" r="0.78"/><circle cx="264.51" cy="224.94" r="0.78"/><circle cx="264.51" cy="227.86" r="0.78"/><circle cx="268.40" cy="215.22" r="0.78"/><circle cx="268.40" cy="218.38" r="0.78"/><circle cx="268.40" cy="219.84" r="0.78"/><circle cx="268.40" cy="226.64" r="0.78"/><circle cx="272.29" cy="198.21" r="0.78"/><circle cx="272.29" cy="204.29" r="0.78"/><circle cx="272.29" cy="208.66" r="0.78"/><circle cx="272.29" cy="211.33" r="0.78"/><circle cx="272.29" cy="217.89" r="0.78"/><circle cx="272.29" cy="220.32" r="0.78"/><circle cx="272.29" cy="224.70" r="0.78"/><circle cx="272.29" cy="226.64" r="0.78"/><circle cx="276.19" cy="210.85" r="0.78"/><circle cx="276.19" cy="215.22" r="0.78"/><circle cx="276.19" cy="216.68" r="0.78"/><circle cx="276.19" cy="218.14" r="0.78"/><circle cx="280.08" cy="187.76" r="0.78"/><circle cx="280.08" cy="219.11" r="0.78"/><circle cx="283.97" cy="205.26" r="0.78"/><circle cx="283.97" cy="207.20" r="0.78"/><circle cx="283.97" cy="211.82" r="0.78"/><circle cx="283.97" cy="234.42" r="0.78"/><circle cx="283.97" cy="233.11" r="0.78"/><circle cx="283.97" cy="231.79" r="0.78"/><circle cx="283.97" cy="230.48" r="0.78"/><circle cx="283.97" cy="229.17" r="0.78"/><circle cx="283.97" cy="227.86" r="0.78"/><circle cx="283.97" cy="226.54" r="0.78"/><circle cx="283.97" cy="225.23" r="0.78"/><circle cx="283.97" cy="223.92" r="0.78"/><circle cx="283.97" cy="222.61" r="0.78"/><circle cx="283.97" cy="221.30" r="0.78"/><circle cx="283.97" cy="219.98" r="0.78"/><circle cx="283.97" cy="218.67" r="0.78"/><circle cx="283.97" cy="217.36" r="0.78"/><circle cx="283.97" cy="216.05" r="0.78"/><circle cx="283.97" cy="214.73" r="0.78"/><circle cx="287.86" cy="210.60" r="0.78"/><circle cx="287.86" cy="218.38" r="0.78"/><circle cx="287.86" cy="219.84" r="0.78"/><circle cx="287.86" cy="231.50" r="0.78"/><circle cx="287.86" cy="230.18" r="0.78"/><circle cx="287.86" cy="228.86" r="0.78"/><circle cx="287.86" cy="227.54" r="0.78"/><circle cx="287.86" cy="226.23" r="0.78"/><circle cx="287.86" cy="224.91" r="0.78"/><circle cx="287.86" cy="223.59" r="0.78"/><circle cx="287.86" cy="222.27" r="0.78"/><circle cx="291.76" cy="214.01" r="0.78"/><circle cx="291.76" cy="216.68" r="0.78"/><circle cx="291.76" cy="220.32" r="0.78"/><circle cx="291.76" cy="222.27" r="0.78"/><circle cx="291.76" cy="224.94" r="0.78"/><circle cx="295.65" cy="195.05" r="0.78"/><circle cx="295.65" cy="205.26" r="0.78"/><circle cx="295.65" cy="211.82" r="0.78"/><circle cx="295.65" cy="210.66" r="0.78"/><circle cx="295.65" cy="209.51" r="0.78"/><circle cx="295.65" cy="208.36" r="0.78"/><circle cx="295.65" cy="207.20" r="0.78"/><circle cx="295.65" cy="229.80" r="0.78"/><circle cx="295.65" cy="228.46" r="0.78"/><circle cx="295.65" cy="227.13" r="0.78"/><circle cx="295.65" cy="225.79" r="0.78"/><circle cx="295.65" cy="224.45" r="0.78"/><circle cx="295.65" cy="223.12" r="0.78"/><circle cx="295.65" cy="221.78" r="0.78"/><circle cx="295.65" cy="220.45" r="0.78"/><circle cx="295.65" cy="219.11" r="0.78"/><circle cx="295.65" cy="217.77" r="0.78"/><circle cx="295.65" cy="216.44" r="0.78"/><circle cx="295.65" cy="215.10" r="0.78"/><circle cx="295.65" cy="213.76" r="0.78"/><circle cx="295.65" cy="234.90" r="0.78"/><circle cx="295.65" cy="240.01" r="0.78"/><circle cx="295.65" cy="241.46" r="0.78"/><circle cx="299.54" cy="209.15" r="0.78"/><circle cx="299.54" cy="210.60" r="0.78"/><circle cx="299.54" cy="211.82" r="0.78"/><circle cx="299.54" cy="215.71" r="0.78"/><circle cx="299.54" cy="228.83" r="0.78"/><circle cx="299.54" cy="227.52" r="0.78"/><circle cx="299.54" cy="226.22" r="0.78"/><circle cx="299.54" cy="224.91" r="0.78"/><circle cx="299.54" cy="223.60" r="0.78"/><circle cx="299.54" cy="222.30" r="0.78"/><circle cx="299.54" cy="220.99" r="0.78"/><circle cx="299.54" cy="219.69" r="0.78"/><circle cx="299.54" cy="218.38" r="0.78"/><circle cx="299.54" cy="231.99" r="0.78"/><circle cx="299.54" cy="238.79" r="0.78"/><circle cx="303.43" cy="205.26" r="0.78"/><circle cx="303.43" cy="207.20" r="0.78"/><circle cx="303.43" cy="231.26" r="0.78"/><circle cx="303.43" cy="229.96" r="0.78"/><circle cx="303.43" cy="228.67" r="0.78"/><circle cx="303.43" cy="227.37" r="0.78"/><circle cx="303.43" cy="226.07" r="0.78"/><circle cx="303.43" cy="224.78" r="0.78"/><circle cx="303.43" cy="223.48" r="0.78"/><circle cx="303.43" cy="222.19" r="0.78"/><circle cx="303.43" cy="220.89" r="0.78"/><circle cx="303.43" cy="219.59" r="0.78"/><circle cx="303.43" cy="218.30" r="0.78"/><circle cx="303.43" cy="217.00" r="0.78"/><circle cx="303.43" cy="215.71" r="0.78"/><circle cx="303.43" cy="214.41" r="0.78"/><circle cx="303.43" cy="213.11" r="0.78"/><circle cx="303.43" cy="211.82" r="0.78"/><circle cx="307.33" cy="201.13" r="0.78"/><circle cx="307.33" cy="233.45" r="0.78"/><circle cx="307.33" cy="232.12" r="0.78"/><circle cx="307.33" cy="230.79" r="0.78"/><circle cx="307.33" cy="229.46" r="0.78"/><circle cx="307.33" cy="228.13" r="0.78"/><circle cx="307.33" cy="226.80" r="0.78"/><circle cx="307.33" cy="225.47" r="0.78"/><circle cx="307.33" cy="224.14" r="0.78"/><circle cx="307.33" cy="222.81" r="0.78"/><circle cx="307.33" cy="221.48" r="0.78"/><circle cx="307.33" cy="220.14" r="0.78"/><circle cx="307.33" cy="218.81" r="0.78"/><circle cx="307.33" cy="217.48" r="0.78"/><circle cx="307.33" cy="216.15" r="0.78"/><circle cx="307.33" cy="214.82" r="0.78"/><circle cx="307.33" cy="213.49" r="0.78"/><circle cx="307.33" cy="212.16" r="0.78"/><circle cx="307.33" cy="210.83" r="0.78"/><circle cx="307.33" cy="209.50" r="0.78"/><circle cx="307.33" cy="208.17" r="0.78"/><circle cx="307.33" cy="239.52" r="0.78"/><circle cx="311.22" cy="190.68" r="0.78"/><circle cx="311.22" cy="198.21" r="0.78"/><circle cx="311.22" cy="214.73" r="0.78"/><circle cx="311.22" cy="216.19" r="0.78"/><circle cx="311.22" cy="219.84" r="0.78"/><circle cx="315.11" cy="197.24" r="0.78"/><circle cx="315.11" cy="205.74" r="0.78"/><circle cx="315.11" cy="207.20" r="0.78"/><circle cx="315.11" cy="208.66" r="0.78"/><circle cx="315.11" cy="213.76" r="0.78"/><circle cx="315.11" cy="215.22" r="0.78"/><circle cx="315.11" cy="220.81" r="0.78"/><circle cx="319.00" cy="198.45" r="0.78"/><circle cx="319.00" cy="205.74" r="0.78"/><circle cx="319.00" cy="207.20" r="0.78"/><circle cx="319.00" cy="212.79" r="0.78"/><circle cx="319.00" cy="214.25" r="0.78"/><circle cx="319.00" cy="215.71" r="0.78"/><circle cx="319.00" cy="221.78" r="0.78"/><circle cx="319.00" cy="223.24" r="0.78"/></g>
</g>
<rect x="227.14" y="182.5" width="94.2" height="98.70" fill="none" stroke="#8a8a8a" stroke-width="0.9"/>
<text x="274.24" y="179.90" font-size="6.9" font-weight="bold" text-anchor="middle" fill="#1a1a1a">CD4 T cells</text>
<rect x="323.61" y="172.5" width="94.2" height="10.00" fill="#d9d9d9" stroke="#8a8a8a" stroke-width="0.9"/>
<rect x="323.61" y="182.5" width="94.2" height="98.70" fill="#fff"/>
<path d="M323.61 264.55H417.81M323.61 240.25H417.81M323.61 215.95H417.81M323.61 191.65H417.81" stroke="#f4f4f4" stroke-width="0.4" fill="none"/>
<path d="M323.61 276.70H417.81M323.61 252.40H417.81M323.61 228.10H417.81M323.61 203.80H417.81M325.95 182.5V281.2M329.84 182.5V281.2M333.73 182.5V281.2M337.62 182.5V281.2M341.52 182.5V281.2M345.41 182.5V281.2M349.30 182.5V281.2M353.19 182.5V281.2M357.09 182.5V281.2M360.98 182.5V281.2M364.87 182.5V281.2M368.76 182.5V281.2M372.66 182.5V281.2M376.55 182.5V281.2M380.44 182.5V281.2M384.33 182.5V281.2M388.23 182.5V281.2M392.12 182.5V281.2M396.01 182.5V281.2M399.90 182.5V281.2M403.80 182.5V281.2M407.69 182.5V281.2M411.58 182.5V281.2M415.47 182.5V281.2" stroke="#ebebeb" stroke-width="0.6" fill="none"/>
<clipPath id="cb03"><rect x="323.61" y="182.5" width="94.2" height="98.70"/></clipPath>
<g clip-path="url(#cb03)">
<path d="M324.54 276.70h2.80M328.44 276.70h2.80M332.33 276.70h2.80M336.22 276.70h2.80M340.11 276.70h2.80M344.01 276.70h2.80M347.90 276.70h2.80M351.79 276.70h2.80M355.68 276.70h2.80M359.58 276.70h2.80M363.47 276.70h2.80M367.36 276.70h2.80M371.25 276.70h2.80M375.15 276.70h2.80M379.04 276.70h2.80M382.93 276.70h2.80M386.83 276.70h2.80M390.72 276.70h2.80M394.61 276.70h2.80M398.50 276.70h2.80M402.40 276.70h2.80M406.29 276.70h2.80M410.18 276.70h2.80M414.07 276.70h2.80" stroke="#858585" stroke-width="1.9" fill="none"/>
<g fill="#000"><circle cx="333.73" cy="215.95" r="0.78"/><circle cx="333.73" cy="223.48" r="0.78"/><circle cx="333.73" cy="245.60" r="0.78"/><circle cx="337.62" cy="224.45" r="0.78"/><circle cx="341.52" cy="209.15" r="0.78"/><circle cx="341.52" cy="214.25" r="0.78"/><circle cx="341.52" cy="217.89" r="0.78"/><circle cx="345.41" cy="212.31" r="0.78"/><circle cx="345.41" cy="217.41" r="0.78"/><circle cx="345.41" cy="218.87" r="0.78"/><circle cx="345.41" cy="221.78" r="0.78"/><circle cx="357.09" cy="214.25" r="0.78"/><circle cx="372.66" cy="194.57" r="0.78"/><circle cx="372.66" cy="211.82" r="0.78"/><circle cx="376.55" cy="198.70" r="0.78"/><circle cx="376.55" cy="212.55" r="0.78"/><circle cx="376.55" cy="214.01" r="0.78"/><circle cx="376.55" cy="215.71" r="0.78"/><circle cx="376.55" cy="219.84" r="0.78"/><circle cx="388.23" cy="193.11" r="0.78"/><circle cx="388.23" cy="212.79" r="0.78"/><circle cx="388.23" cy="216.19" r="0.78"/><circle cx="388.23" cy="229.31" r="0.78"/><circle cx="392.12" cy="230.77" r="0.78"/><circle cx="392.12" cy="234.42" r="0.78"/><circle cx="396.01" cy="220.81" r="0.78"/><circle cx="399.90" cy="226.40" r="0.78"/><circle cx="403.80" cy="233.93" r="0.78"/><circle cx="407.69" cy="209.15" r="0.78"/><circle cx="411.58" cy="196.51" r="0.78"/><circle cx="415.47" cy="221.30" r="0.78"/></g>
</g>
<rect x="323.61" y="182.5" width="94.2" height="98.70" fill="none" stroke="#8a8a8a" stroke-width="0.9"/>
<text x="370.71" y="179.90" font-size="6.9" font-weight="bold" text-anchor="middle" fill="#1a1a1a">CD8 T cells</text>
<rect x="420.08" y="172.5" width="94.2" height="10.00" fill="#d9d9d9" stroke="#8a8a8a" stroke-width="0.9"/>
<rect x="420.08" y="182.5" width="94.2" height="98.70" fill="#fff"/>
<path d="M420.08 264.55H514.28M420.08 240.25H514.28M420.08 215.95H514.28M420.08 191.65H514.28" stroke="#f4f4f4" stroke-width="0.4" fill="none"/>
<path d="M420.08 276.70H514.28M420.08 252.40H514.28M420.08 228.10H514.28M420.08 203.80H514.28M422.42 182.5V281.2M426.31 182.5V281.2M430.20 182.5V281.2M434.09 182.5V281.2M437.99 182.5V281.2M441.88 182.5V281.2M445.77 182.5V281.2M449.66 182.5V281.2M453.56 182.5V281.2M457.45 182.5V281.2M461.34 182.5V281.2M465.23 182.5V281.2M469.13 182.5V281.2M473.02 182.5V281.2M476.91 182.5V281.2M480.80 182.5V281.2M484.70 182.5V281.2M488.59 182.5V281.2M492.48 182.5V281.2M496.37 182.5V281.2M500.27 182.5V281.2M504.16 182.5V281.2M508.05 182.5V281.2M511.94 182.5V281.2" stroke="#ebebeb" stroke-width="0.6" fill="none"/>
<clipPath id="cb04"><rect x="420.08" y="182.5" width="94.2" height="98.70"/></clipPath>
<g clip-path="url(#cb04)">
<path d="M421.01 276.70h2.80M424.91 276.70h2.80M428.80 276.70h2.80M432.69 276.70h2.80M436.58 276.70h2.80M440.48 276.70h2.80M444.37 276.70h2.80M448.26 276.70h2.80M452.15 276.70h2.80M456.05 276.70h2.80M459.94 276.70h2.80M463.83 276.70h2.80M467.72 276.70h2.80M471.62 276.70h2.80M475.51 276.70h2.80M479.40 276.70h2.80M483.30 276.70h2.80M487.19 276.70h2.80M491.08 276.70h2.80M494.97 276.70h2.80M498.87 276.70h2.80M502.76 276.70h2.80M506.65 276.70h2.80M510.54 276.70h2.80" stroke="#858585" stroke-width="1.9" fill="none"/>
<g fill="#000"><circle cx="422.42" cy="220.81" r="0.78"/><circle cx="422.42" cy="251.43" r="0.78"/><circle cx="430.20" cy="249.00" r="0.78"/><circle cx="476.91" cy="241.95" r="0.78"/><circle cx="480.80" cy="248.51" r="0.78"/><circle cx="484.70" cy="237.82" r="0.78"/><circle cx="484.70" cy="248.03" r="0.78"/><circle cx="488.59" cy="223.48" r="0.78"/><circle cx="492.48" cy="219.11" r="0.78"/><circle cx="496.37" cy="247.05" r="0.78"/><circle cx="496.37" cy="248.03" r="0.78"/><circle cx="500.27" cy="252.40" r="0.78"/></g>
</g>
<rect x="420.08" y="182.5" width="94.2" height="98.70" fill="none" stroke="#8a8a8a" stroke-width="0.9"/>
<text x="467.18" y="179.90" font-size="6.9" font-weight="bold" text-anchor="middle" fill="#1a1a1a">Dendritic cells</text>
<rect x="516.55" y="172.5" width="94.2" height="10.00" fill="#d9d9d9" stroke="#8a8a8a" stroke-width="0.9"/>
<rect x="516.55" y="182.5" width="94.2" height="98.70" fill="#fff"/>
<path d="M516.55 264.55H610.75M516.55 240.25H610.75M516.55 215.95H610.75M516.55 191.65H610.75" stroke="#f4f4f4" stroke-width="0.4" fill="none"/>
<path d="M516.55 276.70H610.75M516.55 252.40H610.75M516.55 228.10H610.75M516.55 203.80H610.75M518.89 182.5V281.2M522.78 182.5V281.2M526.67 182.5V281.2M530.56 182.5V281.2M534.46 182.5V281.2M538.35 182.5V281.2M542.24 182.5V281.2M546.13 182.5V281.2M550.03 182.5V281.2M553.92 182.5V281.2M557.81 182.5V281.2M561.70 182.5V281.2M565.60 182.5V281.2M569.49 182.5V281.2M573.38 182.5V281.2M577.27 182.5V281.2M581.17 182.5V281.2M585.06 182.5V281.2M588.95 182.5V281.2M592.84 182.5V281.2M596.74 182.5V281.2M600.63 182.5V281.2M604.52 182.5V281.2M608.41 182.5V281.2" stroke="#ebebeb" stroke-width="0.6" fill="none"/>
<clipPath id="cb05"><rect x="516.55" y="182.5" width="94.2" height="98.70"/></clipPath>
<g clip-path="url(#cb05)">
<path d="M517.48 276.70h2.80M521.38 276.70h2.80M525.27 276.70h2.80M529.16 276.70h2.80M533.05 276.70h2.80M536.95 276.70h2.80M540.84 276.70h2.80M544.73 276.70h2.80M548.62 276.70h2.80M552.52 276.70h2.80M556.41 276.70h2.80M560.30 276.70h2.80M564.19 276.70h2.80M568.09 276.70h2.80M571.98 276.70h2.80M575.87 276.70h2.80M579.77 276.70h2.80M583.66 276.70h2.80M587.55 276.70h2.80M591.44 276.70h2.80M595.34 276.70h2.80M599.23 276.70h2.80M603.12 276.70h2.80M607.01 276.70h2.80" stroke="#858585" stroke-width="1.9" fill="none"/>
<g fill="#000"><circle cx="518.89" cy="218.14" r="0.78"/><circle cx="518.89" cy="226.64" r="0.78"/><circle cx="518.89" cy="232.96" r="0.78"/><circle cx="518.89" cy="236.60" r="0.78"/><circle cx="518.89" cy="237.82" r="0.78"/><circle cx="518.89" cy="243.41" r="0.78"/><circle cx="522.78" cy="235.63" r="0.78"/><circle cx="522.78" cy="243.41" r="0.78"/><circle cx="526.67" cy="236.60" r="0.78"/><circle cx="526.67" cy="240.74" r="0.78"/><circle cx="526.67" cy="241.95" r="0.78"/><circle cx="526.67" cy="243.41" r="0.78"/><circle cx="526.67" cy="244.87" r="0.78"/><circle cx="526.67" cy="249.00" r="0.78"/><circle cx="530.56" cy="224.94" r="0.78"/><circle cx="530.56" cy="227.86" r="0.78"/><circle cx="530.56" cy="239.52" r="0.78"/><circle cx="530.56" cy="243.41" r="0.78"/><circle cx="530.56" cy="244.87" r="0.78"/><circle cx="534.46" cy="231.50" r="0.78"/><circle cx="534.46" cy="233.93" r="0.78"/><circle cx="534.46" cy="235.39" r="0.78"/><circle cx="534.46" cy="236.85" r="0.78"/><circle cx="538.35" cy="208.17" r="0.78"/><circle cx="538.35" cy="239.76" r="0.78"/><circle cx="538.35" cy="242.44" r="0.78"/><circle cx="538.35" cy="243.89" r="0.78"/><circle cx="538.35" cy="245.35" r="0.78"/><circle cx="542.24" cy="249.48" r="0.78"/><circle cx="546.13" cy="240.74" r="0.78"/><circle cx="553.92" cy="247.05" r="0.78"/><circle cx="561.70" cy="209.15" r="0.78"/><circle cx="561.70" cy="211.58" r="0.78"/><circle cx="561.70" cy="214.98" r="0.78"/><circle cx="561.70" cy="224.45" r="0.78"/><circle cx="561.70" cy="228.83" r="0.78"/><circle cx="561.70" cy="230.04" r="0.78"/><circle cx="561.70" cy="231.99" r="0.78"/><circle cx="561.70" cy="233.20" r="0.78"/><circle cx="565.60" cy="202.83" r="0.78"/><circle cx="565.60" cy="232.47" r="0.78"/><circle cx="569.49" cy="206.23" r="0.78"/><circle cx="569.49" cy="225.91" r="0.78"/><circle cx="569.49" cy="227.37" r="0.78"/><circle cx="569.49" cy="230.04" r="0.78"/><circle cx="569.49" cy="232.96" r="0.78"/><circle cx="569.49" cy="235.88" r="0.78"/><circle cx="573.38" cy="228.10" r="0.78"/><circle cx="573.38" cy="235.63" r="0.78"/><circle cx="573.38" cy="239.03" r="0.78"/><circle cx="573.38" cy="241.95" r="0.78"/><circle cx="573.38" cy="245.11" r="0.78"/><circle cx="577.27" cy="248.03" r="0.78"/><circle cx="585.06" cy="224.94" r="0.78"/><circle cx="585.06" cy="227.86" r="0.78"/><circle cx="585.06" cy="237.33" r="0.78"/><circle cx="585.06" cy="246.57" r="0.78"/><circle cx="585.06" cy="248.03" r="0.78"/><circle cx="585.06" cy="249.00" r="0.78"/><circle cx="585.06" cy="250.46" r="0.78"/><circle cx="588.95" cy="216.92" r="0.78"/><circle cx="588.95" cy="240.01" r="0.78"/><circle cx="588.95" cy="244.87" r="0.78"/><circle cx="588.95" cy="246.08" r="0.78"/><circle cx="588.95" cy="247.30" r="0.78"/><circle cx="592.84" cy="221.78" r="0.78"/><circle cx="592.84" cy="228.83" r="0.78"/><circle cx="592.84" cy="230.04" r="0.78"/><circle cx="592.84" cy="234.90" r="0.78"/><circle cx="592.84" cy="238.79" r="0.78"/><circle cx="592.84" cy="240.01" r="0.78"/><circle cx="592.84" cy="242.44" r="0.78"/><circle cx="592.84" cy="243.89" r="0.78"/><circle cx="592.84" cy="246.57" r="0.78"/><circle cx="596.74" cy="228.10" r="0.78"/><circle cx="596.74" cy="233.93" r="0.78"/><circle cx="596.74" cy="240.01" r="0.78"/><circle cx="596.74" cy="241.46" r="0.78"/><circle cx="596.74" cy="242.44" r="0.78"/><circle cx="596.74" cy="244.87" r="0.78"/><circle cx="600.63" cy="218.87" r="0.78"/><circle cx="608.41" cy="215.22" r="0.78"/><circle cx="608.41" cy="234.42" r="0.78"/><circle cx="608.41" cy="235.39" r="0.78"/></g>
</g>
<rect x="516.55" y="182.5" width="94.2" height="98.70" fill="none" stroke="#8a8a8a" stroke-width="0.9"/>
<text x="563.65" y="179.90" font-size="6.9" font-weight="bold" text-anchor="middle" fill="#1a1a1a">FCGR3A+ Monocytes</text>
<rect x="613.02" y="172.5" width="94.2" height="10.00" fill="#d9d9d9" stroke="#8a8a8a" stroke-width="0.9"/>
<rect x="613.02" y="182.5" width="94.2" height="98.70" fill="#fff"/>
<path d="M613.02 264.55H707.22M613.02 240.25H707.22M613.02 215.95H707.22M613.02 191.65H707.22" stroke="#f4f4f4" stroke-width="0.4" fill="none"/>
<path d="M613.02 276.70H707.22M613.02 252.40H707.22M613.02 228.10H707.22M613.02 203.80H707.22M615.36 182.5V281.2M619.25 182.5V281.2M623.14 182.5V281.2M627.03 182.5V281.2M630.93 182.5V281.2M634.82 182.5V281.2M638.71 182.5V281.2M642.60 182.5V281.2M646.50 182.5V281.2M650.39 182.5V281.2M654.28 182.5V281.2M658.17 182.5V281.2M662.07 182.5V281.2M665.96 182.5V281.2M669.85 182.5V281.2M673.74 182.5V281.2M677.64 182.5V281.2M681.53 182.5V281.2M685.42 182.5V281.2M689.31 182.5V281.2M693.21 182.5V281.2M697.10 182.5V281.2M700.99 182.5V281.2M704.88 182.5V281.2" stroke="#ebebeb" stroke-width="0.6" fill="none"/>
<clipPath id="cb06"><rect x="613.02" y="182.5" width="94.2" height="98.70"/></clipPath>
<g clip-path="url(#cb06)">
<path d="M613.95 276.70h2.80M617.85 276.70h2.80M621.74 276.70h2.80M625.63 276.70h2.80M629.52 276.70h2.80M633.42 276.70h2.80M637.31 276.70h2.80M641.20 276.70h2.80M645.09 276.70h2.80M648.99 276.70h2.80M652.88 276.70h2.80M656.77 276.70h2.80M660.66 276.70h2.80M664.56 276.70h2.80M668.45 276.70h2.80M672.34 276.70h2.80M676.24 276.70h2.80M680.13 276.70h2.80M684.02 276.70h2.80M687.91 276.70h2.80M691.81 276.70h2.80M695.70 276.70h2.80M699.59 276.70h2.80M703.48 276.70h2.80" stroke="#858585" stroke-width="1.9" fill="none"/>
<g fill="#000"><circle cx="615.36" cy="196.02" r="0.78"/><circle cx="615.36" cy="207.93" r="0.78"/><circle cx="615.36" cy="216.92" r="0.78"/><circle cx="619.25" cy="213.52" r="0.78"/><circle cx="619.25" cy="217.89" r="0.78"/><circle cx="623.14" cy="213.76" r="0.78"/><circle cx="627.03" cy="215.46" r="0.78"/><circle cx="627.03" cy="218.38" r="0.78"/><circle cx="627.03" cy="222.51" r="0.78"/><circle cx="630.93" cy="207.69" r="0.78"/><circle cx="634.82" cy="216.19" r="0.78"/><circle cx="634.82" cy="217.89" r="0.78"/><circle cx="634.82" cy="230.77" r="0.78"/><circle cx="646.50" cy="207.69" r="0.78"/><circle cx="646.50" cy="210.85" r="0.78"/><circle cx="654.28" cy="217.89" r="0.78"/><circle cx="658.17" cy="206.72" r="0.78"/><circle cx="658.17" cy="223.24" r="0.78"/><circle cx="669.85" cy="220.32" r="0.78"/><circle cx="677.64" cy="192.38" r="0.78"/><circle cx="677.64" cy="207.44" r="0.78"/><circle cx="677.64" cy="209.63" r="0.78"/><circle cx="681.53" cy="208.42" r="0.78"/><circle cx="681.53" cy="211.58" r="0.78"/><circle cx="681.53" cy="212.55" r="0.78"/><circle cx="685.42" cy="210.12" r="0.78"/><circle cx="697.10" cy="206.72" r="0.78"/><circle cx="700.99" cy="205.01" r="0.78"/></g>
</g>
<rect x="613.02" y="182.5" width="94.2" height="98.70" fill="none" stroke="#8a8a8a" stroke-width="0.9"/>
<text x="660.12" y="179.90" font-size="6.9" font-weight="bold" text-anchor="middle" fill="#1a1a1a">NK cells</text>
<text x="34.0" y="297.8" font-size="9.4" font-weight="bold" text-anchor="start" fill="#000">EIF4A1</text>
<text x="26.2" y="361.90" font-size="7.7" font-weight="bold" text-anchor="middle" fill="#000" transform="rotate(-90 26.2 361.90)">log(10k+1)</text>
<text x="370.7" y="419.60" font-size="7.7" font-weight="bold" text-anchor="middle" fill="#000">Samples</text>
<text x="31.60" y="408.90" font-size="5.2" font-weight="normal" text-anchor="end" fill="#333">0</text>
<text x="31.60" y="382.80" font-size="5.2" font-weight="normal" text-anchor="end" fill="#333">2</text>
<text x="31.60" y="356.70" font-size="5.2" font-weight="normal" text-anchor="end" fill="#333">4</text>
<text x="31.60" y="330.60" font-size="5.2" font-weight="normal" text-anchor="end" fill="#333">6</text>
<path d="M32.60 407.00h1.6M32.60 380.90h1.6M32.60 354.80h1.6M32.60 328.70h1.6" stroke="#555" stroke-width="0.5" fill="none"/>
<rect x="34.20" y="302.5" width="94.2" height="10.00" fill="#d9d9d9" stroke="#8a8a8a" stroke-width="0.9"/>
<rect x="34.20" y="312.5" width="94.2" height="98.80" fill="#fff"/>
<path d="M34.20 393.95H128.40M34.20 367.85H128.40M34.20 341.75H128.40M34.20 315.65H128.40" stroke="#f4f4f4" stroke-width="0.4" fill="none"/>
<path d="M34.20 407.00H128.40M34.20 380.90H128.40M34.20 354.80H128.40M34.20 328.70H128.40M36.54 312.5V411.3M40.43 312.5V411.3M44.32 312.5V411.3M48.21 312.5V411.3M52.11 312.5V411.3M56.00 312.5V411.3M59.89 312.5V411.3M63.78 312.5V411.3M67.68 312.5V411.3M71.57 312.5V411.3M75.46 312.5V411.3M79.35 312.5V411.3M83.25 312.5V411.3M87.14 312.5V411.3M91.03 312.5V411.3M94.92 312.5V411.3M98.82 312.5V411.3M102.71 312.5V411.3M106.60 312.5V411.3M110.49 312.5V411.3M114.39 312.5V411.3M118.28 312.5V411.3M122.17 312.5V411.3M126.06 312.5V411.3" stroke="#ebebeb" stroke-width="0.6" fill="none"/>
<clipPath id="cb10"><rect x="34.20" y="312.5" width="94.2" height="98.80"/></clipPath>
<g clip-path="url(#cb10)">
<path d="M36.54 355.58V369.29M40.43 349.58V373.72M44.32 352.19V373.33M48.21 352.19V373.33M52.11 357.54V371.76M56.00 356.24V376.59M59.89 359.11V373.07M63.78 354.15V375.94M71.57 356.24V371.76M75.46 353.36V370.46M79.35 356.24V371.76M83.25 357.54V376.20M87.14 373.07V393.17M91.03 350.36V366.15M94.92 348.93V371.37M98.82 359.76V374.24M102.71 350.88V371.24M106.60 353.36V374.24M110.49 348.01V372.16M114.39 348.01V373.72M118.28 355.06V375.03M126.06 382.20V397.08" stroke="#666" stroke-width="0.7" fill="none"/>
<path d="M34.90 369.29h3.27V407.00h-3.27zM38.79 373.72h3.27V407.00h-3.27zM42.69 373.33h3.27V407.00h-3.27zM46.58 373.33h3.27V407.00h-3.27zM50.47 371.76h3.27V407.00h-3.27zM54.36 376.59h3.27V407.00h-3.27zM58.26 373.07h3.27V407.00h-3.27zM62.15 375.94h3.27V407.00h-3.27zM69.93 371.76h3.27V407.00h-3.27zM73.83 370.46h3.27V407.00h-3.27zM77.72 371.76h3.27V407.00h-3.27zM81.61 376.20h3.27V407.00h-3.27zM85.50 393.17h3.27V407.00h-3.27zM89.40 366.15h3.27V407.00h-3.27zM93.29 371.37h3.27V407.00h-3.27zM97.18 374.24h3.27V407.00h-3.27zM101.07 371.24h3.27V407.00h-3.27zM104.97 374.24h3.27V407.00h-3.27zM108.86 372.16h3.27V407.00h-3.27zM112.75 373.72h3.27V407.00h-3.27zM116.64 375.03h3.27V407.00h-3.27zM124.43 397.08h3.27V407.00h-3.27z" fill="#F8766D" stroke="#5e5e5e" stroke-width="0.55"/>
<path d="M34.90 376.59h3.27M50.47 378.42h3.27M62.15 386.12h3.27M69.93 377.51h3.27M73.83 377.90h3.27M89.40 376.20h3.27M101.07 376.99h3.27M108.86 378.42h3.27" stroke="#444" stroke-width="0.9" fill="none"/>
<path d="M66.04 407.00h3.27M120.54 407.00h3.27" stroke="#6e6e6e" stroke-width="1.5" fill="none"/>
<g fill="#000"><circle cx="67.68" cy="365.24" r="0.64"/><circle cx="67.68" cy="377.64" r="0.64"/><circle cx="67.68" cy="376.50" r="0.64"/><circle cx="67.68" cy="375.35" r="0.64"/><circle cx="67.68" cy="374.21" r="0.64"/><circle cx="67.68" cy="373.07" r="0.64"/><circle cx="67.68" cy="371.93" r="0.64"/><circle cx="67.68" cy="370.79" r="0.64"/><circle cx="67.68" cy="369.64" r="0.64"/><circle cx="67.68" cy="368.50" r="0.64"/><circle cx="67.68" cy="382.20" r="0.64"/><circle cx="87.14" cy="371.76" r="0.64"/><circle cx="87.14" cy="370.65" r="0.64"/><circle cx="87.14" cy="369.53" r="0.64"/><circle cx="87.14" cy="368.41" r="0.64"/><circle cx="87.14" cy="367.29" r="0.64"/><circle cx="87.14" cy="366.17" r="0.64"/><circle cx="87.14" cy="365.05" r="0.64"/><circle cx="87.14" cy="363.94" r="0.64"/><circle cx="87.14" cy="360.67" r="0.64"/><circle cx="87.14" cy="358.71" r="0.64"/><circle cx="87.14" cy="356.76" r="0.64"/><circle cx="122.17" cy="353.76" r="0.64"/><circle cx="122.17" cy="378.42" r="0.64"/><circle cx="122.17" cy="377.24" r="0.64"/><circle cx="122.17" cy="376.06" r="0.64"/><circle cx="122.17" cy="374.87" r="0.64"/><circle cx="122.17" cy="373.69" r="0.64"/><circle cx="122.17" cy="372.51" r="0.64"/><circle cx="122.17" cy="371.32" r="0.64"/><circle cx="122.17" cy="370.14" r="0.64"/><circle cx="122.17" cy="368.96" r="0.64"/><circle cx="122.17" cy="367.78" r="0.64"/><circle cx="122.17" cy="366.59" r="0.64"/><circle cx="122.17" cy="365.41" r="0.64"/><circle cx="122.17" cy="364.23" r="0.64"/><circle cx="122.17" cy="363.05" r="0.64"/><circle cx="122.17" cy="361.86" r="0.64"/><circle cx="122.17" cy="360.68" r="0.64"/><circle cx="122.17" cy="359.50" r="0.64"/><circle cx="122.17" cy="383.25" r="0.64"/><circle cx="126.06" cy="375.68" r="0.64"/><circle cx="126.06" cy="374.53" r="0.64"/><circle cx="126.06" cy="373.38" r="0.64"/><circle cx="126.06" cy="372.23" r="0.64"/><circle cx="126.06" cy="371.09" r="0.64"/><circle cx="126.06" cy="369.94" r="0.64"/><circle cx="126.06" cy="368.79" r="0.64"/><circle cx="126.06" cy="367.64" r="0.64"/><circle cx="126.06" cy="366.49" r="0.64"/><circle cx="126.06" cy="365.34" r="0.64"/><circle cx="126.06" cy="364.20" r="0.64"/><circle cx="126.06" cy="363.05" r="0.64"/><circle cx="126.06" cy="361.90" r="0.64"/><circle cx="126.06" cy="360.75" r="0.64"/><circle cx="126.06" cy="359.60" r="0.64"/><circle cx="126.06" cy="358.45" r="0.64"/></g>
</g>
<rect x="34.20" y="312.5" width="94.2" height="98.80" fill="none" stroke="#8a8a8a" stroke-width="0.9"/>
<text x="81.30" y="309.90" font-size="6.9" font-weight="bold" text-anchor="middle" fill="#1a1a1a">B cells</text>
<rect x="130.67" y="302.5" width="94.2" height="10.00" fill="#d9d9d9" stroke="#8a8a8a" stroke-width="0.9"/>
<rect x="130.67" y="312.5" width="94.2" height="98.80" fill="#fff"/>
<path d="M130.67 393.95H224.87M130.67 367.85H224.87M130.67 341.75H224.87M130.67 315.65H224.87" stroke="#f4f4f4" stroke-width="0.4" fill="none"/>
<path d="M130.67 407.00H224.87M130.67 380.90H224.87M130.67 354.80H224.87M130.67 328.70H224.87M133.01 312.5V411.3M136.90 312.5V411.3M140.79 312.5V411.3M144.68 312.5V411.3M148.58 312.5V411.3M152.47 312.5V411.3M156.36 312.5V411.3M160.25 312.5V411.3M164.15 312.5V411.3M168.04 312.5V411.3M171.93 312.5V411.3M175.82 312.5V411.3M179.72 312.5V411.3M183.61 312.5V411.3M187.50 312.5V411.3M191.39 312.5V411.3M195.29 312.5V411.3M199.18 312.5V411.3M203.07 312.5V411.3M206.96 312.5V411.3M210.86 312.5V411.3M214.75 312.5V411.3M218.64 312.5V411.3M222.53 312.5V411.3" stroke="#ebebeb" stroke-width="0.6" fill="none"/>
<clipPath id="cb11"><rect x="130.67" y="312.5" width="94.2" height="98.80"/></clipPath>
<g clip-path="url(#cb11)">
<path d="M133.01 355.06V369.29M133.01 382.20V386.12M136.90 359.50V372.42M136.90 387.95V407.00M140.79 350.88V371.37M140.79 386.51V407.00M144.68 361.72V375.03M148.58 354.15V370.46M148.58 387.03V407.00M152.47 353.36V374.24M156.36 360.02V373.72M160.25 362.24V376.20M164.15 347.49V367.07M164.15 385.08V407.00M168.04 358.45V369.94M168.04 385.08V407.00M171.93 361.72V373.72M175.82 356.11V370.85M179.72 352.19V371.24M183.61 316.95V366.55M187.50 355.06V369.94M187.50 383.25V388.99M191.39 359.11V375.29M195.29 350.36V366.15M199.18 359.11V370.46M199.18 385.08V407.00M203.07 357.93V373.33M206.96 355.06V371.37M210.86 353.36V376.20M214.75 353.10V368.63M218.64 339.14V368.89M222.53 356.11V370.85" stroke="#666" stroke-width="0.7" fill="none"/>
<path d="M131.37 369.29h3.27V382.20h-3.27zM135.26 372.42h3.27V387.95h-3.27zM139.16 371.37h3.27V386.51h-3.27zM143.05 375.03h3.27V407.00h-3.27zM146.94 370.46h3.27V387.03h-3.27zM150.83 374.24h3.27V407.00h-3.27zM154.73 373.72h3.27V407.00h-3.27zM158.62 376.20h3.27V407.00h-3.27zM162.51 367.07h3.27V385.08h-3.27zM166.40 369.94h3.27V385.08h-3.27zM170.30 373.72h3.27V407.00h-3.27zM174.19 370.85h3.27V407.00h-3.27zM178.08 371.24h3.27V407.00h-3.27zM181.97 366.55h3.27V407.00h-3.27zM185.87 369.94h3.27V383.25h-3.27zM189.76 375.29h3.27V407.00h-3.27zM193.65 366.15h3.27V407.00h-3.27zM197.54 370.46h3.27V385.08h-3.27zM201.44 373.33h3.27V407.00h-3.27zM205.33 371.37h3.27V407.00h-3.27zM209.22 376.20h3.27V407.00h-3.27zM213.11 368.63h3.27V407.00h-3.27zM217.01 368.89h3.27V407.00h-3.27zM220.90 370.85h3.27V407.00h-3.27z" fill="#C49A00" stroke="#5e5e5e" stroke-width="0.55"/>
<path d="M131.37 374.64h3.27M135.26 379.46h3.27M139.16 377.51h3.27M143.05 382.20h3.27M146.94 376.59h3.27M150.83 381.94h3.27M154.73 378.42h3.27M158.62 384.16h3.27M162.51 375.29h3.27M166.40 376.99h3.27M170.30 379.46h3.27M174.19 396.17h3.27M178.08 380.38h3.27M181.97 373.33h3.27M185.87 375.29h3.27M189.76 382.20h3.27M193.65 376.20h3.27M197.54 375.29h3.27M201.44 380.38h3.27M205.33 378.03h3.27M209.22 383.25h3.27M213.11 377.12h3.27M217.01 375.29h3.27M220.90 380.38h3.27" stroke="#444" stroke-width="0.9" fill="none"/>
<g fill="#000"><circle cx="133.01" cy="407.00" r="0.64"/><circle cx="187.50" cy="407.00" r="0.64"/></g>
</g>
<rect x="130.67" y="312.5" width="94.2" height="98.80" fill="none" stroke="#8a8a8a" stroke-width="0.9"/>
<text x="177.77" y="309.90" font-size="6.9" font-weight="bold" text-anchor="middle" fill="#1a1a1a">CD14+ Monocytes</text>
<rect x="227.14" y="302.5" width="94.2" height="10.00" fill="#d9d9d9" stroke="#8a8a8a" stroke-width="0.9"/>
<rect x="227.14" y="312.5" width="94.2" height="98.80" fill="#fff"/>
<path d="M227.14 393.95H321.34M227.14 367.85H321.34M227.14 341.75H321.34M227.14 315.65H321.34" stroke="#f4f4f4" stroke-width="0.4" fill="none"/>
<path d="M227.14 407.00H321.34M227.14 380.90H321.34M227.14 354.80H321.34M227.14 328.70H321.34M229.48 312.5V411.3M233.37 312.5V411.3M237.26 312.5V411.3M241.15 312.5V411.3M245.05 312.5V411.3M248.94 312.5V411.3M252.83 312.5V411.3M256.72 312.5V411.3M260.62 312.5V411.3M264.51 312.5V411.3M268.40 312.5V411.3M272.29 312.5V411.3M276.19 312.5V411.3M280.08 312.5V411.3M283.97 312.5V411.3M287.86 312.5V411.3M291.76 312.5V411.3M295.65 312.5V411.3M299.54 312.5V411.3M303.43 312.5V411.3M307.33 312.5V411.3M311.22 312.5V411.3M315.11 312.5V411.3M319.00 312.5V411.3" stroke="#ebebeb" stroke-width="0.6" fill="none"/>
<clipPath id="cb12"><rect x="227.14" y="312.5" width="94.2" height="98.80"/></clipPath>
<g clip-path="url(#cb12)">
<path d="M229.48 352.19V372.16M233.37 357.54V375.29M237.26 352.19V374.24M241.15 352.19V375.94M245.05 347.10V372.16M248.94 346.19V370.46M252.83 353.76V373.33M256.72 347.49V370.85M260.62 353.76V376.20M264.51 352.19V374.24M268.40 352.19V375.29M272.29 355.58V376.59M276.19 330.92V375.29M280.08 356.11V376.20M283.97 344.23V373.33M287.86 353.36V370.85M291.76 357.54V375.94M295.65 348.01V374.24M299.54 356.63V373.33M303.43 352.19V375.29M307.33 356.63V375.94M311.22 344.23V375.29M315.11 354.15V375.94M319.00 357.54V375.29" stroke="#666" stroke-width="0.7" fill="none"/>
<path d="M227.84 372.16h3.27V407.00h-3.27zM231.73 375.29h3.27V407.00h-3.27zM235.63 374.24h3.27V407.00h-3.27zM239.52 375.94h3.27V407.00h-3.27zM243.41 372.16h3.27V407.00h-3.27zM247.30 370.46h3.27V407.00h-3.27zM251.20 373.33h3.27V407.00h-3.27zM255.09 370.85h3.27V407.00h-3.27zM258.98 376.20h3.27V407.00h-3.27zM262.87 374.24h3.27V407.00h-3.27zM266.77 375.29h3.27V407.00h-3.27zM270.66 376.59h3.27V407.00h-3.27zM274.55 375.29h3.27V407.00h-3.27zM278.44 376.20h3.27V407.00h-3.27zM282.34 373.33h3.27V407.00h-3.27zM286.23 370.85h3.27V407.00h-3.27zM290.12 375.94h3.27V407.00h-3.27zM294.01 374.24h3.27V407.00h-3.27zM297.91 373.33h3.27V407.00h-3.27zM301.80 375.29h3.27V407.00h-3.27zM305.69 375.94h3.27V407.00h-3.27zM309.58 375.29h3.27V407.00h-3.27zM313.48 375.94h3.27V407.00h-3.27zM317.37 375.29h3.27V407.00h-3.27z" fill="#53B400" stroke="#5e5e5e" stroke-width="0.55"/>
<path d="M227.84 379.46h3.27M235.63 381.29h3.27M243.41 379.46h3.27M247.30 379.99h3.27M251.20 381.94h3.27M255.09 379.99h3.27M262.87 382.20h3.27M282.34 379.07h3.27M286.23 379.46h3.27M294.01 381.29h3.27M297.91 380.38h3.27" stroke="#444" stroke-width="0.9" fill="none"/>
</g>
<rect x="227.14" y="312.5" width="94.2" height="98.80" fill="none" stroke="#8a8a8a" stroke-width="0.9"/>
<text x="274.24" y="309.90" font-size="6.9" font-weight="bold" text-anchor="middle" fill="#1a1a1a">CD4 T cells</text>
<rect x="323.61" y="302.5" width="94.2" height="10.00" fill="#d9d9d9" stroke="#8a8a8a" stroke-width="0.9"/>
<rect x="323.61" y="312.5" width="94.2" height="98.80" fill="#fff"/>
<path d="M323.61 393.95H417.81M323.61 367.85H417.81M323.61 341.75H417.81M323.61 315.65H417.81" stroke="#f4f4f4" stroke-width="0.4" fill="none"/>
<path d="M323.61 407.00H417.81M323.61 380.90H417.81M323.61 354.80H417.81M323.61 328.70H417.81M325.95 312.5V411.3M329.84 312.5V411.3M333.73 312.5V411.3M337.62 312.5V411.3M341.52 312.5V411.3M345.41 312.5V411.3M349.30 312.5V411.3M353.19 312.5V411.3M357.09 312.5V411.3M360.98 312.5V411.3M364.87 312.5V411.3M368.76 312.5V411.3M372.66 312.5V411.3M376.55 312.5V411.3M380.44 312.5V411.3M384.33 312.5V411.3M388.23 312.5V411.3M392.12 312.5V411.3M396.01 312.5V411.3M399.90 312.5V411.3M403.80 312.5V411.3M407.69 312.5V411.3M411.58 312.5V411.3M415.47 312.5V411.3" stroke="#ebebeb" stroke-width="0.6" fill="none"/>
<clipPath id="cb13"><rect x="323.61" y="312.5" width="94.2" height="98.80"/></clipPath>
<g clip-path="url(#cb13)">
<path d="M325.95 358.06V372.42M329.84 357.02V374.64M333.73 357.02V374.24M337.62 356.11V375.29M341.52 356.11V373.33M345.41 356.11V374.24M349.30 363.28V375.68M353.19 361.72V372.81M357.09 350.88V373.33M360.98 359.76V372.81M364.87 357.02V378.42M368.76 362.24V373.72M372.66 356.24V371.24M376.55 350.88V373.72M380.44 350.88V369.29M384.33 350.88V366.55M384.33 393.30V407.00M388.23 357.02V375.29M392.12 355.58V373.72M396.01 358.85V374.24M399.90 359.76V372.42M403.80 362.24V376.20M407.69 360.93V373.72M411.58 357.02V375.29M415.47 355.06V373.33" stroke="#666" stroke-width="0.7" fill="none"/>
<path d="M324.31 372.42h3.27V407.00h-3.27zM328.20 374.64h3.27V407.00h-3.27zM332.10 374.24h3.27V407.00h-3.27zM335.99 375.29h3.27V407.00h-3.27zM339.88 373.33h3.27V407.00h-3.27zM343.77 374.24h3.27V407.00h-3.27zM347.67 375.68h3.27V407.00h-3.27zM351.56 372.81h3.27V407.00h-3.27zM355.45 373.33h3.27V407.00h-3.27zM359.34 372.81h3.27V407.00h-3.27zM363.24 378.42h3.27V407.00h-3.27zM367.13 373.72h3.27V407.00h-3.27zM371.02 371.24h3.27V407.00h-3.27zM374.91 373.72h3.27V407.00h-3.27zM378.81 369.29h3.27V407.00h-3.27zM382.70 366.55h3.27V393.30h-3.27zM386.59 375.29h3.27V407.00h-3.27zM390.48 373.72h3.27V407.00h-3.27zM394.38 374.24h3.27V407.00h-3.27zM398.27 372.42h3.27V407.00h-3.27zM402.16 376.20h3.27V407.00h-3.27zM406.05 373.72h3.27V407.00h-3.27zM409.95 375.29h3.27V407.00h-3.27zM413.84 373.33h3.27V407.00h-3.27z" fill="#00C094" stroke="#5e5e5e" stroke-width="0.55"/>
<path d="M324.31 377.51h3.27M328.20 379.46h3.27M335.99 382.20h3.27M378.81 377.12h3.27M382.70 374.24h3.27" stroke="#444" stroke-width="0.9" fill="none"/>
</g>
<rect x="323.61" y="312.5" width="94.2" height="98.80" fill="none" stroke="#8a8a8a" stroke-width="0.9"/>
<text x="370.71" y="309.90" font-size="6.9" font-weight="bold" text-anchor="middle" fill="#1a1a1a">CD8 T cells</text>
<rect x="420.08" y="302.5" width="94.2" height="10.00" fill="#d9d9d9" stroke="#8a8a8a" stroke-width="0.9"/>
<rect x="420.08" y="312.5" width="94.2" height="98.80" fill="#fff"/>
<path d="M420.08 393.95H514.28M420.08 367.85H514.28M420.08 341.75H514.28M420.08 315.65H514.28" stroke="#f4f4f4" stroke-width="0.4" fill="none"/>
<path d="M420.08 407.00H514.28M420.08 380.90H514.28M420.08 354.80H514.28M420.08 328.70H514.28M422.42 312.5V411.3M426.31 312.5V411.3M430.20 312.5V411.3M434.09 312.5V411.3M437.99 312.5V411.3M441.88 312.5V411.3M445.77 312.5V411.3M449.66 312.5V411.3M453.56 312.5V411.3M457.45 312.5V411.3M461.34 312.5V411.3M465.23 312.5V411.3M469.13 312.5V411.3M473.02 312.5V411.3M476.91 312.5V411.3M480.80 312.5V411.3M484.70 312.5V411.3M488.59 312.5V411.3M492.48 312.5V411.3M496.37 312.5V411.3M500.27 312.5V411.3M504.16 312.5V411.3M508.05 312.5V411.3M511.94 312.5V411.3" stroke="#ebebeb" stroke-width="0.6" fill="none"/>
<clipPath id="cb14"><rect x="420.08" y="312.5" width="94.2" height="98.80"/></clipPath>
<g clip-path="url(#cb14)">
<path d="M422.42 365.24V367.98M422.42 372.81V376.59M426.31 357.15V366.68M426.31 380.38V390.82M430.20 354.15V364.20M430.20 372.81V376.59M434.09 367.07V373.33M434.09 388.99V407.00M437.99 357.54V364.20M437.99 376.99V390.82M441.88 358.06V370.46M441.88 385.73V407.00M445.77 359.76V366.15M445.77 373.72V378.42M449.66 362.24V367.07M449.66 373.72V376.99M453.56 360.41V364.72M453.56 382.20V407.00M457.45 361.72V364.59M457.45 376.59V381.29M461.34 367.98V370.85M461.34 376.99V381.29M465.23 360.93V366.15M465.23 380.77V383.25M469.13 357.54V368.89M469.13 382.20V384.55M473.02 359.76V368.89M473.02 376.59V380.38M476.91 357.02V367.59M476.91 375.29V378.42M480.80 357.54V375.29M480.80 388.60V407.00M484.70 357.15V367.07M484.70 386.12V407.00M488.59 357.15V363.80M488.59 372.42V375.29M492.48 348.93V368.63M496.37 355.06V364.59M496.37 375.68V390.82M500.27 355.06V370.85M500.27 386.64V407.00M504.16 357.54V361.72M504.16 371.76V375.68M508.05 360.93V368.89M508.05 382.86V385.08M511.94 362.24V371.24" stroke="#666" stroke-width="0.7" fill="none"/>
<path d="M420.78 367.98h3.27V372.81h-3.27zM424.67 366.68h3.27V380.38h-3.27zM428.57 364.20h3.27V372.81h-3.27zM432.46 373.33h3.27V388.99h-3.27zM436.35 364.20h3.27V376.99h-3.27zM440.24 370.46h3.27V385.73h-3.27zM444.14 366.15h3.27V373.72h-3.27zM448.03 367.07h3.27V373.72h-3.27zM451.92 364.72h3.27V382.20h-3.27zM455.81 364.59h3.27V376.59h-3.27zM459.71 370.85h3.27V376.99h-3.27zM463.60 366.15h3.27V380.77h-3.27zM467.49 368.89h3.27V382.20h-3.27zM471.38 368.89h3.27V376.59h-3.27zM475.28 367.59h3.27V375.29h-3.27zM479.17 375.29h3.27V388.60h-3.27zM483.06 367.07h3.27V386.12h-3.27zM486.95 363.80h3.27V372.42h-3.27zM490.85 368.63h3.27V407.00h-3.27zM494.74 364.59h3.27V375.68h-3.27zM498.63 370.85h3.27V386.64h-3.27zM502.52 361.72h3.27V371.76h-3.27zM506.42 368.89h3.27V382.86h-3.27zM510.31 371.24h3.27V407.00h-3.27z" fill="#00B6EB" stroke="#5e5e5e" stroke-width="0.55"/>
<path d="M420.78 370.85h3.27M424.67 373.33h3.27M428.57 367.07h3.27M432.46 378.42h3.27M436.35 372.42h3.27M440.24 374.64h3.27M444.14 367.98h3.27M448.03 369.55h3.27M451.92 370.46h3.27M455.81 374.24h3.27M459.71 374.24h3.27M463.60 373.72h3.27M467.49 376.59h3.27M471.38 371.76h3.27M475.28 370.46h3.27M479.17 380.38h3.27M483.06 373.72h3.27M486.95 367.98h3.27M490.85 375.29h3.27M494.74 369.55h3.27M498.63 377.12h3.27M502.52 366.15h3.27M506.42 375.68h3.27M510.31 379.07h3.27" stroke="#444" stroke-width="0.9" fill="none"/>
<g fill="#000"><circle cx="422.42" cy="360.80" r="0.64"/><circle cx="422.42" cy="407.00" r="0.64"/><circle cx="426.31" cy="407.00" r="0.64"/><circle cx="430.20" cy="391.34" r="0.64"/><circle cx="430.20" cy="407.00" r="0.64"/><circle cx="437.99" cy="407.00" r="0.64"/><circle cx="445.77" cy="407.00" r="0.64"/><circle cx="449.66" cy="386.64" r="0.64"/><circle cx="461.34" cy="391.21" r="0.64"/><circle cx="461.34" cy="407.00" r="0.64"/><circle cx="465.23" cy="407.00" r="0.64"/><circle cx="469.13" cy="407.00" r="0.64"/><circle cx="473.02" cy="389.90" r="0.64"/><circle cx="473.02" cy="407.00" r="0.64"/><circle cx="476.91" cy="387.03" r="0.64"/><circle cx="476.91" cy="407.00" r="0.64"/><circle cx="480.80" cy="351.28" r="0.64"/><circle cx="496.37" cy="407.00" r="0.64"/><circle cx="504.16" cy="344.75" r="0.64"/><circle cx="504.16" cy="407.00" r="0.64"/><circle cx="508.05" cy="407.00" r="0.64"/></g>
</g>
<rect x="420.08" y="312.5" width="94.2" height="98.80" fill="none" stroke="#8a8a8a" stroke-width="0.9"/>
<text x="467.18" y="309.90" font-size="6.9" font-weight="bold" text-anchor="middle" fill="#1a1a1a">Dendritic cells</text>
<rect x="516.55" y="302.5" width="94.2" height="10.00" fill="#d9d9d9" stroke="#8a8a8a" stroke-width="0.9"/>
<rect x="516.55" y="312.5" width="94.2" height="98.80" fill="#fff"/>
<path d="M516.55 393.95H610.75M516.55 367.85H610.75M516.55 341.75H610.75M516.55 315.65H610.75" stroke="#f4f4f4" stroke-width="0.4" fill="none"/>
<path d="M516.55 407.00H610.75M516.55 380.90H610.75M516.55 354.80H610.75M516.55 328.70H610.75M518.89 312.5V411.3M522.78 312.5V411.3M526.67 312.5V411.3M530.56 312.5V411.3M534.46 312.5V411.3M538.35 312.5V411.3M542.24 312.5V411.3M546.13 312.5V411.3M550.03 312.5V411.3M553.92 312.5V411.3M557.81 312.5V411.3M561.70 312.5V411.3M565.60 312.5V411.3M569.49 312.5V411.3M573.38 312.5V411.3M577.27 312.5V411.3M581.17 312.5V411.3M585.06 312.5V411.3M588.95 312.5V411.3M592.84 312.5V411.3M596.74 312.5V411.3M600.63 312.5V411.3M604.52 312.5V411.3M608.41 312.5V411.3" stroke="#ebebeb" stroke-width="0.6" fill="none"/>
<clipPath id="cb15"><rect x="516.55" y="312.5" width="94.2" height="98.80"/></clipPath>
<g clip-path="url(#cb15)">
<path d="M518.89 363.28V373.33M518.89 386.12V387.95M522.78 363.67V375.29M522.78 389.25V407.00M526.67 358.85V371.76M526.67 386.12V407.00M530.56 359.76V376.59M534.46 356.11V374.24M534.46 387.03V388.99M538.35 360.02V375.68M542.24 365.24V376.59M546.13 363.67V375.94M550.03 336.01V369.94M553.92 361.32V374.64M553.92 385.08V387.03M557.81 366.68V374.24M557.81 390.30V407.00M561.70 355.06V373.33M565.60 360.93V369.94M569.49 359.50V369.94M569.49 382.20V385.08M573.38 359.11V372.16M573.38 385.08V391.73M577.27 365.24V374.64M581.17 358.06V365.24M581.17 381.29V384.16M585.06 359.11V370.46M585.06 387.03V407.00M588.95 356.63V375.68M588.95 391.73V407.00M592.84 361.32V375.03M592.84 387.03V388.99M596.74 353.10V377.51M600.63 359.76V371.24M604.52 360.02V369.29M604.52 381.29V384.16M608.41 359.76V370.46M608.41 381.94V383.25" stroke="#666" stroke-width="0.7" fill="none"/>
<path d="M517.25 373.33h3.27V386.12h-3.27zM521.14 375.29h3.27V389.25h-3.27zM525.04 371.76h3.27V386.12h-3.27zM528.93 376.59h3.27V407.00h-3.27zM532.82 374.24h3.27V387.03h-3.27zM536.71 375.68h3.27V407.00h-3.27zM540.61 376.59h3.27V407.00h-3.27zM544.50 375.94h3.27V407.00h-3.27zM548.39 369.94h3.27V407.00h-3.27zM552.28 374.64h3.27V385.08h-3.27zM556.18 374.24h3.27V390.30h-3.27zM560.07 373.33h3.27V407.00h-3.27zM563.96 369.94h3.27V407.00h-3.27zM567.85 369.94h3.27V382.20h-3.27zM571.75 372.16h3.27V385.08h-3.27zM575.64 374.64h3.27V407.00h-3.27zM579.53 365.24h3.27V381.29h-3.27zM583.42 370.46h3.27V387.03h-3.27zM587.32 375.68h3.27V391.73h-3.27zM591.21 375.03h3.27V387.03h-3.27zM595.10 377.51h3.27V407.00h-3.27zM598.99 371.24h3.27V407.00h-3.27zM602.89 369.29h3.27V381.29h-3.27zM606.78 370.46h3.27V381.94h-3.27z" fill="#A58AFF" stroke="#5e5e5e" stroke-width="0.55"/>
<path d="M517.25 379.46h3.27M521.14 379.99h3.27M525.04 378.42h3.27M528.93 384.55h3.27M532.82 380.38h3.27M536.71 380.77h3.27M540.61 387.95h3.27M544.50 382.86h3.27M548.39 376.99h3.27M552.28 379.07h3.27M556.18 379.99h3.27M560.07 379.46h3.27M563.96 376.99h3.27M567.85 375.68h3.27M571.75 379.46h3.27M575.64 384.16h3.27M579.53 375.29h3.27M583.42 376.99h3.27M587.32 380.90h3.27M591.21 380.38h3.27M595.10 384.16h3.27M598.99 376.20h3.27M602.89 376.20h3.27M606.78 375.29h3.27" stroke="#444" stroke-width="0.9" fill="none"/>
<g fill="#000"><circle cx="518.89" cy="407.00" r="0.64"/><circle cx="534.46" cy="407.00" r="0.64"/><circle cx="553.92" cy="357.54" r="0.64"/><circle cx="553.92" cy="407.00" r="0.64"/><circle cx="569.49" cy="407.00" r="0.64"/><circle cx="573.38" cy="407.00" r="0.64"/><circle cx="581.17" cy="407.00" r="0.64"/><circle cx="592.84" cy="407.00" r="0.64"/><circle cx="604.52" cy="348.93" r="0.64"/><circle cx="604.52" cy="407.00" r="0.64"/><circle cx="608.41" cy="407.00" r="0.64"/></g>
</g>
<rect x="516.55" y="312.5" width="94.2" height="98.80" fill="none" stroke="#8a8a8a" stroke-width="0.9"/>
<text x="563.65" y="309.90" font-size="6.9" font-weight="bold" text-anchor="middle" fill="#1a1a1a">FCGR3A+ Monocytes</text>
<rect x="613.02" y="302.5" width="94.2" height="10.00" fill="#d9d9d9" stroke="#8a8a8a" stroke-width="0.9"/>
<rect x="613.02" y="312.5" width="94.2" height="98.80" fill="#fff"/>
<path d="M613.02 393.95H707.22M613.02 367.85H707.22M613.02 341.75H707.22M613.02 315.65H707.22" stroke="#f4f4f4" stroke-width="0.4" fill="none"/>
<path d="M613.02 407.00H707.22M613.02 380.90H707.22M613.02 354.80H707.22M613.02 328.70H707.22M615.36 312.5V411.3M619.25 312.5V411.3M623.14 312.5V411.3M627.03 312.5V411.3M630.93 312.5V411.3M634.82 312.5V411.3M638.71 312.5V411.3M642.60 312.5V411.3M646.50 312.5V411.3M650.39 312.5V411.3M654.28 312.5V411.3M658.17 312.5V411.3M662.07 312.5V411.3M665.96 312.5V411.3M669.85 312.5V411.3M673.74 312.5V411.3M677.64 312.5V411.3M681.53 312.5V411.3M685.42 312.5V411.3M689.31 312.5V411.3M693.21 312.5V411.3M697.10 312.5V411.3M700.99 312.5V411.3M704.88 312.5V411.3" stroke="#ebebeb" stroke-width="0.6" fill="none"/>
<clipPath id="cb16"><rect x="613.02" y="312.5" width="94.2" height="98.80"/></clipPath>
<g clip-path="url(#cb16)">
<path d="M615.36 358.06V372.42M619.25 359.11V371.76M623.14 353.36V374.24M627.03 357.02V374.24M630.93 357.02V374.24M634.82 357.54V374.24M638.71 359.11V370.85M642.60 356.24V374.64M646.50 348.01V371.37M650.39 357.02V369.55M654.28 358.06V373.33M658.17 328.96V369.94M662.07 355.58V371.37M665.96 326.09V373.72M669.85 357.02V374.24M673.74 359.11V374.24M677.64 352.19V369.29M681.53 351.80V372.42M685.42 352.19V375.68M689.31 359.50V371.37M693.21 356.11V373.72M697.10 352.19V369.55M700.99 349.97V371.76M704.88 352.19V370.46" stroke="#666" stroke-width="0.7" fill="none"/>
<path d="M613.72 372.42h3.27V407.00h-3.27zM617.61 371.76h3.27V407.00h-3.27zM621.51 374.24h3.27V407.00h-3.27zM625.40 374.24h3.27V407.00h-3.27zM629.29 374.24h3.27V407.00h-3.27zM633.18 374.24h3.27V407.00h-3.27zM637.08 370.85h3.27V407.00h-3.27zM640.97 374.64h3.27V407.00h-3.27zM644.86 371.37h3.27V407.00h-3.27zM648.75 369.55h3.27V407.00h-3.27zM652.65 373.33h3.27V407.00h-3.27zM656.54 369.94h3.27V407.00h-3.27zM660.43 371.37h3.27V407.00h-3.27zM664.32 373.72h3.27V407.00h-3.27zM668.22 374.24h3.27V407.00h-3.27zM672.11 374.24h3.27V407.00h-3.27zM676.00 369.29h3.27V407.00h-3.27zM679.89 372.42h3.27V407.00h-3.27zM683.79 375.68h3.27V407.00h-3.27zM687.68 371.37h3.27V407.00h-3.27zM691.57 373.72h3.27V407.00h-3.27zM695.46 369.55h3.27V407.00h-3.27zM699.36 371.76h3.27V407.00h-3.27zM703.25 370.46h3.27V407.00h-3.27z" fill="#FB61D7" stroke="#5e5e5e" stroke-width="0.55"/>
<path d="M617.61 378.03h3.27M625.40 384.55h3.27M637.08 378.03h3.27M648.75 374.24h3.27M652.65 392.78h3.27" stroke="#444" stroke-width="0.9" fill="none"/>
</g>
<rect x="613.02" y="312.5" width="94.2" height="98.80" fill="none" stroke="#8a8a8a" stroke-width="0.9"/>
<text x="660.12" y="309.90" font-size="6.9" font-weight="bold" text-anchor="middle" fill="#1a1a1a">NK cells</text>
<text x="34.0" y="427.8" font-size="9.4" font-weight="bold" text-anchor="start" fill="#000">CXCR4</text>
<text x="26.2" y="491.75" font-size="7.7" font-weight="bold" text-anchor="middle" fill="#000" transform="rotate(-90 26.2 491.75)">log(10k+1)</text>
<text x="370.7" y="549.60" font-size="7.7" font-weight="bold" text-anchor="middle" fill="#000">Samples</text>
<text x="31.60" y="538.90" font-size="5.2" font-weight="normal" text-anchor="end" fill="#333">0</text>
<text x="31.60" y="514.16" font-size="5.2" font-weight="normal" text-anchor="end" fill="#333">2</text>
<text x="31.60" y="489.42" font-size="5.2" font-weight="normal" text-anchor="end" fill="#333">4</text>
<text x="31.60" y="464.68" font-size="5.2" font-weight="normal" text-anchor="end" fill="#333">6</text>
<path d="M32.60 537.00h1.6M32.60 512.26h1.6M32.60 487.52h1.6M32.60 462.78h1.6" stroke="#555" stroke-width="0.5" fill="none"/>
<rect x="34.20" y="432.2" width="94.2" height="10.00" fill="#d9d9d9" stroke="#8a8a8a" stroke-width="0.9"/>
<rect x="34.20" y="442.2" width="94.2" height="99.10" fill="#fff"/>
<path d="M34.20 524.63H128.40M34.20 499.89H128.40M34.20 475.15H128.40M34.20 450.41H128.40" stroke="#f4f4f4" stroke-width="0.4" fill="none"/>
<path d="M34.20 537.00H128.40M34.20 512.26H128.40M34.20 487.52H128.40M34.20 462.78H128.40M36.54 442.2V541.3M40.43 442.2V541.3M44.32 442.2V541.3M48.21 442.2V541.3M52.11 442.2V541.3M56.00 442.2V541.3M59.89 442.2V541.3M63.78 442.2V541.3M67.68 442.2V541.3M71.57 442.2V541.3M75.46 442.2V541.3M79.35 442.2V541.3M83.25 442.2V541.3M87.14 442.2V541.3M91.03 442.2V541.3M94.92 442.2V541.3M98.82 442.2V541.3M102.71 442.2V541.3M106.60 442.2V541.3M110.49 442.2V541.3M114.39 442.2V541.3M118.28 442.2V541.3M122.17 442.2V541.3M126.06 442.2V541.3" stroke="#ebebeb" stroke-width="0.6" fill="none"/>
<clipPath id="cb20"><rect x="34.20" y="442.2" width="94.2" height="99.10"/></clipPath>
<g clip-path="url(#cb20)">
<path d="M36.54 476.63V486.90M36.54 498.53V510.40M40.43 478.00V490.37M40.43 505.58V512.26M44.32 476.14V489.00M44.32 500.51V515.11M48.21 477.01V491.73M48.21 507.06V520.80M52.11 477.38V488.14M52.11 505.21V517.95M56.00 475.15V489.75M56.00 505.21V516.09M59.89 482.20V489.00M59.89 501.25V514.49M63.78 481.21V494.20M67.68 480.47V491.35M67.68 504.59V514.49M71.57 481.21V490.37M71.57 499.27V509.41M75.46 476.63V492.72M75.46 532.30V537.00M79.35 475.15V490.74M79.35 505.21V511.27M83.25 468.10V486.53M83.25 504.22V522.77M87.14 472.30V485.66M87.14 504.22V522.77M91.03 478.98V490.37M91.03 510.40V537.00M94.92 476.63V491.35M98.82 465.25V490.37M102.71 474.16V489.00M102.71 504.59V523.64M106.60 477.01V489.99M106.60 507.06V519.93M110.49 476.63V489.00M110.49 505.58V516.09M114.39 476.63V492.22M118.28 464.64V489.00M118.28 516.59V537.00M122.17 471.32V490.37M122.17 508.43V511.27M126.06 476.63V488.14M126.06 504.22V506.57" stroke="#666" stroke-width="0.7" fill="none"/>
<path d="M34.90 486.90h3.27V498.53h-3.27zM38.79 490.37h3.27V505.58h-3.27zM42.69 489.00h3.27V500.51h-3.27zM46.58 491.73h3.27V507.06h-3.27zM50.47 488.14h3.27V505.21h-3.27zM54.36 489.75h3.27V505.21h-3.27zM58.26 489.00h3.27V501.25h-3.27zM62.15 494.20h3.27V537.00h-3.27zM66.04 491.35h3.27V504.59h-3.27zM69.93 490.37h3.27V499.27h-3.27zM73.83 492.72h3.27V532.30h-3.27zM77.72 490.74h3.27V505.21h-3.27zM81.61 486.53h3.27V504.22h-3.27zM85.50 485.66h3.27V504.22h-3.27zM89.40 490.37h3.27V510.40h-3.27zM93.29 491.35h3.27V537.00h-3.27zM97.18 490.37h3.27V537.00h-3.27zM101.07 489.00h3.27V504.59h-3.27zM104.97 489.99h3.27V507.06h-3.27zM108.86 489.00h3.27V505.58h-3.27zM112.75 492.22h3.27V537.00h-3.27zM116.64 489.00h3.27V516.59h-3.27zM120.54 490.37h3.27V508.43h-3.27zM124.43 488.14h3.27V504.22h-3.27z" fill="#F8766D" stroke="#5e5e5e" stroke-width="0.55"/>
<path d="M34.90 491.35h3.27M38.79 496.06h3.27M42.69 493.83h3.27M46.58 498.03h3.27M50.47 493.21h3.27M54.36 496.06h3.27M58.26 494.20h3.27M62.15 502.12h3.27M66.04 496.06h3.27M69.93 494.57h3.27M73.83 499.27h3.27M77.72 498.41h3.27M81.61 493.21h3.27M85.50 490.98h3.27M89.40 497.04h3.27M93.29 500.51h3.27M97.18 496.06h3.27M101.07 495.19h3.27M104.97 496.06h3.27M108.86 495.19h3.27M112.75 500.88h3.27M116.64 496.06h3.27M120.54 498.03h3.27M124.43 495.56h3.27" stroke="#444" stroke-width="0.9" fill="none"/>
<g fill="#000"><circle cx="36.54" cy="537.00" r="0.64"/><circle cx="40.43" cy="537.00" r="0.64"/><circle cx="44.32" cy="520.30" r="0.64"/><circle cx="44.32" cy="537.00" r="0.64"/><circle cx="48.21" cy="537.00" r="0.64"/><circle cx="52.11" cy="537.00" r="0.64"/><circle cx="56.00" cy="537.00" r="0.64"/><circle cx="59.89" cy="537.00" r="0.64"/><circle cx="67.68" cy="469.83" r="0.64"/><circle cx="67.68" cy="537.00" r="0.64"/><circle cx="71.57" cy="512.63" r="0.64"/><circle cx="71.57" cy="537.00" r="0.64"/><circle cx="79.35" cy="537.00" r="0.64"/><circle cx="83.25" cy="537.00" r="0.64"/><circle cx="87.14" cy="537.00" r="0.64"/><circle cx="102.71" cy="537.00" r="0.64"/><circle cx="106.60" cy="537.00" r="0.64"/><circle cx="110.49" cy="537.00" r="0.64"/><circle cx="122.17" cy="537.00" r="0.64"/><circle cx="126.06" cy="453.63" r="0.64"/><circle cx="126.06" cy="537.00" r="0.64"/></g>
</g>
<rect x="34.20" y="442.2" width="94.2" height="99.10" fill="none" stroke="#8a8a8a" stroke-width="0.9"/>
<text x="81.30" y="439.60" font-size="6.9" font-weight="bold" text-anchor="middle" fill="#1a1a1a">B cells</text>
<rect x="130.67" y="432.2" width="94.2" height="10.00" fill="#d9d9d9" stroke="#8a8a8a" stroke-width="0.9"/>
<rect x="130.67" y="442.2" width="94.2" height="99.10" fill="#fff"/>
<path d="M130.67 524.63H224.87M130.67 499.89H224.87M130.67 475.15H224.87M130.67 450.41H224.87" stroke="#f4f4f4" stroke-width="0.4" fill="none"/>
<path d="M130.67 537.00H224.87M130.67 512.26H224.87M130.67 487.52H224.87M130.67 462.78H224.87M133.01 442.2V541.3M136.90 442.2V541.3M140.79 442.2V541.3M144.68 442.2V541.3M148.58 442.2V541.3M152.47 442.2V541.3M156.36 442.2V541.3M160.25 442.2V541.3M164.15 442.2V541.3M168.04 442.2V541.3M171.93 442.2V541.3M175.82 442.2V541.3M179.72 442.2V541.3M183.61 442.2V541.3M187.50 442.2V541.3M191.39 442.2V541.3M195.29 442.2V541.3M199.18 442.2V541.3M203.07 442.2V541.3M206.96 442.2V541.3M210.86 442.2V541.3M214.75 442.2V541.3M218.64 442.2V541.3M222.53 442.2V541.3" stroke="#ebebeb" stroke-width="0.6" fill="none"/>
<clipPath id="cb21"><rect x="130.67" y="442.2" width="94.2" height="99.10"/></clipPath>
<g clip-path="url(#cb21)">
<path d="M133.01 495.19V513.25M140.79 490.37V514.12M148.58 478.98V511.27M156.36 495.19V511.27M168.04 499.27V516.59M183.61 493.21V514.73M187.50 491.73V514.12M195.29 486.90V508.80M199.18 489.00V516.09M206.96 493.21V515.11" stroke="#666" stroke-width="0.7" fill="none"/>
<path d="M131.37 513.25h3.27V537.00h-3.27zM139.16 514.12h3.27V537.00h-3.27zM146.94 511.27h3.27V537.00h-3.27zM154.73 511.27h3.27V537.00h-3.27zM166.40 516.59h3.27V537.00h-3.27zM181.97 514.73h3.27V537.00h-3.27zM185.87 514.12h3.27V537.00h-3.27zM193.65 508.80h3.27V537.00h-3.27zM197.54 516.09h3.27V537.00h-3.27zM205.33 515.11h3.27V537.00h-3.27z" fill="#C49A00" stroke="#5e5e5e" stroke-width="0.55"/>
<path d="M135.26 537.00h3.27M143.05 537.00h3.27M150.83 537.00h3.27M158.62 537.00h3.27M162.51 537.00h3.27M170.30 537.00h3.27M174.19 537.00h3.27M178.08 537.00h3.27M189.76 537.00h3.27M201.44 537.00h3.27M209.22 537.00h3.27M213.11 537.00h3.27M217.01 537.00h3.27M220.90 537.00h3.27" stroke="#6e6e6e" stroke-width="1.5" fill="none"/>
<g fill="#000"><circle cx="136.90" cy="491.73" r="0.64"/><circle cx="136.90" cy="495.56" r="0.64"/><circle cx="136.90" cy="499.27" r="0.64"/><circle cx="136.90" cy="501.75" r="0.64"/><circle cx="136.90" cy="521.78" r="0.64"/><circle cx="136.90" cy="520.64" r="0.64"/><circle cx="136.90" cy="519.49" r="0.64"/><circle cx="136.90" cy="518.35" r="0.64"/><circle cx="136.90" cy="517.20" r="0.64"/><circle cx="136.90" cy="516.05" r="0.64"/><circle cx="136.90" cy="514.91" r="0.64"/><circle cx="136.90" cy="513.76" r="0.64"/><circle cx="136.90" cy="512.61" r="0.64"/><circle cx="136.90" cy="511.47" r="0.64"/><circle cx="136.90" cy="510.32" r="0.64"/><circle cx="136.90" cy="509.18" r="0.64"/><circle cx="136.90" cy="508.03" r="0.64"/><circle cx="136.90" cy="506.88" r="0.64"/><circle cx="136.90" cy="505.74" r="0.64"/><circle cx="136.90" cy="504.59" r="0.64"/><circle cx="144.68" cy="490.37" r="0.64"/><circle cx="144.68" cy="493.21" r="0.64"/><circle cx="144.68" cy="495.19" r="0.64"/><circle cx="144.68" cy="497.04" r="0.64"/><circle cx="144.68" cy="499.27" r="0.64"/><circle cx="144.68" cy="501.75" r="0.64"/><circle cx="144.68" cy="524.63" r="0.64"/><circle cx="144.68" cy="523.47" r="0.64"/><circle cx="144.68" cy="522.31" r="0.64"/><circle cx="144.68" cy="521.15" r="0.64"/><circle cx="144.68" cy="519.98" r="0.64"/><circle cx="144.68" cy="518.82" r="0.64"/><circle cx="144.68" cy="517.66" r="0.64"/><circle cx="144.68" cy="516.50" r="0.64"/><circle cx="144.68" cy="515.34" r="0.64"/><circle cx="144.68" cy="514.18" r="0.64"/><circle cx="144.68" cy="513.02" r="0.64"/><circle cx="144.68" cy="511.85" r="0.64"/><circle cx="144.68" cy="510.69" r="0.64"/><circle cx="144.68" cy="509.53" r="0.64"/><circle cx="144.68" cy="508.37" r="0.64"/><circle cx="144.68" cy="507.21" r="0.64"/><circle cx="144.68" cy="506.05" r="0.64"/><circle cx="144.68" cy="504.89" r="0.64"/><circle cx="144.68" cy="503.72" r="0.64"/><circle cx="152.47" cy="519.93" r="0.64"/><circle cx="152.47" cy="518.76" r="0.64"/><circle cx="152.47" cy="517.59" r="0.64"/><circle cx="152.47" cy="516.42" r="0.64"/><circle cx="152.47" cy="515.25" r="0.64"/><circle cx="152.47" cy="514.08" r="0.64"/><circle cx="152.47" cy="512.91" r="0.64"/><circle cx="152.47" cy="511.74" r="0.64"/><circle cx="152.47" cy="510.57" r="0.64"/><circle cx="152.47" cy="509.40" r="0.64"/><circle cx="152.47" cy="508.23" r="0.64"/><circle cx="152.47" cy="507.06" r="0.64"/><circle cx="152.47" cy="505.90" r="0.64"/><circle cx="152.47" cy="504.73" r="0.64"/><circle cx="152.47" cy="503.56" r="0.64"/><circle cx="152.47" cy="502.39" r="0.64"/><circle cx="152.47" cy="501.22" r="0.64"/><circle cx="152.47" cy="500.05" r="0.64"/><circle cx="152.47" cy="498.88" r="0.64"/><circle cx="152.47" cy="497.71" r="0.64"/><circle cx="152.47" cy="496.54" r="0.64"/><circle cx="152.47" cy="495.37" r="0.64"/><circle cx="152.47" cy="494.20" r="0.64"/><circle cx="160.25" cy="491.73" r="0.64"/><circle cx="160.25" cy="500.88" r="0.64"/><circle cx="160.25" cy="522.77" r="0.64"/><circle cx="160.25" cy="521.65" r="0.64"/><circle cx="160.25" cy="520.53" r="0.64"/><circle cx="160.25" cy="519.41" r="0.64"/><circle cx="160.25" cy="518.29" r="0.64"/><circle cx="160.25" cy="517.17" r="0.64"/><circle cx="160.25" cy="516.05" r="0.64"/><circle cx="160.25" cy="514.93" r="0.64"/><circle cx="160.25" cy="513.81" r="0.64"/><circle cx="160.25" cy="512.69" r="0.64"/><circle cx="160.25" cy="511.57" r="0.64"/><circle cx="160.25" cy="510.45" r="0.64"/><circle cx="160.25" cy="509.33" r="0.64"/><circle cx="160.25" cy="508.21" r="0.64"/><circle cx="160.25" cy="507.09" r="0.64"/><circle cx="160.25" cy="505.97" r="0.64"/><circle cx="160.25" cy="504.85" r="0.64"/><circle cx="160.25" cy="503.72" r="0.64"/><circle cx="164.15" cy="466.61" r="0.64"/><circle cx="164.15" cy="485.66" r="0.64"/><circle cx="164.15" cy="489.00" r="0.64"/><circle cx="164.15" cy="516.09" r="0.64"/><circle cx="164.15" cy="514.96" r="0.64"/><circle cx="164.15" cy="513.82" r="0.64"/><circle cx="164.15" cy="512.68" r="0.64"/><circle cx="164.15" cy="511.55" r="0.64"/><circle cx="164.15" cy="510.41" r="0.64"/><circle cx="164.15" cy="509.27" r="0.64"/><circle cx="164.15" cy="508.14" r="0.64"/><circle cx="164.15" cy="507.00" r="0.64"/><circle cx="164.15" cy="505.86" r="0.64"/><circle cx="164.15" cy="504.73" r="0.64"/><circle cx="164.15" cy="503.59" r="0.64"/><circle cx="164.15" cy="502.45" r="0.64"/><circle cx="164.15" cy="501.32" r="0.64"/><circle cx="164.15" cy="500.18" r="0.64"/><circle cx="164.15" cy="499.04" r="0.64"/><circle cx="164.15" cy="497.90" r="0.64"/><circle cx="164.15" cy="496.77" r="0.64"/><circle cx="164.15" cy="495.63" r="0.64"/><circle cx="164.15" cy="494.49" r="0.64"/><circle cx="164.15" cy="493.36" r="0.64"/><circle cx="164.15" cy="492.22" r="0.64"/><circle cx="171.93" cy="496.67" r="0.64"/><circle cx="171.93" cy="501.75" r="0.64"/><circle cx="171.93" cy="505.58" r="0.64"/><circle cx="171.93" cy="507.56" r="0.64"/><circle cx="171.93" cy="509.41" r="0.64"/><circle cx="171.93" cy="511.27" r="0.64"/><circle cx="171.93" cy="513.25" r="0.64"/><circle cx="171.93" cy="515.11" r="0.64"/><circle cx="171.93" cy="524.26" r="0.64"/><circle cx="175.82" cy="489.00" r="0.64"/><circle cx="175.82" cy="516.09" r="0.64"/><circle cx="175.82" cy="514.97" r="0.64"/><circle cx="175.82" cy="513.85" r="0.64"/><circle cx="175.82" cy="512.73" r="0.64"/><circle cx="175.82" cy="511.61" r="0.64"/><circle cx="175.82" cy="510.49" r="0.64"/><circle cx="175.82" cy="509.37" r="0.64"/><circle cx="175.82" cy="508.25" r="0.64"/><circle cx="175.82" cy="507.13" r="0.64"/><circle cx="175.82" cy="506.01" r="0.64"/><circle cx="175.82" cy="504.89" r="0.64"/><circle cx="175.82" cy="503.77" r="0.64"/><circle cx="175.82" cy="502.65" r="0.64"/><circle cx="175.82" cy="501.53" r="0.64"/><circle cx="175.82" cy="500.41" r="0.64"/><circle cx="175.82" cy="499.29" r="0.64"/><circle cx="175.82" cy="498.17" r="0.64"/><circle cx="175.82" cy="497.04" r="0.64"/><circle cx="179.72" cy="494.20" r="0.64"/><circle cx="179.72" cy="498.90" r="0.64"/><circle cx="179.72" cy="500.88" r="0.64"/><circle cx="179.72" cy="503.11" r="0.64"/><circle cx="179.72" cy="505.21" r="0.64"/><circle cx="179.72" cy="507.56" r="0.64"/><circle cx="179.72" cy="509.41" r="0.64"/><circle cx="179.72" cy="512.26" r="0.64"/><circle cx="179.72" cy="515.11" r="0.64"/><circle cx="179.72" cy="516.96" r="0.64"/><circle cx="191.39" cy="500.88" r="0.64"/><circle cx="191.39" cy="501.75" r="0.64"/><circle cx="191.39" cy="521.78" r="0.64"/><circle cx="191.39" cy="520.64" r="0.64"/><circle cx="191.39" cy="519.49" r="0.64"/><circle cx="191.39" cy="518.35" r="0.64"/><circle cx="191.39" cy="517.20" r="0.64"/><circle cx="191.39" cy="516.05" r="0.64"/><circle cx="191.39" cy="514.91" r="0.64"/><circle cx="191.39" cy="513.76" r="0.64"/><circle cx="191.39" cy="512.61" r="0.64"/><circle cx="191.39" cy="511.47" r="0.64"/><circle cx="191.39" cy="510.32" r="0.64"/><circle cx="191.39" cy="509.18" r="0.64"/><circle cx="191.39" cy="508.03" r="0.64"/><circle cx="191.39" cy="506.88" r="0.64"/><circle cx="191.39" cy="505.74" r="0.64"/><circle cx="191.39" cy="504.59" r="0.64"/><circle cx="195.29" cy="446.95" r="0.64"/><circle cx="203.07" cy="498.90" r="0.64"/><circle cx="203.07" cy="500.51" r="0.64"/><circle cx="203.07" cy="501.75" r="0.64"/><circle cx="203.07" cy="504.59" r="0.64"/><circle cx="203.07" cy="506.57" r="0.64"/><circle cx="203.07" cy="524.63" r="0.64"/><circle cx="203.07" cy="523.47" r="0.64"/><circle cx="203.07" cy="522.32" r="0.64"/><circle cx="203.07" cy="521.16" r="0.64"/><circle cx="203.07" cy="520.00" r="0.64"/><circle cx="203.07" cy="518.84" r="0.64"/><circle cx="203.07" cy="517.69" r="0.64"/><circle cx="203.07" cy="516.53" r="0.64"/><circle cx="203.07" cy="515.37" r="0.64"/><circle cx="203.07" cy="514.21" r="0.64"/><circle cx="203.07" cy="513.06" r="0.64"/><circle cx="203.07" cy="511.90" r="0.64"/><circle cx="203.07" cy="510.74" r="0.64"/><circle cx="203.07" cy="509.58" r="0.64"/><circle cx="203.07" cy="508.43" r="0.64"/><circle cx="210.86" cy="495.56" r="0.64"/><circle cx="210.86" cy="496.67" r="0.64"/><circle cx="210.86" cy="501.25" r="0.64"/><circle cx="210.86" cy="504.59" r="0.64"/><circle cx="210.86" cy="521.78" r="0.64"/><circle cx="210.86" cy="520.61" r="0.64"/><circle cx="210.86" cy="519.44" r="0.64"/><circle cx="210.86" cy="518.27" r="0.64"/><circle cx="210.86" cy="517.10" r="0.64"/><circle cx="210.86" cy="515.93" r="0.64"/><circle cx="210.86" cy="514.76" r="0.64"/><circle cx="210.86" cy="513.59" r="0.64"/><circle cx="210.86" cy="512.42" r="0.64"/><circle cx="210.86" cy="511.25" r="0.64"/><circle cx="210.86" cy="510.08" r="0.64"/><circle cx="210.86" cy="508.91" r="0.64"/><circle cx="210.86" cy="507.74" r="0.64"/><circle cx="210.86" cy="506.57" r="0.64"/><circle cx="210.86" cy="523.15" r="0.64"/><circle cx="214.75" cy="497.04" r="0.64"/><circle cx="214.75" cy="500.51" r="0.64"/><circle cx="214.75" cy="501.75" r="0.64"/><circle cx="214.75" cy="505.58" r="0.64"/><circle cx="214.75" cy="508.43" r="0.64"/><circle cx="214.75" cy="510.03" r="0.64"/><circle cx="214.75" cy="511.27" r="0.64"/><circle cx="214.75" cy="515.11" r="0.64"/><circle cx="214.75" cy="516.96" r="0.64"/><circle cx="214.75" cy="518.32" r="0.64"/><circle cx="218.64" cy="496.43" r="0.64"/><circle cx="218.64" cy="513.25" r="0.64"/><circle cx="218.64" cy="512.08" r="0.64"/><circle cx="218.64" cy="510.91" r="0.64"/><circle cx="218.64" cy="509.74" r="0.64"/><circle cx="218.64" cy="508.57" r="0.64"/><circle cx="218.64" cy="507.40" r="0.64"/><circle cx="218.64" cy="506.23" r="0.64"/><circle cx="218.64" cy="505.06" r="0.64"/><circle cx="218.64" cy="503.89" r="0.64"/><circle cx="218.64" cy="502.72" r="0.64"/><circle cx="218.64" cy="501.55" r="0.64"/><circle cx="218.64" cy="500.38" r="0.64"/><circle cx="218.64" cy="499.20" r="0.64"/><circle cx="218.64" cy="498.03" r="0.64"/><circle cx="218.64" cy="515.11" r="0.64"/><circle cx="222.53" cy="494.57" r="0.64"/><circle cx="222.53" cy="496.43" r="0.64"/><circle cx="222.53" cy="501.37" r="0.64"/><circle cx="222.53" cy="505.58" r="0.64"/><circle cx="222.53" cy="506.94" r="0.64"/><circle cx="222.53" cy="508.05" r="0.64"/><circle cx="222.53" cy="514.12" r="0.64"/><circle cx="222.53" cy="516.09" r="0.64"/></g>
</g>
<rect x="130.67" y="442.2" width="94.2" height="99.10" fill="none" stroke="#8a8a8a" stroke-width="0.9"/>
<text x="177.77" y="439.60" font-size="6.9" font-weight="bold" text-anchor="middle" fill="#1a1a1a">CD14+ Monocytes</text>
<rect x="227.14" y="432.2" width="94.2" height="10.00" fill="#d9d9d9" stroke="#8a8a8a" stroke-width="0.9"/>
<rect x="227.14" y="442.2" width="94.2" height="99.10" fill="#fff"/>
<path d="M227.14 524.63H321.34M227.14 499.89H321.34M227.14 475.15H321.34M227.14 450.41H321.34" stroke="#f4f4f4" stroke-width="0.4" fill="none"/>
<path d="M227.14 537.00H321.34M227.14 512.26H321.34M227.14 487.52H321.34M227.14 462.78H321.34M229.48 442.2V541.3M233.37 442.2V541.3M237.26 442.2V541.3M241.15 442.2V541.3M245.05 442.2V541.3M248.94 442.2V541.3M252.83 442.2V541.3M256.72 442.2V541.3M260.62 442.2V541.3M264.51 442.2V541.3M268.40 442.2V541.3M272.29 442.2V541.3M276.19 442.2V541.3M280.08 442.2V541.3M283.97 442.2V541.3M287.86 442.2V541.3M291.76 442.2V541.3M295.65 442.2V541.3M299.54 442.2V541.3M303.43 442.2V541.3M307.33 442.2V541.3M311.22 442.2V541.3M315.11 442.2V541.3M319.00 442.2V541.3" stroke="#ebebeb" stroke-width="0.6" fill="none"/>
<clipPath id="cb22"><rect x="227.14" y="442.2" width="94.2" height="99.10"/></clipPath>
<g clip-path="url(#cb22)">
<path d="M229.48 479.85V493.21M229.48 507.56V512.26M233.37 478.00V497.04M237.26 474.16V494.20M237.26 510.40V517.95M241.15 478.98V495.68M245.05 473.29V494.57M245.05 512.63V537.00M248.94 482.20V498.03M252.83 478.00V494.69M252.83 510.78V513.25M256.72 480.84V497.66M260.62 468.84V497.04M264.51 476.63V496.06M264.51 509.41V511.27M268.40 480.35V496.67M272.29 462.78V498.41M276.19 458.08V500.26M280.08 474.16V491.73M280.08 506.57V511.27M283.97 476.63V496.43M283.97 511.64V516.09M287.86 476.14V500.51M291.76 468.10V495.19M295.65 474.16V497.66M299.54 475.15V502.12M303.43 474.16V498.03M307.33 479.85V502.12M311.22 460.92V499.89M315.11 455.11V502.12M319.00 465.63V496.43" stroke="#666" stroke-width="0.7" fill="none"/>
<path d="M227.84 493.21h3.27V507.56h-3.27zM231.73 497.04h3.27V537.00h-3.27zM235.63 494.20h3.27V510.40h-3.27zM239.52 495.68h3.27V537.00h-3.27zM243.41 494.57h3.27V512.63h-3.27zM247.30 498.03h3.27V537.00h-3.27zM251.20 494.69h3.27V510.78h-3.27zM255.09 497.66h3.27V537.00h-3.27zM258.98 497.04h3.27V537.00h-3.27zM262.87 496.06h3.27V509.41h-3.27zM266.77 496.67h3.27V537.00h-3.27zM270.66 498.41h3.27V537.00h-3.27zM274.55 500.26h3.27V537.00h-3.27zM278.44 491.73h3.27V506.57h-3.27zM282.34 496.43h3.27V511.64h-3.27zM286.23 500.51h3.27V537.00h-3.27zM290.12 495.19h3.27V537.00h-3.27zM294.01 497.66h3.27V537.00h-3.27zM297.91 502.12h3.27V537.00h-3.27zM301.80 498.03h3.27V537.00h-3.27zM305.69 502.12h3.27V537.00h-3.27zM309.58 499.89h3.27V537.00h-3.27zM313.48 502.12h3.27V537.00h-3.27zM317.37 496.43h3.27V537.00h-3.27z" fill="#53B400" stroke="#5e5e5e" stroke-width="0.55"/>
<path d="M227.84 499.27h3.27M231.73 504.22h3.27M235.63 501.25h3.27M239.52 505.58h3.27M243.41 502.36h3.27M247.30 508.05h3.27M251.20 500.88h3.27M255.09 506.94h3.27M258.98 505.21h3.27M262.87 501.75h3.27M266.77 504.22h3.27M270.66 506.94h3.27M274.55 508.05h3.27M278.44 498.03h3.27M282.34 503.35h3.27M286.23 509.41h3.27M290.12 502.36h3.27M294.01 506.94h3.27M297.91 511.27h3.27M301.80 505.21h3.27M305.69 509.41h3.27M309.58 506.94h3.27M313.48 524.26h3.27M317.37 504.59h3.27" stroke="#444" stroke-width="0.9" fill="none"/>
<g fill="#000"><circle cx="229.48" cy="537.00" r="0.64"/><circle cx="237.26" cy="537.00" r="0.64"/><circle cx="252.83" cy="537.00" r="0.64"/><circle cx="264.51" cy="537.00" r="0.64"/><circle cx="280.08" cy="458.57" r="0.64"/><circle cx="280.08" cy="537.00" r="0.64"/><circle cx="283.97" cy="537.00" r="0.64"/></g>
</g>
<rect x="227.14" y="442.2" width="94.2" height="99.10" fill="none" stroke="#8a8a8a" stroke-width="0.9"/>
<text x="274.24" y="439.60" font-size="6.9" font-weight="bold" text-anchor="middle" fill="#1a1a1a">CD4 T cells</text>
<rect x="323.61" y="432.2" width="94.2" height="10.00" fill="#d9d9d9" stroke="#8a8a8a" stroke-width="0.9"/>
<rect x="323.61" y="442.2" width="94.2" height="99.10" fill="#fff"/>
<path d="M323.61 524.63H417.81M323.61 499.89H417.81M323.61 475.15H417.81M323.61 450.41H417.81" stroke="#f4f4f4" stroke-width="0.4" fill="none"/>
<path d="M323.61 537.00H417.81M323.61 512.26H417.81M323.61 487.52H417.81M323.61 462.78H417.81M325.95 442.2V541.3M329.84 442.2V541.3M333.73 442.2V541.3M337.62 442.2V541.3M341.52 442.2V541.3M345.41 442.2V541.3M349.30 442.2V541.3M353.19 442.2V541.3M357.09 442.2V541.3M360.98 442.2V541.3M364.87 442.2V541.3M368.76 442.2V541.3M372.66 442.2V541.3M376.55 442.2V541.3M380.44 442.2V541.3M384.33 442.2V541.3M388.23 442.2V541.3M392.12 442.2V541.3M396.01 442.2V541.3M399.90 442.2V541.3M403.80 442.2V541.3M407.69 442.2V541.3M411.58 442.2V541.3M415.47 442.2V541.3" stroke="#ebebeb" stroke-width="0.6" fill="none"/>
<clipPath id="cb23"><rect x="323.61" y="442.2" width="94.2" height="99.10"/></clipPath>
<g clip-path="url(#cb23)">
<path d="M325.95 474.53V488.51M325.95 502.36V508.43M329.84 480.35V489.99M329.84 505.58V510.40M333.73 475.15V491.73M333.73 505.21V514.49M337.62 479.85V493.58M337.62 509.41V520.80M341.52 477.38V493.58M341.52 506.20V511.27M345.41 478.98V496.67M349.30 484.06V488.14M349.30 500.51V505.58M353.19 481.21V490.37M353.19 509.41V537.00M357.09 480.84V494.69M360.98 480.84V485.29M360.98 494.57V497.04M364.87 483.69V491.35M364.87 506.20V507.56M368.76 453.26V495.56M372.66 459.93V495.56M376.55 466.61V490.37M376.55 505.58V514.12M380.44 477.38V488.88M380.44 504.22V516.09M384.33 491.35V495.56M384.33 509.41V510.78M388.23 458.08V493.21M392.12 479.85V493.21M392.12 516.09V537.00M396.01 484.06V493.21M399.90 484.06V490.98M399.90 506.20V511.27M403.80 477.01V497.04M407.69 485.05V498.03M411.58 482.20V499.89M415.47 481.21V494.57" stroke="#666" stroke-width="0.7" fill="none"/>
<path d="M324.31 488.51h3.27V502.36h-3.27zM328.20 489.99h3.27V505.58h-3.27zM332.10 491.73h3.27V505.21h-3.27zM335.99 493.58h3.27V509.41h-3.27zM339.88 493.58h3.27V506.20h-3.27zM343.77 496.67h3.27V537.00h-3.27zM347.67 488.14h3.27V500.51h-3.27zM351.56 490.37h3.27V509.41h-3.27zM355.45 494.69h3.27V537.00h-3.27zM359.34 485.29h3.27V494.57h-3.27zM363.24 491.35h3.27V506.20h-3.27zM367.13 495.56h3.27V537.00h-3.27zM371.02 495.56h3.27V537.00h-3.27zM374.91 490.37h3.27V505.58h-3.27zM378.81 488.88h3.27V504.22h-3.27zM382.70 495.56h3.27V509.41h-3.27zM386.59 493.21h3.27V537.00h-3.27zM390.48 493.21h3.27V516.09h-3.27zM394.38 493.21h3.27V537.00h-3.27zM398.27 490.98h3.27V506.20h-3.27zM402.16 497.04h3.27V537.00h-3.27zM406.05 498.03h3.27V537.00h-3.27zM409.95 499.89h3.27V537.00h-3.27zM413.84 494.57h3.27V537.00h-3.27z" fill="#00C094" stroke="#5e5e5e" stroke-width="0.55"/>
<path d="M324.31 495.19h3.27M328.20 497.04h3.27M332.10 498.03h3.27M335.99 501.25h3.27M339.88 498.53h3.27M343.77 505.21h3.27M347.67 493.58h3.27M351.56 496.43h3.27M355.45 504.22h3.27M359.34 490.98h3.27M363.24 498.41h3.27M367.13 503.35h3.27M371.02 503.35h3.27M374.91 498.41h3.27M378.81 495.56h3.27M382.70 499.89h3.27M386.59 500.51h3.27M390.48 497.66h3.27M394.38 504.22h3.27M398.27 497.04h3.27M402.16 505.21h3.27M406.05 512.26h3.27M413.84 503.35h3.27" stroke="#444" stroke-width="0.9" fill="none"/>
<g fill="#000"><circle cx="325.95" cy="537.00" r="0.64"/><circle cx="329.84" cy="537.00" r="0.64"/><circle cx="333.73" cy="470.45" r="0.64"/><circle cx="333.73" cy="537.00" r="0.64"/><circle cx="337.62" cy="537.00" r="0.64"/><circle cx="341.52" cy="537.00" r="0.64"/><circle cx="349.30" cy="537.00" r="0.64"/><circle cx="360.98" cy="537.00" r="0.64"/><circle cx="364.87" cy="537.00" r="0.64"/><circle cx="376.55" cy="455.11" r="0.64"/><circle cx="376.55" cy="458.45" r="0.64"/><circle cx="376.55" cy="464.26" r="0.64"/><circle cx="376.55" cy="537.00" r="0.64"/><circle cx="380.44" cy="537.00" r="0.64"/><circle cx="384.33" cy="537.00" r="0.64"/><circle cx="399.90" cy="537.00" r="0.64"/></g>
</g>
<rect x="323.61" y="442.2" width="94.2" height="99.10" fill="none" stroke="#8a8a8a" stroke-width="0.9"/>
<text x="370.71" y="439.60" font-size="6.9" font-weight="bold" text-anchor="middle" fill="#1a1a1a">CD8 T cells</text>
<rect x="420.08" y="432.2" width="94.2" height="10.00" fill="#d9d9d9" stroke="#8a8a8a" stroke-width="0.9"/>
<rect x="420.08" y="442.2" width="94.2" height="99.10" fill="#fff"/>
<path d="M420.08 524.63H514.28M420.08 499.89H514.28M420.08 475.15H514.28M420.08 450.41H514.28" stroke="#f4f4f4" stroke-width="0.4" fill="none"/>
<path d="M420.08 537.00H514.28M420.08 512.26H514.28M420.08 487.52H514.28M420.08 462.78H514.28M422.42 442.2V541.3M426.31 442.2V541.3M430.20 442.2V541.3M434.09 442.2V541.3M437.99 442.2V541.3M441.88 442.2V541.3M445.77 442.2V541.3M449.66 442.2V541.3M453.56 442.2V541.3M457.45 442.2V541.3M461.34 442.2V541.3M465.23 442.2V541.3M469.13 442.2V541.3M473.02 442.2V541.3M476.91 442.2V541.3M480.80 442.2V541.3M484.70 442.2V541.3M488.59 442.2V541.3M492.48 442.2V541.3M496.37 442.2V541.3M500.27 442.2V541.3M504.16 442.2V541.3M508.05 442.2V541.3M511.94 442.2V541.3" stroke="#ebebeb" stroke-width="0.6" fill="none"/>
<clipPath id="cb24"><rect x="420.08" y="442.2" width="94.2" height="99.10"/></clipPath>
<g clip-path="url(#cb24)">
<path d="M422.42 489.75V499.89M422.42 510.40V521.78M426.31 486.16V506.57M430.20 491.73V512.63M434.09 500.88V522.40M437.99 498.03V507.56M437.99 521.41V523.64M445.77 489.00V496.43M445.77 518.32V519.93M449.66 516.96V525.00M453.56 488.14V504.22M453.56 516.96V519.93M457.45 489.00V498.90M461.34 495.19V508.05M465.23 490.37V505.58M469.13 492.84V500.88M469.13 514.12V516.09M473.02 486.90V499.89M473.02 513.74V515.11M476.91 488.14V504.22M480.80 504.59V514.12M484.70 485.05V495.56M484.70 510.40V516.09M488.59 492.22V506.94M492.48 495.19V512.63M496.37 485.05V506.20M500.27 497.04V516.59M504.16 498.03V503.72M508.05 496.67V506.57M511.94 493.21V498.03" stroke="#666" stroke-width="0.7" fill="none"/>
<path d="M420.78 499.89h3.27V510.40h-3.27zM424.67 506.57h3.27V537.00h-3.27zM428.57 512.63h3.27V537.00h-3.27zM432.46 522.40h3.27V537.00h-3.27zM436.35 507.56h3.27V521.41h-3.27zM444.14 496.43h3.27V518.32h-3.27zM448.03 525.00h3.27V537.00h-3.27zM451.92 504.22h3.27V516.96h-3.27zM455.81 498.90h3.27V537.00h-3.27zM459.71 508.05h3.27V537.00h-3.27zM463.60 505.58h3.27V537.00h-3.27zM467.49 500.88h3.27V514.12h-3.27zM471.38 499.89h3.27V513.74h-3.27zM475.28 504.22h3.27V537.00h-3.27zM479.17 514.12h3.27V537.00h-3.27zM483.06 495.56h3.27V510.40h-3.27zM486.95 506.94h3.27V537.00h-3.27zM490.85 512.63h3.27V537.00h-3.27zM494.74 506.20h3.27V537.00h-3.27zM498.63 516.59h3.27V537.00h-3.27zM502.52 503.72h3.27V537.00h-3.27zM506.42 506.57h3.27V537.00h-3.27zM510.31 498.03h3.27V537.00h-3.27z" fill="#00B6EB" stroke="#5e5e5e" stroke-width="0.55"/>
<path d="M420.78 502.12h3.27M424.67 520.80h3.27M428.57 516.09h3.27M436.35 514.12h3.27M444.14 505.21h3.27M451.92 511.27h3.27M455.81 512.26h3.27M459.71 521.41h3.27M463.60 515.11h3.27M467.49 508.05h3.27M471.38 505.58h3.27M475.28 517.95h3.27M483.06 499.27h3.27M486.95 520.30h3.27M494.74 515.11h3.27M502.52 515.11h3.27M506.42 515.11h3.27M510.31 506.57h3.27" stroke="#444" stroke-width="0.9" fill="none"/>
<path d="M440.24 537.00h3.27" stroke="#6e6e6e" stroke-width="1.5" fill="none"/>
<g fill="#000"><circle cx="422.42" cy="537.00" r="0.64"/><circle cx="434.09" cy="485.29" r="0.64"/><circle cx="434.09" cy="487.52" r="0.64"/><circle cx="434.09" cy="489.75" r="0.64"/><circle cx="434.09" cy="492.72" r="0.64"/><circle cx="437.99" cy="537.00" r="0.64"/><circle cx="441.88" cy="490.98" r="0.64"/><circle cx="441.88" cy="515.11" r="0.64"/><circle cx="441.88" cy="516.96" r="0.64"/><circle cx="445.77" cy="537.00" r="0.64"/><circle cx="449.66" cy="506.20" r="0.64"/><circle cx="453.56" cy="537.00" r="0.64"/><circle cx="469.13" cy="537.00" r="0.64"/><circle cx="473.02" cy="537.00" r="0.64"/><circle cx="484.70" cy="537.00" r="0.64"/></g>
</g>
<rect x="420.08" y="442.2" width="94.2" height="99.10" fill="none" stroke="#8a8a8a" stroke-width="0.9"/>
<text x="467.18" y="439.60" font-size="6.9" font-weight="bold" text-anchor="middle" fill="#1a1a1a">Dendritic cells</text>
<rect x="516.55" y="432.2" width="94.2" height="10.00" fill="#d9d9d9" stroke="#8a8a8a" stroke-width="0.9"/>
<rect x="516.55" y="442.2" width="94.2" height="99.10" fill="#fff"/>
<path d="M516.55 524.63H610.75M516.55 499.89H610.75M516.55 475.15H610.75M516.55 450.41H610.75" stroke="#f4f4f4" stroke-width="0.4" fill="none"/>
<path d="M516.55 537.00H610.75M516.55 512.26H610.75M516.55 487.52H610.75M516.55 462.78H610.75M518.89 442.2V541.3M522.78 442.2V541.3M526.67 442.2V541.3M530.56 442.2V541.3M534.46 442.2V541.3M538.35 442.2V541.3M542.24 442.2V541.3M546.13 442.2V541.3M550.03 442.2V541.3M553.92 442.2V541.3M557.81 442.2V541.3M561.70 442.2V541.3M565.60 442.2V541.3M569.49 442.2V541.3M573.38 442.2V541.3M577.27 442.2V541.3M581.17 442.2V541.3M585.06 442.2V541.3M588.95 442.2V541.3M592.84 442.2V541.3M596.74 442.2V541.3M600.63 442.2V541.3M604.52 442.2V541.3M608.41 442.2V541.3" stroke="#ebebeb" stroke-width="0.6" fill="none"/>
<clipPath id="cb25"><rect x="516.55" y="442.2" width="94.2" height="99.10"/></clipPath>
<g clip-path="url(#cb25)">
<path d="M518.89 493.21V502.74M518.89 517.95V537.00M522.78 487.52V514.12M526.67 486.16V508.05M534.46 494.20V511.89M538.35 498.90V520.80M542.24 494.20V506.94M546.13 499.89V518.94M550.03 489.75V513.74M553.92 488.14V503.72M557.81 489.75V516.09M561.70 493.21V512.26M565.60 489.00V514.12M569.49 495.19V506.57M573.38 479.36V511.89M577.27 513.25V526.49M581.17 495.19V502.12M581.17 530.94V537.00M585.06 493.21V517.46M588.95 509.41V525.25M592.84 493.21V514.49" stroke="#666" stroke-width="0.7" fill="none"/>
<path d="M517.25 502.74h3.27V517.95h-3.27zM521.14 514.12h3.27V537.00h-3.27zM525.04 508.05h3.27V537.00h-3.27zM532.82 511.89h3.27V537.00h-3.27zM536.71 520.80h3.27V537.00h-3.27zM540.61 506.94h3.27V537.00h-3.27zM544.50 518.94h3.27V537.00h-3.27zM548.39 513.74h3.27V537.00h-3.27zM552.28 503.72h3.27V537.00h-3.27zM556.18 516.09h3.27V537.00h-3.27zM560.07 512.26h3.27V537.00h-3.27zM563.96 514.12h3.27V537.00h-3.27zM567.85 506.57h3.27V537.00h-3.27zM571.75 511.89h3.27V537.00h-3.27zM575.64 526.49h3.27V537.00h-3.27zM579.53 502.12h3.27V530.94h-3.27zM583.42 517.46h3.27V537.00h-3.27zM587.32 525.25h3.27V537.00h-3.27zM591.21 514.49h3.27V537.00h-3.27z" fill="#A58AFF" stroke="#5e5e5e" stroke-width="0.55"/>
<path d="M517.25 508.05h3.27M525.04 516.09h3.27M532.82 519.93h3.27M540.61 517.95h3.27M552.28 528.96h3.27M567.85 516.09h3.27M571.75 522.40h3.27M579.53 506.20h3.27" stroke="#444" stroke-width="0.9" fill="none"/>
<path d="M528.93 537.00h3.27M595.10 537.00h3.27M598.99 537.00h3.27M602.89 537.00h3.27M606.78 537.00h3.27" stroke="#6e6e6e" stroke-width="1.5" fill="none"/>
<g fill="#000"><circle cx="530.56" cy="483.31" r="0.64"/><circle cx="530.56" cy="485.29" r="0.64"/><circle cx="530.56" cy="489.99" r="0.64"/><circle cx="530.56" cy="491.35" r="0.64"/><circle cx="530.56" cy="496.06" r="0.64"/><circle cx="530.56" cy="521.78" r="0.64"/><circle cx="530.56" cy="520.62" r="0.64"/><circle cx="530.56" cy="519.46" r="0.64"/><circle cx="530.56" cy="518.30" r="0.64"/><circle cx="530.56" cy="517.14" r="0.64"/><circle cx="530.56" cy="515.98" r="0.64"/><circle cx="530.56" cy="514.82" r="0.64"/><circle cx="530.56" cy="513.66" r="0.64"/><circle cx="530.56" cy="512.49" r="0.64"/><circle cx="530.56" cy="511.33" r="0.64"/><circle cx="530.56" cy="510.17" r="0.64"/><circle cx="530.56" cy="509.01" r="0.64"/><circle cx="530.56" cy="507.85" r="0.64"/><circle cx="530.56" cy="506.69" r="0.64"/><circle cx="530.56" cy="505.53" r="0.64"/><circle cx="530.56" cy="504.36" r="0.64"/><circle cx="530.56" cy="503.20" r="0.64"/><circle cx="530.56" cy="502.04" r="0.64"/><circle cx="530.56" cy="500.88" r="0.64"/><circle cx="538.35" cy="485.66" r="0.64"/><circle cx="538.35" cy="490.37" r="0.64"/><circle cx="538.35" cy="492.22" r="0.64"/><circle cx="538.35" cy="494.20" r="0.64"/><circle cx="577.27" cy="503.35" r="0.64"/><circle cx="577.27" cy="505.58" r="0.64"/><circle cx="577.27" cy="508.05" r="0.64"/><circle cx="588.95" cy="494.20" r="0.64"/><circle cx="588.95" cy="503.72" r="0.64"/><circle cx="588.95" cy="505.58" r="0.64"/><circle cx="588.95" cy="507.56" r="0.64"/><circle cx="596.74" cy="488.88" r="0.64"/><circle cx="596.74" cy="495.19" r="0.64"/><circle cx="596.74" cy="497.04" r="0.64"/><circle cx="596.74" cy="516.96" r="0.64"/><circle cx="596.74" cy="515.82" r="0.64"/><circle cx="596.74" cy="514.68" r="0.64"/><circle cx="596.74" cy="513.55" r="0.64"/><circle cx="596.74" cy="512.41" r="0.64"/><circle cx="596.74" cy="511.27" r="0.64"/><circle cx="596.74" cy="510.13" r="0.64"/><circle cx="596.74" cy="508.99" r="0.64"/><circle cx="596.74" cy="507.86" r="0.64"/><circle cx="596.74" cy="506.72" r="0.64"/><circle cx="596.74" cy="505.58" r="0.64"/><circle cx="596.74" cy="504.44" r="0.64"/><circle cx="596.74" cy="503.30" r="0.64"/><circle cx="596.74" cy="502.17" r="0.64"/><circle cx="596.74" cy="501.03" r="0.64"/><circle cx="596.74" cy="499.89" r="0.64"/><circle cx="596.74" cy="521.78" r="0.64"/><circle cx="600.63" cy="494.20" r="0.64"/><circle cx="600.63" cy="496.43" r="0.64"/><circle cx="600.63" cy="500.88" r="0.64"/><circle cx="600.63" cy="502.74" r="0.64"/><circle cx="600.63" cy="504.59" r="0.64"/><circle cx="600.63" cy="506.57" r="0.64"/><circle cx="600.63" cy="508.43" r="0.64"/><circle cx="600.63" cy="510.40" r="0.64"/><circle cx="600.63" cy="512.26" r="0.64"/><circle cx="600.63" cy="514.12" r="0.64"/><circle cx="600.63" cy="516.09" r="0.64"/><circle cx="604.52" cy="500.88" r="0.64"/><circle cx="604.52" cy="502.74" r="0.64"/><circle cx="604.52" cy="504.59" r="0.64"/><circle cx="604.52" cy="506.57" r="0.64"/><circle cx="604.52" cy="508.43" r="0.64"/><circle cx="604.52" cy="510.40" r="0.64"/><circle cx="604.52" cy="512.26" r="0.64"/><circle cx="604.52" cy="514.12" r="0.64"/><circle cx="608.41" cy="501.25" r="0.64"/><circle cx="608.41" cy="503.11" r="0.64"/><circle cx="608.41" cy="505.09" r="0.64"/><circle cx="608.41" cy="506.94" r="0.64"/><circle cx="608.41" cy="508.80" r="0.64"/><circle cx="608.41" cy="510.78" r="0.64"/><circle cx="608.41" cy="512.63" r="0.64"/><circle cx="608.41" cy="514.12" r="0.64"/></g>
</g>
<rect x="516.55" y="442.2" width="94.2" height="99.10" fill="none" stroke="#8a8a8a" stroke-width="0.9"/>
<text x="563.65" y="439.60" font-size="6.9" font-weight="bold" text-anchor="middle" fill="#1a1a1a">FCGR3A+ Monocytes</text>
<rect x="613.02" y="432.2" width="94.2" height="10.00" fill="#d9d9d9" stroke="#8a8a8a" stroke-width="0.9"/>
<rect x="613.02" y="442.2" width="94.2" height="99.10" fill="#fff"/>
<path d="M613.02 524.63H707.22M613.02 499.89H707.22M613.02 475.15H707.22M613.02 450.41H707.22" stroke="#f4f4f4" stroke-width="0.4" fill="none"/>
<path d="M613.02 537.00H707.22M613.02 512.26H707.22M613.02 487.52H707.22M613.02 462.78H707.22M615.36 442.2V541.3M619.25 442.2V541.3M623.14 442.2V541.3M627.03 442.2V541.3M630.93 442.2V541.3M634.82 442.2V541.3M638.71 442.2V541.3M642.60 442.2V541.3M646.50 442.2V541.3M650.39 442.2V541.3M654.28 442.2V541.3M658.17 442.2V541.3M662.07 442.2V541.3M665.96 442.2V541.3M669.85 442.2V541.3M673.74 442.2V541.3M677.64 442.2V541.3M681.53 442.2V541.3M685.42 442.2V541.3M689.31 442.2V541.3M693.21 442.2V541.3M697.10 442.2V541.3M700.99 442.2V541.3M704.88 442.2V541.3" stroke="#ebebeb" stroke-width="0.6" fill="none"/>
<clipPath id="cb26"><rect x="613.02" y="442.2" width="94.2" height="99.10"/></clipPath>
<g clip-path="url(#cb26)">
<path d="M615.36 474.78V490.37M615.36 506.57V514.49M619.25 478.00V494.20M623.14 480.84V495.19M627.03 485.05V505.58M630.93 480.84V491.73M630.93 505.58V506.94M634.82 478.98V497.04M638.71 485.05V493.83M638.71 522.40V537.00M642.60 483.31V494.20M646.50 488.88V505.21M650.39 470.45V489.00M650.39 504.59V512.26M654.28 480.47V495.68M658.17 484.06V500.88M662.07 481.21V500.88M665.96 457.09V492.72M669.85 478.98V488.51M669.85 502.74V511.27M673.74 477.38V491.73M673.74 506.57V511.27M677.64 475.77V492.72M681.53 471.32V493.21M685.42 483.69V500.51M689.31 480.35V494.20M689.31 518.32V537.00M693.21 474.53V497.42M697.10 486.16V502.36M700.99 482.20V508.43M704.88 480.84V498.90" stroke="#666" stroke-width="0.7" fill="none"/>
<path d="M613.72 490.37h3.27V506.57h-3.27zM617.61 494.20h3.27V537.00h-3.27zM621.51 495.19h3.27V537.00h-3.27zM625.40 505.58h3.27V537.00h-3.27zM629.29 491.73h3.27V505.58h-3.27zM633.18 497.04h3.27V537.00h-3.27zM637.08 493.83h3.27V522.40h-3.27zM640.97 494.20h3.27V537.00h-3.27zM644.86 505.21h3.27V537.00h-3.27zM648.75 489.00h3.27V504.59h-3.27zM652.65 495.68h3.27V537.00h-3.27zM656.54 500.88h3.27V537.00h-3.27zM660.43 500.88h3.27V537.00h-3.27zM664.32 492.72h3.27V537.00h-3.27zM668.22 488.51h3.27V502.74h-3.27zM672.11 491.73h3.27V506.57h-3.27zM676.00 492.72h3.27V537.00h-3.27zM679.89 493.21h3.27V537.00h-3.27zM683.79 500.51h3.27V537.00h-3.27zM687.68 494.20h3.27V518.32h-3.27zM691.57 497.42h3.27V537.00h-3.27zM695.46 502.36h3.27V537.00h-3.27zM699.36 508.43h3.27V537.00h-3.27zM703.25 498.90h3.27V537.00h-3.27z" fill="#FB61D7" stroke="#5e5e5e" stroke-width="0.55"/>
<path d="M613.72 499.27h3.27M617.61 502.12h3.27M621.51 504.59h3.27M629.29 499.27h3.27M633.18 506.20h3.27M637.08 502.12h3.27M640.97 499.52h3.27M648.75 495.19h3.27M652.65 503.35h3.27M664.32 501.25h3.27M668.22 494.20h3.27M672.11 496.43h3.27M676.00 501.25h3.27M679.89 501.75h3.27M683.79 514.12h3.27M687.68 500.88h3.27M691.57 506.94h3.27" stroke="#444" stroke-width="0.9" fill="none"/>
<g fill="#000"><circle cx="615.36" cy="537.00" r="0.64"/><circle cx="630.93" cy="537.00" r="0.64"/><circle cx="650.39" cy="537.00" r="0.64"/><circle cx="669.85" cy="537.00" r="0.64"/><circle cx="673.74" cy="537.00" r="0.64"/></g>
</g>
<rect x="613.02" y="442.2" width="94.2" height="99.10" fill="none" stroke="#8a8a8a" stroke-width="0.9"/>
<text x="660.12" y="439.60" font-size="6.9" font-weight="bold" text-anchor="middle" fill="#1a1a1a">NK cells</text>
</svg>
</body></html>
